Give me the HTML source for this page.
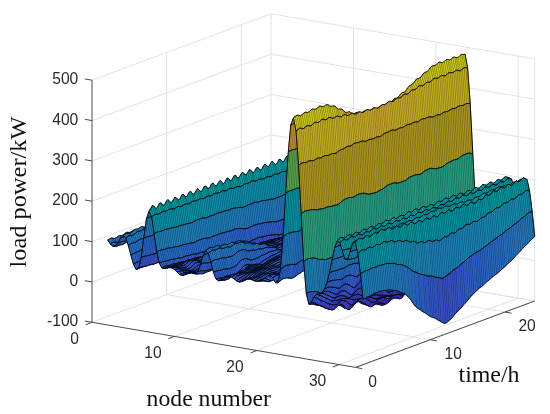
<!DOCTYPE html>
<html><head><meta charset="utf-8"><title>load power</title><style>html,body{margin:0;padding:0;background:#fff}svg{display:block}</style></head><body>
<svg width="550" height="414" viewBox="0 0 550 414">
<style>.h{stroke:#000;stroke-opacity:.5;stroke-width:.6;fill:none}.e{stroke:#000;stroke-opacity:.9;stroke-width:1;fill:none;stroke-linejoin:round}</style>
<rect width="550" height="414" fill="#fff"/>
<path d="M92 322.3L271.1 255.9M271.1 255.9L534.7 301M92 281.9L271.1 215.5M271.1 215.5L534.7 260.6M92 241.6L271.1 175.2M271.1 175.2L534.7 220.3M92 201.2L271.1 134.8M271.1 134.8L534.7 179.9M92 160.9L271.1 94.5M271.1 94.5L534.7 139.6M92 120.6L271.1 54.1M271.1 54.1L534.7 99.2M92 80.2L271.1 13.8M271.1 13.8L534.7 58.9M166.6 294.6L166.6 52.5M166.6 294.6L430.2 339.7M241.2 267L241.2 24.9M241.2 267L504.9 312M271.1 255.9L271.1 13.8M271.1 255.9L534.7 301M353.5 270L353.5 27.9M174.4 336.4L353.5 270M435.9 284.1L435.9 42M256.8 350.5L435.9 284.1M518.2 298.2L518.2 56.1M339.1 364.6L518.2 298.2M534.7 301L534.7 58.9M355.6 367.4L534.7 301" stroke="#e2e2e2" stroke-width="1" fill="none"/>
<g stroke-linejoin="round" stroke-width=".4">
<path d="M107.7 239.9l1.7-.9 1.8-1 1.7 .1 1.7 .4 1.8-.8 1.7-1.5 1.7-.7 1.8 .1 1.7-.6 1.7-1.7 1.8-1.1 1.7 .2 1.7-.1 1.8-1.1 1.7-1.2 2.6 4-1.7 1.4-1.8 1.3-1.7 .2-1.7-.2-1.8 .8-1.7 1.4-1.8 .5-1.7-.1-1.7 .7-1.8 1.6-1.7 .8-1.7-.2-1.8-.1-1.7 1-1.7 .8z" fill="#2676cc" stroke="#2676cc"/>
<path class="h" d="M107.7 239.9l2.6 4M109.4 239l2.6 4.1M111.2 238l2.5 4.1M112.9 238.1l2.6 4.1M114.6 238.5l2.6 3.9M116.4 237.7l2.5 3.9M118.1 236.2l2.6 3.8M119.8 235.5l2.6 3.8M121.6 235.6l2.5 3.8M123.3 235l2.6 3.9M125 233.3l2.6 4.2M126.8 232.2l2.6 4.5M128.5 232.4l2.6 4.5M130.2 232.3l2.6 4.4M132 231.2l2.6 4.2M133.7 230l2.6 4"/>
<path class="e" d="M107.7 239.9l2.6 4"/>
<path class="e" d="M107.7 239.9l1.7-.9 1.8-1 1.7 .1 1.7 .4 1.8-.8 1.7-1.5 1.7-.7 1.8 .1 1.7-.6 1.7-1.7 1.8-1.1 1.7 .2 1.7-.1 1.8-1.1 1.7-1.2"/>
<path class="e" d="M110.3 243.9l1.7-.8 1.7-1 1.8 .1 1.7 .2 1.7-.8 1.8-1.6 1.7-.7 1.7 .1 1.8-.5 1.7-1.4 1.8-.8 1.7 .2 1.7-.2 1.8-1.3 1.7-1.4"/>
<path d="M110.3 243.9l1.7-.8 1.7-1 1.8 .1 1.7 .2 1.7-.8 2.6 2.4-1.7 .9-1.7 0-1.8 .1-1.7 .8-1.7 .7z" fill="#2671cf" stroke="#2671cf"/>
<path class="h" d="M110.3 243.9l2.6 2.6M112 243.1l2.6 2.7M113.7 242.1l2.6 2.9M115.5 242.2l2.6 2.7M117.2 242.4l2.6 2.5M118.9 241.6l2.6 2.4"/>
<path class="e" d="M110.3 243.9l2.6 2.6"/>
<path class="e" d="M110.3 243.9l1.7-.8 1.7-1 1.8 .1 1.7 .2 1.7-.8"/>
<path class="e" d="M112.9 246.5l1.7-.7 1.7-.8 1.8-.1 1.7 0 1.7-.9"/>
<path d="M112.9 246.5l1.7-.7 1.7-.8 2.6 .2-1.7 .7-1.8 .5z" fill="#2671cf" stroke="#2671cf"/>
<path class="h" d="M112.9 246.5l2.5-.1M114.6 245.8l2.6 .1M116.3 245l2.6 .2"/>
<path class="e" d="M112.9 246.5l2.5-.1"/>
<path class="e" d="M112.9 246.5l1.7-.7 1.7-.8"/>
<path class="e" d="M115.4 246.4l1.8-.5 1.7-.7"/>
<path d="M115.4 246.4l1.8-.5 1.7-.7 1.7-.3 1.8-.2 1.7-.9 1.7-1.2 1.8-.8 2.6-3.8-1.8 .9-1.7 1.3-1.7 .8-1.8 .4-1.7 .2-1.7 .7-1.8 .5z" fill="#2671cf" stroke="#2671cf"/>
<path class="h" d="M115.4 246.4l2.6-3.6M117.2 245.9l2.6-3.6M118.9 245.2l2.6-3.6M120.6 244.9l2.6-3.5M122.4 244.7l2.6-3.7M124.1 243.8l2.6-3.6M125.8 242.6l2.6-3.7M127.6 241.8l2.6-3.8"/>
<path class="e" d="M115.4 246.4l2.6-3.6"/>
<path class="e" d="M115.4 246.4l1.8-.5 1.7-.7 1.7-.3 1.8-.2 1.7-.9 1.7-1.2 1.8-.8"/>
<path class="e" d="M118 242.8l1.8-.5 1.7-.7 1.7-.2 1.8-.4 1.7-.8 1.7-1.3 1.8-.9"/>
<path d="M118 242.8l1.8-.5 1.7-.7 1.7-.2 1.8-.4 1.7-.8 2.6-5.1-1.8 1-1.7 .2-1.7 .2-1.8 .8-1.7 .6z" fill="#2676cc" stroke="#2676cc"/>
<path class="h" d="M118 242.8l2.6-4.9M119.8 242.3l2.5-5M121.5 241.6l2.6-5.1M123.2 241.4l2.6-5.1M125 241l2.5-4.9M126.7 240.2l2.6-5.1"/>
<path class="e" d="M118 242.8l2.6-4.9"/>
<path class="e" d="M118 242.8l1.8-.5 1.7-.7 1.7-.2 1.8-.4 1.7-.8"/>
<path class="e" d="M120.6 237.9l1.7-.6 1.8-.8 1.7-.2 1.7-.2 1.8-1"/>
<path d="M120.6 237.9l1.7-.6 1.8-.8 2.5-3.2-1.7 1-1.7 1z" fill="#247ac8" stroke="#247ac8"/>
<path class="h" d="M120.6 237.9l2.6-2.6M122.3 237.3l2.6-3M124.1 236.5l2.5-3.2"/>
<path class="e" d="M120.6 237.9l2.6-2.6"/>
<path class="e" d="M120.6 237.9l1.7-.6 1.8-.8"/>
<path class="e" d="M123.2 235.3l1.7-1 1.7-1"/>
<path d="M142.2 226.5l1.8 .5 1.7 .1 2.6 2.2-1.7-.1-1.8-.4z" fill="#217ec5" stroke="#217ec5"/>
<path d="M137 229.1l1.8-.6 1.7-1.3 1.7-.7 2.6 2.3-1.7 .6-1.7 1.3-1.8 .6z" fill="#1f82c2" stroke="#1f82c2"/>
<path d="M123.2 235.3l1.7-1 1.7-1 1.8-.1 1.7 .1 1.7-1.1 1.8-2 1.7-1 1.7-.1 2.6 2.2-1.7 .2-1.7 .9-1.8 1.9-1.7 1.1-1.7 0-1.8 .2-1.7 1.2-1.7 1z" fill="#217ec5" stroke="#217ec5"/>
<path class="h" d="M123.2 235.3l2.6 2.5M124.9 234.3l2.6 2.5M126.6 233.3l2.6 2.3M128.4 233.2l2.6 2.2M130.1 233.3l2.6 2.1M131.8 232.2l2.6 2.1M133.6 230.2l2.6 2.2M135.3 229.2l2.6 2.3M137 229.1l2.6 2.2M138.8 228.5l2.6 2.2M140.5 227.2l2.6 2.2M142.2 226.5l2.6 2.3M144 227l2.6 2.2M145.7 227.1l2.6 2.2"/>
<path class="e" d="M123.2 235.3l2.6 2.5"/>
<path class="e" d="M123.2 235.3l1.7-1 1.7-1 1.8-.1 1.7 .1 1.7-1.1 1.8-2 1.7-1 1.7-.1 1.8-.6 1.7-1.3 1.7-.7 1.8 .5 1.7 .1"/>
<path class="e" d="M125.8 237.8l1.7-1 1.7-1.2 1.8-.2 1.7 0 1.7-1.1 1.8-1.9 1.7-.9 1.7-.2 1.8-.6 1.7-1.3 1.7-.6 1.8 .4 1.7 .1"/>
<path d="M125.8 237.8l1.7-1 1.7-1.2 1.8-.2 1.7 0 1.7-1.1 1.8-1.9 1.7-.9 1.7-.2 1.8-.6 1.7-1.3 1.7-.6 2.6 8-1.7 .5-1.8 .8-1.7 .6-1.7 .4-1.8 .9-1.7 1.3-1.7 1-1.8 .5-1.7 .5-1.7 1-1.8 1z" fill="#217ec5" stroke="#217ec5"/>
<path class="h" d="M125.8 237.8l2.5 7.5M127.5 236.8l2.6 7.5M129.2 235.6l2.6 7.7M131 235.4l2.5 7.4M132.7 235.4l2.6 6.9M134.4 234.3l2.6 7M136.2 232.4l2.5 7.6M137.9 231.5l2.6 7.6M139.6 231.3l2.6 7.4M141.4 230.7l2.5 7.4M143.1 229.4l2.6 7.9M144.8 228.8l2.6 8"/>
<path class="e" d="M125.8 237.8l2.5 7.5"/>
<path class="e" d="M125.8 237.8l1.7-1 1.7-1.2 1.8-.2 1.7 0 1.7-1.1 1.8-1.9 1.7-.9 1.7-.2 1.8-.6 1.7-1.3 1.7-.6"/>
<path class="e" d="M128.3 245.3l1.8-1 1.7-1 1.7-.5 1.8-.5 1.7-1 1.7-1.3 1.8-.9 1.7-.4 1.7-.6 1.8-.8 1.7-.5"/>
<path d="M128.3 245.3l1.8-1 1.7-1 1.7-.5 1.8-.5 1.7-1 1.7-1.3 1.8-.9 1.7-.4 1.7-.6 2.6 10.1-1.7 .5-1.7 .4-1.8 .7-1.7 1.1-1.8 .9-1.7 .6-1.7 .7-1.8 1-1.7 1z" fill="#2676cc" stroke="#2676cc"/>
<path class="h" d="M128.3 245.3l2.6 9.8M130.1 244.3l2.5 9.8M131.8 243.3l2.6 9.8M133.5 242.8l2.6 9.6M135.3 242.3l2.5 9.5M137 241.3l2.6 9.6M138.7 240l2.6 9.8M140.5 239.1l2.6 10M142.2 238.7l2.6 10M143.9 238.1l2.6 10.1"/>
<path class="e" d="M128.3 245.3l2.6 9.8"/>
<path class="e" d="M128.3 245.3l1.8-1 1.7-1 1.7-.5 1.8-.5 1.7-1 1.7-1.3 1.8-.9 1.7-.4 1.7-.6"/>
<path class="e" d="M130.9 255.1l1.7-1 1.8-1 1.7-.7 1.7-.6 1.8-.9 1.7-1.1 1.8-.7 1.7-.4 1.7-.5"/>
<path d="M130.9 255.1l1.7-1 1.8-1 1.7-.7 1.7-.6 1.8-.9 1.7-1.1 1.8-.7 2.5 9.6-1.7 .6-1.7 .9-1.8 .8-1.7 .6-1.7 .6-1.8 1.1-1.7 1z" fill="#2a68d4" stroke="#2a68d4"/>
<path class="h" d="M130.9 255.1l2.6 9.2M132.6 254.1l2.6 9.2M134.4 253.1l2.6 9.1M136.1 252.4l2.6 9.2M137.8 251.8l2.6 9.2M139.6 250.9l2.6 9.3M141.3 249.8l2.6 9.5M143.1 249.1l2.5 9.6"/>
<path class="e" d="M130.9 255.1l2.6 9.2"/>
<path class="e" d="M130.9 255.1l1.7-1 1.8-1 1.7-.7 1.7-.6 1.8-.9 1.7-1.1 1.8-.7"/>
<path class="e" d="M133.5 264.3l1.7-1 1.8-1.1 1.7-.6 1.7-.6 1.8-.8 1.7-.9 1.7-.6"/>
<path d="M133.5 264.3l1.7-1 1.8-1.1 1.7-.6 1.7-.6 2.6 5.9-1.7 .4-1.8 .5-1.7 1-1.7 .8z" fill="#345dd6" stroke="#345dd6"/>
<path class="h" d="M133.5 264.3l2.6 5.3M135.2 263.3l2.6 5.5M137 262.2l2.5 5.6M138.7 261.6l2.6 5.7M140.4 261l2.6 5.9"/>
<path class="e" d="M133.5 264.3l2.6 5.3"/>
<path class="e" d="M133.5 264.3l1.7-1 1.8-1.1 1.7-.6 1.7-.6"/>
<path class="e" d="M136.1 269.6l1.7-.8 1.7-1 1.8-.5 1.7-.4"/>
<path d="M155.1 263.1l1.8-.2 1.7-.5 2.6-.8-1.7 .5-1.8 .3z" fill="#3a53d4" stroke="#3a53d4"/>
<path d="M148.2 265l1.7-.2 1.8-.4 2.6-.5-1.8 .4-1.7 .2z" fill="#3a53d4" stroke="#3a53d4"/>
<path d="M139.5 267.8l1.8-.5 1.7-.4 1.7-.6 2.6-.6-1.7 .5-1.7 .2-1.8 .4z" fill="#3a53d4" stroke="#3a53d4"/>
<path d="M136.1 269.6l1.7-.8 2.6-1.2-1.7 .7z" fill="#3a53d4" stroke="#3a53d4"/>
<path class="h" d="M136.1 269.6l2.6-1.3M137.8 268.8l2.6-1.2M139.5 267.8l2.6-1M141.3 267.3l2.6-.9M143 266.9l2.6-.7M144.7 266.3l2.6-.6M148.2 265l2.6-.5M149.9 264.8l2.6-.5M151.7 264.4l2.6-.5M155.1 263.1l2.6-.7M156.9 262.9l2.6-.8M158.6 262.4l2.6-.8"/>
<path class="e" d="M136.1 269.6l2.6-1.3"/>
<path class="e" d="M136.1 269.6l1.7-.8M139.5 267.8l1.8-.5 1.7-.4 1.7-.6M148.2 265l1.7-.2 1.8-.4M155.1 263.1l1.8-.2 1.7-.5"/>
<path class="e" d="M138.7 268.3l1.7-.7M142.1 266.8l1.8-.4 1.7-.2 1.7-.5M150.8 264.5l1.7-.2 1.8-.4M157.7 262.4l1.8-.3 1.7-.5"/>
<path d="M154.3 263.9l1.7-.8 1.7-.7 1.8-.3 2.5-11-1.7 .4-1.7 .8-1.8 .9z" fill="#3a53d4" stroke="#3a53d4"/>
<path d="M138.7 268.3l1.7-.7 1.7-.8 1.8-.4 1.7-.2 1.7-.5 1.8-.7 1.7-.5 1.7-.2 1.8-.4 2.5-10.7-1.7 .5-1.7 .3-1.8 .4-1.7 .7-1.7 .5-1.8 .2-1.7 .3-1.7 .7-1.8 .6z" fill="#3858d5" stroke="#3858d5"/>
<path class="h" d="M138.7 268.3l2.5-10.9M140.4 267.6l2.6-10.8M142.1 266.8l2.6-10.7M143.9 266.4l2.5-10.6M145.6 266.2l2.6-10.6M147.3 265.7l2.6-10.6M149.1 265l2.5-10.6M150.8 264.5l2.6-10.5M152.5 264.3l2.6-10.6M154.3 263.9l2.5-10.7M156 263.1l2.6-10.8M157.7 262.4l2.6-10.9M159.5 262.1l2.5-11"/>
<path class="e" d="M138.7 268.3l2.5-10.9"/>
<path class="e" d="M138.7 268.3l1.7-.7 1.7-.8 1.8-.4 1.7-.2 1.7-.5 1.8-.7 1.7-.5 1.7-.2 1.8-.4 1.7-.8 1.7-.7 1.8-.3"/>
<path class="e" d="M141.2 257.4l1.8-.6 1.7-.7 1.7-.3 1.8-.2 1.7-.5 1.7-.7 1.8-.4 1.7-.3 1.7-.5 1.8-.9 1.7-.8 1.7-.4"/>
<path d="M141.2 257.4l1.8-.6 1.7-.7 1.7-.3 1.8-.2 1.7-.5 1.7-.7 1.8-.4 1.7-.3 1.7-.5 2.6-20.2-1.7 .6-1.8 .4-1.7 .6-1.7 .8-1.8 .6-1.7 .3-1.7 .3-1.8 .7-1.7 .6z" fill="#2a68d4" stroke="#2a68d4"/>
<path class="h" d="M141.2 257.4l2.6-19.5M143 256.8l2.5-19.5M144.7 256.1l2.6-19.5M146.4 255.8l2.6-19.5M148.2 255.6l2.5-19.6M149.9 255.1l2.6-19.7M151.6 254.4l2.6-19.8M153.4 254l2.5-20M155.1 253.7l2.6-20.1M156.8 253.2l2.6-20.2"/>
<path class="e" d="M141.2 257.4l2.6-19.5"/>
<path class="e" d="M141.2 257.4l1.8-.6 1.7-.7 1.7-.3 1.8-.2 1.7-.5 1.7-.7 1.8-.4 1.7-.3 1.7-.5"/>
<path class="e" d="M143.8 237.9l1.7-.6 1.8-.7 1.7-.3 1.7-.3 1.8-.6 1.7-.8 1.7-.6 1.8-.4 1.7-.6"/>
<path d="M143.8 237.9l1.7-.6 1.8-.7 1.7-.3 1.7-.3 1.8-.6 1.7-.8 2.6-20.3-1.7 1.6-1.8 .9-1.7-.2-1.7 .1-1.8 1.2-1.7 1.1z" fill="#217ec5" stroke="#217ec5"/>
<path class="h" d="M143.8 237.9l2.6-18.9M145.5 237.3l2.6-19.4M147.3 236.6l2.6-19.9M149 236.3l2.6-19.7M150.7 236l2.6-19.2M152.5 235.4l2.6-19.5M154.2 234.6l2.6-20.3"/>
<path class="e" d="M143.8 237.9l2.6-18.9"/>
<path class="e" d="M143.8 237.9l1.7-.6 1.8-.7 1.7-.3 1.7-.3 1.8-.6 1.7-.8"/>
<path class="e" d="M146.4 219l1.7-1.1 1.8-1.2 1.7-.1 1.7 .2 1.8-.9 1.7-1.6"/>
<path d="M146.4 219l1.7-1.1 1.8-1.2 1.7-.1 2.6-10.1-1.8-.8-1.7 3-1.7 2.6z" fill="#0f95b4" stroke="#0f95b4"/>
<path class="h" d="M146.4 219l2.6-7.7M148.1 217.9l2.6-9.2M149.9 216.7l2.5-11M151.6 216.6l2.6-10.1"/>
<path class="e" d="M146.4 219l2.6-7.7"/>
<path class="e" d="M146.4 219l1.7-1.1 1.8-1.2 1.7-.1"/>
<path class="e" d="M149 211.3l1.7-2.6 1.7-3 1.8 .8"/>
<path d="M284.2 161.1l1.7-3.9 1.8-1.5 2.5 13.3-1.7 .7-1.7 1.2z" fill="#019da4" stroke="#019da4"/>
<path d="M279 159.4l1.7 .2 1.8 2.3 1.7-.8 2.6 9.8-1.8 .6-1.7-.1-1.7 .5z" fill="#019aaa" stroke="#019aaa"/>
<path d="M261.7 169.6l1.7-3.8 1.7-1.8 1.8 2 1.7 .9 1.7-3.1 1.8-2.6 1.7 1.4 1.7 2.1 1.8-1.9 1.7-3.4 2.6 12.5-1.8 1.3-1.7 1-1.7 0-1.8 .1-1.7 1.1-1.7 1.1-1.8 .2-1.7 0-1.7 .8-1.8 1.2z" fill="#019da4" stroke="#019da4"/>
<path d="M258.2 167.6l1.7 2.4 1.8-.4 2.5 9.1-1.7 .5-1.7-.2z" fill="#019aaa" stroke="#019aaa"/>
<path d="M149 211.3l1.7-2.6 1.7-3 1.8 .8 1.7 2.2 1.7-1.6 1.8-3.8 1.7-.5 1.7 2.3 1.8-.3 1.7-3.6 1.7-1.7 1.8 2.1 1.7 1.2 1.7-2.9 1.8-2.9 1.7 1.2 1.7 2 1.8-1.9 1.7-3.6 1.7-.2 1.8 2.4 1.7-.6 1.7-3.7 1.8-1.4 1.7 2.3 1.7 .8 1.8-3.2 1.7-2.6 1.7 1.5 1.8 1.8 1.7-2.3 1.7-3.4 1.8 .2 1.7 2.3 1.8-.9 1.7-3.7 1.7-1 1.8 2.4 1.7 .5 1.7-3.3 1.8-2.2 1.7 1.8 1.7 1.6 1.8-2.5 1.7-3.3 1.7 .6 1.8 2.3 1.7-1.3 1.7-3.7 1.8-.6 1.7 2.4 1.7 0 1.8-3.6 1.7-2 1.7 1.9 1.8 1.2 1.7-2.8 1.7-2.9 1.8 1.1 1.7 2.2 1.7-1.5 1.8-3.5 1.7-.2 2.6 11.4-1.8 .4-1.7 1.1-1.7 .7-1.8-.2-1.7 0-1.7 1.1-1.8 1.1-1.7 .4-1.7 .2-1.8 1.1-1.7 1.4-1.7 .4-1.8-.3-1.7 .3-1.7 1.1-1.8 .6-1.7-.2-1.7 .3-1.8 1.3-1.7 1.1-1.7 0-1.8-.1-1.7 .9-1.7 1.2-1.8 .3-1.7-.1-1.7 .7-1.8 1.4-1.7 .8-1.7-.1-1.8 .5-1.7 1.3-1.7 1-1.8-.1-1.7 0-1.7 1-1.8 1.1-1.7 .4-1.7 0-1.8 1-1.7 1.4-1.7 .7-1.8-.2-1.7 .5-1.7 1.2-1.8 .9-1.7-.1-1.7 .2-1.8 1.1-1.7 1.2-1.7 0-1.8-.1-1.7 .7-1.7 1.2-1.8 .5-1.7-.1-1.7 .7-1.8 1.4-1.7 .9-1.7 0-1.8 .2-1.7 1.1-1.7 1.1z" fill="#019da4" stroke="#019da4"/>
<path class="h" d="M149 211.3l2.6 5.3M150.7 208.7l2.6 6.8M152.4 205.7l2.6 8.7M154.2 206.5l2.6 7.7M155.9 208.7l2.6 5.5M157.6 207.1l2.6 6.2M159.4 203.3l2.6 8.6M161.1 202.8l2.6 8.4M162.8 205.1l2.6 6.2M164.6 204.8l2.6 6M166.3 201.2l2.6 8.4M168 199.5l2.6 9.4M169.8 201.6l2.6 7.4M171.5 202.8l2.6 6.2M173.2 199.9l2.6 7.9M175 197l2.6 9.7M176.7 198.2l2.6 8.3M178.4 200.2l2.6 6.4M180.2 198.3l2.6 7.4M181.9 194.7l2.6 9.8M183.6 194.5l2.6 9.5M185.4 196.9l2.6 7.3M187.1 196.3l2.6 7.2M188.8 192.6l2.6 9.5M190.6 191.2l2.6 9.9M192.3 193.5l2.6 7.6M194 194.3l2.6 6.4M195.8 191.1l2.6 8.5M197.5 188.5l2.6 10.1M199.2 190l2.6 8.6M201 191.8l2.6 6.9M202.7 189.5l2.6 8.2M204.4 186.1l2.6 10.3M206.2 186.3l2.6 9.6M207.9 188.6l2.6 7.4M209.7 187.7l2.5 7.5M211.4 184l2.6 9.8M213.1 183l2.6 10.1M214.9 185.4l2.5 7.8M216.6 185.9l2.6 7M218.3 182.6l2.6 9.1M220.1 180.4l2.5 10.4M221.8 182.2l2.6 8.7M223.5 183.8l2.6 7.1M225.3 181.3l2.5 8.5M227 178l2.6 10.5M228.7 178.6l2.6 9.6M230.5 180.9l2.5 7.5M232.2 179.6l2.6 8.2M233.9 175.9l2.6 10.8M235.7 175.3l2.5 11.1M237.4 177.7l2.6 9M239.1 177.7l2.6 8.6M240.9 174.1l2.5 10.8M242.6 172.1l2.6 11.7M244.3 174l2.6 9.6M246.1 175.2l2.5 8M247.8 172.4l2.6 9.7M249.5 169.5l2.6 11.5M251.3 170.6l2.5 10.4M253 172.8l2.6 8.4M254.7 171.3l2.6 9.2M256.5 167.8l2.5 11.6M258.2 167.6l2.6 11.4M259.9 170l2.6 9.2M261.7 169.6l2.5 9.1M263.4 165.8l2.6 11.7M265.1 164l2.6 12.7M266.9 166l2.5 10.7M268.6 166.9l2.6 9.6M270.3 163.8l2.6 11.6M272.1 161.2l2.5 13.1M273.8 162.6l2.6 11.6M275.5 164.7l2.6 9.5M277.3 162.8l2.5 10.4M279 159.4l2.6 12.5M280.7 159.6l2.6 11.8M282.5 161.9l2.5 9.6M284.2 161.1l2.6 9.8M285.9 157.2l2.6 12.5M287.7 155.7l2.5 13.3"/>
<path class="e" d="M149 211.3l2.6 5.3"/>
<path class="e" d="M149 211.3l1.7-2.6 1.7-3 1.8 .8 1.7 2.2 1.7-1.6 1.8-3.8 1.7-.5 1.7 2.3 1.8-.3 1.7-3.6 1.7-1.7 1.8 2.1 1.7 1.2 1.7-2.9 1.8-2.9 1.7 1.2 1.7 2 1.8-1.9 1.7-3.6 1.7-.2 1.8 2.4 1.7-.6 1.7-3.7 1.8-1.4 1.7 2.3 1.7 .8 1.8-3.2 1.7-2.6 1.7 1.5 1.8 1.8 1.7-2.3 1.7-3.4 1.8 .2 1.7 2.3 1.8-.9 1.7-3.7 1.7-1 1.8 2.4 1.7 .5 1.7-3.3 1.8-2.2 1.7 1.8 1.7 1.6 1.8-2.5 1.7-3.3 1.7 .6 1.8 2.3 1.7-1.3 1.7-3.7 1.8-.6 1.7 2.4 1.7 0 1.8-3.6 1.7-2 1.7 1.9 1.8 1.2 1.7-2.8 1.7-2.9 1.8 1.1 1.7 2.2 1.7-1.5 1.8-3.5 1.7-.2 1.7 2.4 1.8-.4 1.7-3.8 1.7-1.8 1.8 2 1.7 .9 1.7-3.1 1.8-2.6 1.7 1.4 1.7 2.1 1.8-1.9 1.7-3.4 1.7 .2 1.8 2.3 1.7-.8 1.7-3.9 1.8-1.5"/>
<path class="e" d="M151.6 216.6l1.7-1.1 1.7-1.1 1.8-.2 1.7 0 1.7-.9 1.8-1.4 1.7-.7 1.7 .1 1.8-.5 1.7-1.2 1.7-.7 1.8 .1 1.7 0 1.7-1.2 1.8-1.1 1.7-.2 1.7 .1 1.8-.9 1.7-1.2 1.7-.5 1.8 .2 1.7-.7 1.7-1.4 1.8-1 1.7 0 1.7-.4 1.8-1.1 1.7-1 1.7 0 1.8 .1 1.7-1 1.7-1.3 1.8-.5 1.7 .1 1.7-.8 1.8-1.4 1.7-.7 1.7 .1 1.8-.3 1.7-1.2 1.7-.9 1.8 .1 1.7 0 1.7-1.1 1.8-1.3 1.7-.3 1.7 .2 1.8-.6 1.7-1.1 1.7-.3 1.8 .3 1.7-.4 1.7-1.4 1.8-1.1 1.7-.2 1.7-.4 1.8-1.1 1.7-1.1 1.7 0 1.8 .2 1.7-.7 1.7-1.1 1.8-.4 1.7 .2 1.7-.5 1.8-1.2 1.7-.8 1.7 0 1.8-.2 1.7-1.1 1.7-1.1 1.8-.1 1.7 0 1.7-1 1.8-1.3 1.7-.5 1.7 .1 1.8-.6 1.7-1.2 1.7-.7"/>
<path d="M201.8 198.6l1.8 .1 1.7-1 1.7-1.3 1.8-.5 1.7 .1 1.7-.8 1.8-1.4 1.7-.7 1.7 .1 1.8-.3 1.7-1.2 1.7-.9 1.8 .1 1.7 0 1.7-1.1 1.8-1.3 1.7-.3 1.7 .2 1.8-.6 1.7-1.1 1.7-.3 1.8 .3 1.7-.4 1.7-1.4 1.8-1.1 1.7-.2 1.7-.4 1.8-1.1 1.7-1.1 1.7 0 1.8 .2 1.7-.7 1.7-1.1 1.8-.4 1.7 .2 1.7-.5 1.8-1.2 1.7-.8 1.7 0 1.8-.2 1.7-1.1 1.7-1.1 1.8-.1 1.7 0 1.7-1 1.8-1.3 1.7-.5 1.7 .1 1.8-.6 2.6 22.4-1.8 .4-1.7 .3-1.7 .6-1.8 1-1.7 .9-1.7 .5-1.8 .5-1.7 .8-1.7 .7-1.8 .2-1.7 .1-1.7 .4-1.8 .5-1.7 .3-1.7 .1-1.8 .3-1.7 .7-1.7 .5-1.8 .1-1.7 .2-1.7 .7-1.8 .9-1.7 .6-1.7 .6-1.8 1-1.7 .9-1.8 .3-1.7-.1-1.7 .1-1.8 .4-1.7 .2-1.7 .2-1.8 .4-1.7 .8-1.7 .8-1.8 .3-1.7 .3-1.7 .6-1.8 .8-1.7 .4-1.7 .3-1.8 .7-1.7 .9-1.7 .8-1.8 .4-1.7 .7-1.7 .9-1.8 .6-1.7 .1z" fill="#0f95b4" stroke="#0f95b4"/>
<path d="M189.7 203.5l1.7-1.4 1.8-1 1.7 0 1.7-.4 1.8-1.1 1.7-1 1.7 0 2.6 19.4-1.7 .1-1.8 .5-1.7 .7-1.7 .6-1.8 .6-1.7 .9-1.7 1.1z" fill="#0698af" stroke="#0698af"/>
<path d="M188 204.2l1.7-.7 2.6 19-1.8 .7z" fill="#0f95b4" stroke="#0f95b4"/>
<path d="M151.6 216.6l1.7-1.1 1.7-1.1 1.8-.2 1.7 0 1.7-.9 1.8-1.4 1.7-.7 1.7 .1 1.8-.5 1.7-1.2 1.7-.7 1.8 .1 1.7 0 1.7-1.2 1.8-1.1 1.7-.2 1.7 .1 1.8-.9 1.7-1.2 1.7-.5 1.8 .2 2.5 19-1.7 .2-1.7 .3-1.8 .7-1.7 .5-1.7 .3-1.8 .4-1.7 .8-1.7 .7-1.8 .3-1.7 .1-1.7 .5-1.8 .6-1.7 .4-1.7 .2-1.8 .6-1.7 .8-1.7 .7-1.8 .3-1.7 .4-1.7 .7-1.8 .7z" fill="#0698af" stroke="#0698af"/>
<path class="h" d="M151.6 216.6l2.5 16.8M153.3 215.5l2.6 17.2M155 214.4l2.6 17.6M156.8 214.2l2.5 17.4M158.5 214.2l2.6 17.1M160.2 213.3l2.6 17.3M162 211.9l2.5 17.9M163.7 211.2l2.6 18M165.4 211.3l2.6 17.7M167.2 210.8l2.5 17.8M168.9 209.6l2.6 18.4M170.6 208.9l2.6 18.6M172.4 209l2.5 18.4M174.1 209l2.6 18.1M175.8 207.8l2.6 18.6M177.6 206.7l2.5 18.9M179.3 206.5l2.6 18.7M181 206.6l2.6 18.3M182.8 205.7l2.5 18.7M184.5 204.5l2.6 19.2M186.2 204l2.6 19.4M188 204.2l2.5 19M189.7 203.5l2.6 19M191.4 202.1l2.6 19.3M193.2 201.1l2.5 19.4M194.9 201.1l2.6 18.8M196.6 200.7l2.6 18.6M198.4 199.6l2.5 19M200.1 198.6l2.6 19.5M201.8 198.6l2.6 19.4M203.6 198.7l2.5 19.2M205.3 197.7l2.6 19.6M207 196.4l2.6 20M208.8 195.9l2.5 19.8M210.5 196l2.6 19.3M212.2 195.2l2.6 19.3M214 193.8l2.5 19.8M215.7 193.1l2.6 19.8M217.4 193.2l2.6 19.4M219.2 192.9l2.5 19.3M220.9 191.7l2.6 19.7M222.6 190.8l2.6 20M224.4 190.9l2.5 19.6M226.1 190.9l2.6 19.3M227.8 189.8l2.6 19.6M229.6 188.5l2.5 20.1M231.3 188.2l2.6 20M233 188.4l2.6 19.6M234.8 187.8l2.5 20M236.5 186.7l2.6 20.7M238.2 186.4l2.6 20.9M240 186.7l2.5 20.7M241.7 186.3l2.6 20.8M243.4 184.9l2.6 21.3M245.2 183.8l2.6 21.4M246.9 183.6l2.6 21M248.6 183.2l2.6 20.8M250.4 182.1l2.6 21M252.1 181l2.6 21.4M253.8 181l2.6 21.2M255.6 181.2l2.6 20.9M257.3 180.5l2.6 21.1M259 179.4l2.6 21.5M260.8 179l2.6 21.6M262.5 179.2l2.6 21.3M264.2 178.7l2.6 21.5M266 177.5l2.6 22.2M267.7 176.7l2.6 22.6M269.4 176.7l2.6 22.5M271.2 176.5l2.6 22.5M272.9 175.4l2.6 22.9M274.6 174.3l2.6 23.2M276.4 174.2l2.6 22.8M278.1 174.2l2.6 22.3M279.8 173.2l2.6 22.4M281.6 171.9l2.6 22.7M283.3 171.4l2.6 22.6M285 171.5l2.6 22.2M286.8 170.9l2.6 22.4"/>
<path class="e" d="M151.6 216.6l2.5 16.8"/>
<path class="e" d="M151.6 216.6l1.7-1.1 1.7-1.1 1.8-.2 1.7 0 1.7-.9 1.8-1.4 1.7-.7 1.7 .1 1.8-.5 1.7-1.2 1.7-.7 1.8 .1 1.7 0 1.7-1.2 1.8-1.1 1.7-.2 1.7 .1 1.8-.9 1.7-1.2 1.7-.5 1.8 .2 1.7-.7 1.7-1.4 1.8-1 1.7 0 1.7-.4 1.8-1.1 1.7-1 1.7 0 1.8 .1 1.7-1 1.7-1.3 1.8-.5 1.7 .1 1.7-.8 1.8-1.4 1.7-.7 1.7 .1 1.8-.3 1.7-1.2 1.7-.9 1.8 .1 1.7 0 1.7-1.1 1.8-1.3 1.7-.3 1.7 .2 1.8-.6 1.7-1.1 1.7-.3 1.8 .3 1.7-.4 1.7-1.4 1.8-1.1 1.7-.2 1.7-.4 1.8-1.1 1.7-1.1 1.7 0 1.8 .2 1.7-.7 1.7-1.1 1.8-.4 1.7 .2 1.7-.5 1.8-1.2 1.7-.8 1.7 0 1.8-.2 1.7-1.1 1.7-1.1 1.8-.1 1.7 0 1.7-1 1.8-1.3 1.7-.5 1.7 .1 1.8-.6"/>
<path class="e" d="M154.1 233.4l1.8-.7 1.7-.7 1.7-.4 1.8-.3 1.7-.7 1.7-.8 1.8-.6 1.7-.2 1.7-.4 1.8-.6 1.7-.5 1.7-.1 1.8-.3 1.7-.7 1.7-.8 1.8-.4 1.7-.3 1.7-.5 1.8-.7 1.7-.3 1.7-.2 1.8-.7 1.7-1.1 1.7-.9 1.8-.6 1.7-.6 1.7-.7 1.8-.5 1.7-.1 1.7-.1 1.8-.6 1.7-.9 1.7-.7 1.8-.4 1.7-.8 1.7-.9 1.8-.7 1.7-.3 1.7-.4 1.8-.8 1.7-.6 1.7-.3 1.8-.3 1.7-.8 1.7-.8 1.8-.4 1.7-.2 1.7-.2 1.8-.4 1.7-.1 1.7 .1 1.8-.3 1.7-.9 1.8-1 1.7-.6 1.7-.6 1.8-.9 1.7-.7 1.7-.2 1.8-.1 1.7-.5 1.7-.7 1.8-.3 1.7-.1 1.7-.3 1.8-.5 1.7-.4 1.7-.1 1.8-.2 1.7-.7 1.7-.8 1.8-.5 1.7-.5 1.7-.9 1.8-1 1.7-.6 1.7-.3 1.8-.4"/>
<path d="M284.2 194.6l1.7-.6 2.6 22.9-1.8 .6z" fill="#217ec5" stroke="#217ec5"/>
<path d="M273.8 199l1.7-.7 1.7-.8 1.8-.5 1.7-.5 1.7-.9 1.8-1 2.5 22.9-1.7 1.1-1.7 .9-1.8 .5-1.7 .5-1.7 .7-1.8 .6z" fill="#247ac8" stroke="#247ac8"/>
<path d="M240.8 207.3l1.7 .1 1.8-.3 1.7-.9 1.8-1 1.7-.6 1.7-.6 1.8-.9 1.7-.7 1.7-.2 1.8-.1 1.7-.5 1.7-.7 1.8-.3 1.7-.1 1.7-.3 1.8-.5 1.7-.4 1.7-.1 1.8-.2 2.5 22.8-1.7 .1-1.7-.2-1.8 .2-1.7 .3-1.7 .2-1.8 0-1.7 .3-1.7 .7-1.8 .4-1.7 .1-1.7 .3-1.8 .6-1.7 .8-1.7 .7-1.8 .6-1.7 .9-1.7 .9-1.8 .2-1.7-.3z" fill="#217ec5" stroke="#217ec5"/>
<path d="M185.3 224.4l1.8-.7 1.7-.3 1.7-.2 1.8-.7 1.7-1.1 1.7-.9 1.8-.6 1.7-.6 1.7-.7 1.8-.5 1.7-.1 1.7-.1 1.8-.6 1.7-.9 1.7-.7 1.8-.4 1.7-.8 1.7-.9 1.8-.7 1.7-.3 1.7-.4 1.8-.8 1.7-.6 1.7-.3 1.8-.3 1.7-.8 1.7-.8 1.8-.4 1.7-.2 1.7-.2 1.8-.4 1.7-.1 2.6 21.3-1.7-.1-1.8 .1-1.7 .1-1.7 .1-1.8 .4-1.7 .9-1.7 .7-1.8 .4-1.7 .3-1.7 .5-1.8 .7-1.7 .4-1.7 .2-1.8 .6-1.7 .9-1.7 .7-1.8 .5-1.7 .7-1.7 .9-1.8 .6-1.7 .1-1.7 0-1.8 .4-1.7 .6-1.7 .4-1.8 .6-1.7 .9-1.7 1.1-1.8 .6-1.7 .1-1.8 .3-1.7 .5z" fill="#1f82c2" stroke="#1f82c2"/>
<path d="M154.1 233.4l1.8-.7 1.7-.7 1.7-.4 1.8-.3 1.7-.7 1.7-.8 1.8-.6 1.7-.2 1.7-.4 1.8-.6 1.7-.5 1.7-.1 1.8-.3 1.7-.7 1.7-.8 1.8-.4 1.7-.3 1.7-.5 2.6 19.4-1.7 .5-1.8 .2-1.7 .4-1.7 .7-1.8 .7-1.7 .3-1.7 .1-1.8 .3-1.7 .6-1.7 .3-1.8 .1-1.7 .4-1.7 .7-1.8 .6-1.7 .2-1.7 .4-1.8 .7-1.7 .6z" fill="#1e86c0" stroke="#1e86c0"/>
<path class="h" d="M154.1 233.4l2.6 18.2M155.9 232.7l2.5 18.3M157.6 232l2.6 18.3M159.3 231.6l2.6 18.3M161.1 231.3l2.5 18.4M162.8 230.6l2.6 18.5M164.5 229.8l2.6 18.6M166.3 229.2l2.5 18.8M168 229l2.6 18.9M169.7 228.6l2.6 19M171.5 228l2.5 19M173.2 227.5l2.6 19.2M174.9 227.4l2.6 19.2M176.7 227.1l2.5 19.2M178.4 226.4l2.6 19.2M180.1 225.6l2.6 19.3M181.9 225.2l2.5 19.3M183.6 224.9l2.6 19.4M185.3 224.4l2.6 19.4M187.1 223.7l2.5 19.6M188.8 223.4l2.6 19.6M190.5 223.2l2.6 19.7M192.3 222.5l2.6 19.8M194 221.4l2.6 19.8M195.7 220.5l2.6 19.8M197.5 219.9l2.6 19.8M199.2 219.3l2.6 20M200.9 218.6l2.6 20.1M202.7 218.1l2.6 20.2M204.4 218l2.6 20.3M206.1 217.9l2.6 20.3M207.9 217.3l2.6 20.3M209.6 216.4l2.6 20.3M211.3 215.7l2.6 20.3M213.1 215.3l2.6 20.2M214.8 214.5l2.6 20.3M216.5 213.6l2.6 20.3M218.3 212.9l2.6 20.4M220 212.6l2.6 20.5M221.7 212.2l2.6 20.5M223.5 211.4l2.6 20.6M225.2 210.8l2.6 20.7M226.9 210.5l2.6 20.7M228.7 210.2l2.6 20.6M230.4 209.4l2.6 20.7M232.1 208.6l2.6 20.6M233.9 208.2l2.6 20.6M235.6 208l2.6 20.7M237.3 207.8l2.6 20.8M239.1 207.4l2.6 21.1M240.8 207.3l2.6 21.3M242.5 207.4l2.6 21.5M244.3 207.1l2.6 21.6M246 206.2l2.6 21.6M247.8 205.2l2.5 21.7M249.5 204.6l2.6 21.7M251.2 204l2.6 21.6M253 203.1l2.5 21.7M254.7 202.4l2.6 21.8M256.4 202.2l2.6 21.7M258.2 202.1l2.5 21.7M259.9 201.6l2.6 21.8M261.6 200.9l2.6 21.8M263.4 200.6l2.5 21.8M265.1 200.5l2.6 21.9M266.8 200.2l2.6 22M268.6 199.7l2.5 22.2M270.3 199.3l2.6 22.4M272 199.2l2.6 22.7M273.8 199l2.5 22.8M275.5 198.3l2.6 22.9M277.2 197.5l2.6 23M279 197l2.5 23M280.7 196.5l2.6 23M282.4 195.6l2.6 23M284.2 194.6l2.5 22.9M285.9 194l2.6 22.9"/>
<path class="e" d="M154.1 233.4l2.6 18.2"/>
<path class="e" d="M154.1 233.4l1.8-.7 1.7-.7 1.7-.4 1.8-.3 1.7-.7 1.7-.8 1.8-.6 1.7-.2 1.7-.4 1.8-.6 1.7-.5 1.7-.1 1.8-.3 1.7-.7 1.7-.8 1.8-.4 1.7-.3 1.7-.5 1.8-.7 1.7-.3 1.7-.2 1.8-.7 1.7-1.1 1.7-.9 1.8-.6 1.7-.6 1.7-.7 1.8-.5 1.7-.1 1.7-.1 1.8-.6 1.7-.9 1.7-.7 1.8-.4 1.7-.8 1.7-.9 1.8-.7 1.7-.3 1.7-.4 1.8-.8 1.7-.6 1.7-.3 1.8-.3 1.7-.8 1.7-.8 1.8-.4 1.7-.2 1.7-.2 1.8-.4 1.7-.1 1.7 .1 1.8-.3 1.7-.9 1.8-1 1.7-.6 1.7-.6 1.8-.9 1.7-.7 1.7-.2 1.8-.1 1.7-.5 1.7-.7 1.8-.3 1.7-.1 1.7-.3 1.8-.5 1.7-.4 1.7-.1 1.8-.2 1.7-.7 1.7-.8 1.8-.5 1.7-.5 1.7-.9 1.8-1 1.7-.6"/>
<path class="e" d="M156.7 251.6l1.7-.6 1.8-.7 1.7-.4 1.7-.2 1.8-.6 1.7-.7 1.7-.4 1.8-.1 1.7-.3 1.7-.6 1.8-.3 1.7-.1 1.7-.3 1.8-.7 1.7-.7 1.7-.4 1.8-.2 1.7-.5 1.7-.5 1.8-.3 1.7-.1 1.8-.6 1.7-1.1 1.7-.9 1.8-.6 1.7-.4 1.7-.6 1.8-.4 1.7 0 1.7-.1 1.8-.6 1.7-.9 1.7-.7 1.8-.5 1.7-.7 1.7-.9 1.8-.6 1.7-.2 1.7-.4 1.8-.7 1.7-.5 1.7-.3 1.8-.4 1.7-.7 1.7-.9 1.8-.4 1.7-.1 1.7-.1 1.8-.1 1.7 .1 1.7 .3 1.8-.2 1.7-.9 1.7-.9 1.8-.6 1.7-.7 1.7-.8 1.8-.6 1.7-.3 1.7-.1 1.8-.4 1.7-.7 1.7-.3 1.8 0 1.7-.2 1.7-.3 1.8-.2 1.7 .2 1.7-.1 1.8-.6 1.7-.7 1.7-.5 1.8-.5 1.7-.9 1.7-1.1 1.8-.6"/>
<path d="M274.6 221.9l1.7-.1 1.8-.6 1.7-.7 1.7-.5 1.8-.5 1.7-.9 2.6 13.9-1.8 .8-1.7 .4-1.7 .3-1.8 .5-1.7 .4-1.7-.1z" fill="#345dd6" stroke="#345dd6"/>
<path d="M259 223.9l1.7-.1 1.8-.4 1.7-.7 1.7-.3 1.8 0 1.7-.2 1.7-.3 1.8-.2 1.7 .2 2.6 12.9-1.8-.2-1.7 .1-1.7 .4-1.8 .2-1.7 0-1.7 .4-1.8 .7-1.7 .5-1.7 .2z" fill="#2f63d6" stroke="#2f63d6"/>
<path d="M252.1 226.3l1.7-.7 1.7-.8 1.8-.6 1.7-.3 2.6 13.2-1.8 .2-1.7 .6-1.7 .8-1.8 .6z" fill="#2a68d4" stroke="#2a68d4"/>
<path d="M246.9 228.7l1.7-.9 1.7-.9 1.8-.6 2.5 13-1.7 .7-1.7 .8-1.8 .8z" fill="#2f63d6" stroke="#2f63d6"/>
<path d="M227.8 231.5l1.7-.3 1.8-.4 1.7-.7 1.7-.9 1.8-.4 1.7-.1 1.7-.1 1.8-.1 1.7 .1 1.7 .3 1.8-.2 2.5 12.9-1.7 .2-1.7-.4-1.8-.2-1.7 .1-1.7 .2-1.8 .2-1.7 .5-1.7 .9-1.8 .9-1.7 .3-1.7 .2z" fill="#2a68d4" stroke="#2a68d4"/>
<path d="M179.2 246.3l1.8-.7 1.7-.7 1.7-.4 1.8-.2 1.7-.5 1.7-.5 1.8-.3 1.7-.1 1.8-.6 1.7-1.1 1.7-.9 1.8-.6 1.7-.4 1.7-.6 1.8-.4 1.7 0 1.7-.1 1.8-.6 1.7-.9 1.7-.7 1.8-.5 1.7-.7 1.7-.9 1.8-.6 1.7-.2 1.7-.4 1.8-.7 1.7-.5 2.6 13-1.8 .5-1.7 .5-1.7 .2-1.8 .1-1.7 .4-1.7 .8-1.8 .6-1.7 .5-1.7 .7-1.8 1-1.7 .7-1.7 .2-1.8 .1-1.7 .4-1.7 .5-1.8 .3-1.7 .3-1.7 .7-1.8 .8-1.7 .4-1.7 .1-1.8 .2-1.7 .6-1.7 .5-1.8 .3-1.7 .4-1.7 .8-1.8 .7z" fill="#276dd2" stroke="#276dd2"/>
<path d="M156.7 251.6l1.7-.6 1.8-.7 1.7-.4 1.7-.2 1.8-.6 1.7-.7 1.7-.4 1.8-.1 1.7-.3 1.7-.6 1.8-.3 1.7-.1 1.7-.3 2.6 11.5-1.7 .3-1.7 .1-1.8 .3-1.7 .6-1.7 .3-1.8 .1-1.7 .3-1.7 .8-1.8 .5-1.7 .3-1.7 .3-1.8 .8-1.7 .7z" fill="#2671cf" stroke="#2671cf"/>
<path class="h" d="M156.7 251.6l2.6 11.6M158.4 251l2.6 11.5M160.2 250.3l2.6 11.4M161.9 249.9l2.6 11.5M163.6 249.7l2.6 11.4M165.4 249.1l2.6 11.5M167.1 248.4l2.6 11.4M168.8 248l2.6 11.5M170.6 247.9l2.6 11.5M172.3 247.6l2.6 11.5M174 247l2.6 11.5M175.8 246.7l2.6 11.5M177.5 246.6l2.6 11.5M179.2 246.3l2.6 11.5M181 245.6l2.6 11.5M182.7 244.9l2.6 11.4M184.4 244.5l2.6 11.4M186.2 244.3l2.6 11.3M187.9 243.8l2.6 11.3M189.6 243.3l2.6 11.2M191.4 243l2.6 11.3M193.1 242.9l2.6 11.3M194.9 242.3l2.5 11.5M196.6 241.2l2.6 11.8M198.3 240.3l2.6 12M200.1 239.7l2.5 12.3M201.8 239.3l2.6 12.4M203.5 238.7l2.6 12.5M205.3 238.3l2.5 12.5M207 238.3l2.6 12.4M208.7 238.2l2.6 12.3M210.5 237.6l2.5 12.2M212.2 236.7l2.6 12.1M213.9 236l2.6 12.1M215.7 235.5l2.5 12.1M217.4 234.8l2.6 12.2M219.1 233.9l2.6 12.3M220.9 233.3l2.5 12.5M222.6 233.1l2.6 12.6M224.3 232.7l2.6 12.8M226.1 232l2.5 13M227.8 231.5l2.6 13M229.5 231.2l2.6 13.1M231.3 230.8l2.5 13.2M233 230.1l2.6 13M234.7 229.2l2.6 13M236.5 228.8l2.5 12.9M238.2 228.7l2.6 12.8M239.9 228.6l2.6 12.7M241.7 228.5l2.5 12.7M243.4 228.6l2.6 12.8M245.1 228.9l2.6 12.9M246.9 228.7l2.5 12.9M248.6 227.8l2.6 13M250.3 226.9l2.6 13.1M252.1 226.3l2.5 13M253.8 225.6l2.6 13.1M255.5 224.8l2.6 13.1M257.3 224.2l2.5 13.1M259 223.9l2.6 13.2M260.7 223.8l2.6 13.1M262.5 223.4l2.5 13M264.2 222.7l2.6 13M265.9 222.4l2.6 12.9M267.7 222.4l2.5 12.9M269.4 222.2l2.6 12.9M271.1 221.9l2.6 12.8M272.9 221.7l2.5 12.9M274.6 221.9l2.6 12.9M276.3 221.8l2.6 13.1M278.1 221.2l2.5 13.3M279.8 220.5l2.6 13.5M281.5 220l2.6 13.7M283.3 219.5l2.5 13.8M285 218.6l2.6 13.9"/>
<path class="e" d="M156.7 251.6l2.6 11.6"/>
<path class="e" d="M156.7 251.6l1.7-.6 1.8-.7 1.7-.4 1.7-.2 1.8-.6 1.7-.7 1.7-.4 1.8-.1 1.7-.3 1.7-.6 1.8-.3 1.7-.1 1.7-.3 1.8-.7 1.7-.7 1.7-.4 1.8-.2 1.7-.5 1.7-.5 1.8-.3 1.7-.1 1.8-.6 1.7-1.1 1.7-.9 1.8-.6 1.7-.4 1.7-.6 1.8-.4 1.7 0 1.7-.1 1.8-.6 1.7-.9 1.7-.7 1.8-.5 1.7-.7 1.7-.9 1.8-.6 1.7-.2 1.7-.4 1.8-.7 1.7-.5 1.7-.3 1.8-.4 1.7-.7 1.7-.9 1.8-.4 1.7-.1 1.7-.1 1.8-.1 1.7 .1 1.7 .3 1.8-.2 1.7-.9 1.7-.9 1.8-.6 1.7-.7 1.7-.8 1.8-.6 1.7-.3 1.7-.1 1.8-.4 1.7-.7 1.7-.3 1.8 0 1.7-.2 1.7-.3 1.8-.2 1.7 .2 1.7-.1 1.8-.6 1.7-.7 1.7-.5 1.8-.5 1.7-.9"/>
<path class="e" d="M159.3 263.2l1.7-.7 1.8-.8 1.7-.3 1.7-.3 1.8-.5 1.7-.8 1.7-.3 1.8-.1 1.7-.3 1.7-.6 1.8-.3 1.7-.1 1.7-.3 1.8-.7 1.7-.8 1.7-.4 1.8-.3 1.7-.5 1.7-.6 1.8-.2 1.7-.1 1.7-.4 1.8-.8 1.7-.7 1.7-.3 1.8-.3 1.7-.5 1.7-.4 1.8-.1 1.7-.2 1.7-.7 1.8-1 1.7-.7 1.7-.5 1.8-.6 1.7-.8 1.7-.4 1.8-.1 1.7-.2 1.7-.5 1.8-.5 1.7-.2 1.7-.3 1.8-.9 1.7-.9 1.7-.5 1.8-.2 1.7-.2 1.7-.1 1.8 .2 1.7 .4 1.7-.2 1.8-.8 1.7-.8 1.7-.7 1.8-.6 1.7-.8 1.7-.6 1.8-.2 1.7-.2 1.7-.5 1.8-.7 1.7-.4 1.7 0 1.8-.2 1.7-.4 1.7-.1 1.8 .2 1.7 .1 1.7-.4 1.8-.5 1.7-.3 1.7-.4 1.8-.8"/>
<path d="M272 235.1l1.7-.4 1.7-.1 1.8 .2 1.7 .1 1.7-.4 1.8-.5 2.6 4.3-1.8 .3-1.7 .2-1.7-.2-1.8-.2-1.7 .2-1.7 .5z" fill="#3b4fd3" stroke="#3b4fd3"/>
<path d="M247.7 241.8l1.7-.2 1.8-.8 1.7-.8 1.7-.7 1.8-.6 1.7-.8 1.7-.6 1.8-.2 1.7-.2 1.7-.5 1.8-.7 1.7-.4 1.7 0 1.8-.2 2.6 4-1.8 .4-1.7 .2-1.7 .5-1.8 .8-1.7 .6-1.7 .2-1.8 .2-1.7 .7-1.7 .7-1.8 .6-1.7 .6-1.7 .8-1.8 .8-1.7 .1z" fill="#3a53d4" stroke="#3a53d4"/>
<path d="M242.5 241.3l1.7-.1 2.6 4.6-1.7 .2z" fill="#3858d5" stroke="#3858d5"/>
<path d="M180.1 258.1l1.7-.3 1.8-.7 1.7-.8 1.7-.4 1.8-.3 1.7-.5 1.7-.6 1.8-.2 1.7-.1 1.7-.4 1.8-.8 1.7-.7 1.7-.3 1.8-.3 2.5 4.9-1.7 .1-1.7-.1-1.8 .2-1.7 .5-1.7 .2-1.8 .1-1.7 .4-1.7 .7-1.8 .7-1.7 .3-1.7 .4-1.8 .8-1.7 .7-1.7 .3z" fill="#345dd6" stroke="#345dd6"/>
<path d="M159.3 263.2l1.7-.7 1.8-.8 1.7-.3 1.7-.3 1.8-.5 1.7-.8 1.7-.3 1.8-.1 1.7-.3 1.7-.6 1.8-.3 1.7-.1 2.6 3.8-1.8 .2-1.7 .5-1.7 .7-1.8 .3-1.7 .2-1.7 .4-1.8 .8-1.7 .5-1.7 .3-1.8 .5-1.7 .8-1.7 .8z" fill="#2f63d6" stroke="#2f63d6"/>
<path class="h" d="M159.3 263.2l2.6 4.7M161 262.5l2.6 4.6M162.8 261.7l2.5 4.6M164.5 261.4l2.6 4.4M166.2 261.1l2.6 4.4M168 260.6l2.5 4.4M169.7 259.8l2.6 4.4M171.4 259.5l2.6 4.3M173.2 259.4l2.5 4.2M174.9 259.1l2.6 4.2M176.6 258.5l2.6 4.1M178.4 258.2l2.5 3.9M180.1 258.1l2.6 3.8M181.8 257.8l2.6 3.8M183.6 257.1l2.5 3.8M185.3 256.3l2.6 3.8M187 255.9l2.6 3.8M188.8 255.6l2.5 3.8M190.5 255.1l2.6 3.6M192.2 254.5l2.6 3.5M194 254.3l2.5 3.3M195.7 254.2l2.6 3.3M197.4 253.8l2.6 3.5M199.2 253l2.5 3.8M200.9 252.3l2.6 4.3M202.6 252l2.6 4.7M204.4 251.7l2.5 4.9M242.5 241.3l2.6 4.7M244.2 241.2l2.6 4.6M247.7 241.8l2.6 4.5M249.4 241.6l2.6 4.6M251.2 240.8l2.6 4.6M252.9 240l2.6 4.6M254.6 239.3l2.6 4.7M256.4 238.7l2.6 4.7M258.1 237.9l2.6 4.8M259.8 237.3l2.6 4.7M261.6 237.1l2.6 4.7M263.3 236.9l2.6 4.7M265 236.4l2.6 4.6M266.8 235.7l2.6 4.5M268.5 235.3l2.6 4.4M270.2 235.3l2.6 4.2M272 235.1l2.6 4M273.7 234.7l2.6 3.9M275.4 234.6l2.6 3.8M277.2 234.8l2.6 3.8M278.9 234.9l2.6 3.9M280.6 234.5l2.6 4.1M282.4 234l2.6 4.3"/>
<path class="e" d="M159.3 263.2l2.6 4.7"/>
<path class="e" d="M159.3 263.2l1.7-.7 1.8-.8 1.7-.3 1.7-.3 1.8-.5 1.7-.8 1.7-.3 1.8-.1 1.7-.3 1.7-.6 1.8-.3 1.7-.1 1.7-.3 1.8-.7 1.7-.8 1.7-.4 1.8-.3 1.7-.5 1.7-.6 1.8-.2 1.7-.1 1.7-.4 1.8-.8 1.7-.7 1.7-.3 1.8-.3M242.5 241.3l1.7-.1M247.7 241.8l1.7-.2 1.8-.8 1.7-.8 1.7-.7 1.8-.6 1.7-.8 1.7-.6 1.8-.2 1.7-.2 1.7-.5 1.8-.7 1.7-.4 1.7 0 1.8-.2 1.7-.4 1.7-.1 1.8 .2 1.7 .1 1.7-.4 1.8-.5"/>
<path class="e" d="M161.9 267.9l1.7-.8 1.7-.8 1.8-.5 1.7-.3 1.7-.5 1.8-.8 1.7-.4 1.7-.2 1.8-.3 1.7-.7 1.7-.5 1.8-.2 1.7-.3 1.7-.7 1.8-.8 1.7-.4 1.7-.3 1.8-.7 1.7-.7 1.7-.4 1.8-.1 1.7-.2 1.7-.5 1.8-.2 1.7 .1 1.7-.1M245.1 246l1.7-.2M250.3 246.3l1.7-.1 1.8-.8 1.7-.8 1.7-.6 1.8-.6 1.7-.7 1.7-.7 1.8-.2 1.7-.2 1.7-.6 1.8-.8 1.7-.5 1.7-.2 1.8-.4 1.7-.5 1.7-.2 1.8 .2 1.7 .2 1.7-.2 1.8-.3"/>
<path d="M274.6 239.1l1.7-.5 2.6-.5-1.8 .6z" fill="#3c4ad0" stroke="#3c4ad0"/>
<path d="M264.2 241.8l1.7-.2 1.7-.6 1.8-.8 1.7-.5 1.7-.2 1.8-.4 2.5-.4-1.7 .5-1.7 .4-1.8 .7-1.7 .9-1.7 .7-1.8 .2z" fill="#3b4fd3" stroke="#3b4fd3"/>
<path d="M257.2 244l1.8-.6 1.7-.7 1.7-.7 2.6 .3-1.7 .6-1.8 .7-1.7 .6z" fill="#3b4fd3" stroke="#3b4fd3"/>
<path d="M191.3 259.4l1.8-.7 1.7-.7 1.7-.4 1.8-.1 2.6-.5-1.8 .2-1.7 .5-1.7 .9-1.8 .7z" fill="#3858d5" stroke="#3858d5"/>
<path d="M186.1 260.9l1.8-.8 1.7-.4 2.6-.1-1.7 .3-1.8 .7z" fill="#3858d5" stroke="#3858d5"/>
<path d="M161.9 267.9l1.7-.8 1.7-.8 1.8-.5 1.7-.3 1.7-.5 1.8-.8 1.7-.4 1.7-.2 1.8-.3 1.7-.7 1.7-.5 1.8-.2 1.7-.3 1.7-.7 2.6-.3-1.7 .7-1.7 .4-1.8 .4-1.7 .7-1.7 .9-1.8 .5-1.7 .3-1.8 .4-1.7 .7-1.7 .6-1.8 .3-1.7 .4-1.7 .8-1.8 .8z" fill="#345dd6" stroke="#345dd6"/>
<path class="h" d="M161.9 267.9l2.5 .6M163.6 267.1l2.6 .6M165.3 266.3l2.6 .6M167.1 265.8l2.5 .7M168.8 265.5l2.6 .7M170.5 265l2.6 .6M172.3 264.2l2.5 .7M174 263.8l2.6 .7M175.7 263.6l2.6 .6M177.5 263.3l2.6 .4M179.2 262.6l2.6 .2M180.9 262.1l2.6 0M182.7 261.9l2.6-.2M184.4 261.6l2.6-.3M186.1 260.9l2.6-.3M187.9 260.1l2.6-.2M189.6 259.7l2.6-.1M191.3 259.4l2.6-.1M193.1 258.7l2.6-.1M194.8 258l2.6-.3M196.5 257.6l2.6-.4M198.3 257.5l2.6-.5M257.2 244l2.6 .2M259 243.4l2.5 .2M260.7 242.7l2.6 .2M262.4 242l2.6 .3M264.2 241.8l2.5 .3M265.9 241.6l2.6 .3M267.6 241l2.6 .2M269.4 240.2l2.5 .1M271.1 239.7l2.6-.1M272.8 239.5l2.6-.3M274.6 239.1l2.5-.4M276.3 238.6l2.6-.5"/>
<path class="e" d="M161.9 267.9l2.5 .6"/>
<path class="e" d="M161.9 267.9l1.7-.8 1.7-.8 1.8-.5 1.7-.3 1.7-.5 1.8-.8 1.7-.4 1.7-.2 1.8-.3 1.7-.7 1.7-.5 1.8-.2 1.7-.3 1.7-.7 1.8-.8 1.7-.4M191.3 259.4l1.8-.7 1.7-.7 1.7-.4 1.8-.1M257.2 244l1.8-.6 1.7-.7 1.7-.7M264.2 241.8l1.7-.2 1.7-.6 1.8-.8 1.7-.5 1.7-.2 1.8-.4 1.7-.5"/>
<path class="e" d="M164.4 268.5l1.8-.8 1.7-.8 1.7-.4 1.8-.3 1.7-.6 1.7-.7 1.8-.4 1.7-.3 1.8-.5 1.7-.9 1.7-.7 1.8-.4 1.7-.4 1.7-.7 1.8-.7 1.7-.3M193.9 259.3l1.8-.7 1.7-.9 1.7-.5 1.8-.2M259.8 244.2l1.7-.6 1.8-.7 1.7-.6M266.7 242.1l1.8-.2 1.7-.7 1.7-.9 1.8-.7 1.7-.4 1.7-.5 1.8-.6"/>
<path d="M266.7 242.1l1.8-.2 1.7-.7 1.7-.9 1.8-.7 1.7-.4 1.7-.5 1.8-.6 1.7-.3 2.6-.6-1.7 .3-1.8 .6-1.7 .5-1.7 .4-1.8 .8-1.7 1-1.8 .7-1.7 .2z" fill="#3b4fd3" stroke="#3b4fd3"/>
<path d="M261.5 243.6l1.8-.7 1.7-.6 2.6-.4-1.8 .6-1.7 .7z" fill="#3b4fd3" stroke="#3b4fd3"/>
<path d="M193.9 259.3l1.8-.7 1.7-.9 1.7-.5 1.8-.2 2.5-.5-1.7 .4-1.7 .8-1.8 1-1.7 .6z" fill="#345dd6" stroke="#345dd6"/>
<path d="M188.7 260.6l1.8-.7 2.5-.6-1.7 .4z" fill="#345dd6" stroke="#345dd6"/>
<path d="M171.4 266.2l1.7-.6 1.7-.7 1.8-.4 1.7-.3 1.8-.5 1.7-.9 1.7-.7 1.8-.4 1.7-.4 2.6-1.1-1.8 .5-1.7 .7-1.7 1.2-1.8 1.2-1.7 .7-1.7 .3-1.8 .4-1.7 .6-1.7 .4z" fill="#345dd6" stroke="#345dd6"/>
<path d="M164.4 268.5l1.8-.8 1.7-.8 1.7-.4 2.6-.2-1.7 .3-1.7 .7-1.8 .7z" fill="#345dd6" stroke="#345dd6"/>
<path class="h" d="M164.4 268.5l2.6-.5M166.2 267.7l2.6-.4M167.9 266.9l2.6-.3M169.6 266.5l2.6-.2M171.4 266.2l2.6 0M173.1 265.6l2.6 .2M174.8 264.9l2.6 .3M176.6 264.5l2.6 .3M178.3 264.2l2.6 .3M180.1 263.7l2.5 .1M181.8 262.8l2.6-.2M183.5 262.1l2.6-.7M185.3 261.7l2.5-1M187 261.3l2.6-1.1M188.7 260.6l2.6-.9M190.5 259.9l2.5-.6M193.9 259.3l2.6 0M195.7 258.6l2.5 .1M197.4 257.7l2.6 0M199.1 257.2l2.6-.3M200.9 257l2.5-.5M261.5 243.6l2.6-.4M263.3 242.9l2.5-.4M265 242.3l2.6-.4M266.7 242.1l2.6-.4M268.5 241.9l2.5-.4M270.2 241.2l2.6-.4M271.9 240.3l2.6-.5M273.7 239.6l2.6-.6M275.4 239.2l2.6-.6M277.1 238.7l2.6-.6M278.9 238.1l2.6-.6M280.6 237.8l2.6-.6"/>
<path class="e" d="M164.4 268.5l2.6-.5"/>
<path class="e" d="M164.4 268.5l1.8-.8 1.7-.8 1.7-.4M171.4 266.2l1.7-.6 1.7-.7 1.8-.4 1.7-.3 1.8-.5 1.7-.9 1.7-.7 1.8-.4 1.7-.4M188.7 260.6l1.8-.7M193.9 259.3l1.8-.7 1.7-.9 1.7-.5 1.8-.2M261.5 243.6l1.8-.7 1.7-.6M266.7 242.1l1.8-.2 1.7-.7 1.7-.9 1.8-.7 1.7-.4 1.7-.5 1.8-.6 1.7-.3"/>
<path class="e" d="M167 268l1.8-.7 1.7-.7 1.7-.3M174 266.2l1.7-.4 1.7-.6 1.8-.4 1.7-.3 1.7-.7 1.8-1.2 1.7-1.2 1.7-.7 1.8-.5M191.3 259.7l1.7-.4M196.5 259.3l1.7-.6 1.8-1 1.7-.8 1.7-.4M264.1 243.2l1.7-.7 1.8-.6M269.3 241.7l1.7-.2 1.8-.7 1.7-1 1.8-.8 1.7-.4 1.7-.5 1.8-.6 1.7-.3"/>
<path d="M262.4 243.7l1.7-.5 1.7-.7 1.8-.6 1.7-.2 1.7-.2 1.8-.7 1.7-1 1.8-.8 1.7-.4 1.7-.5 1.8-.6 1.7-.3 2.6 .7-1.8 .2-1.7 .5-1.7 .4-1.8 .4-1.7 .7-1.7 1.1-1.8 .7-1.7 .2-1.7 .2-1.8 .5-1.7 .7-1.7 .4z" fill="#3b4fd3" stroke="#3b4fd3"/>
<path d="M193 259.3l1.8 .1 1.7-.1 1.7-.6 1.8-1 1.7-.8 1.7-.4 2.6 .9-1.7 .6-1.8 1-1.7 1-1.7 .5-1.8-.3-1.7-.5z" fill="#345dd6" stroke="#345dd6"/>
<path d="M167 268l1.8-.7 1.7-.7 1.7-.3 1.8-.1 1.7-.4 1.7-.6 1.8-.4 1.7-.3 1.7-.7 1.8-1.2 1.7-1.2 1.7-.7 1.8-.5 1.7-.5 2.6-.1-1.8 .4-1.7 .6-1.7 1-1.8 1.5-1.7 1.6-1.7 .9-1.8 .3-1.7 .3-1.7 .3-1.8 .2-1.7-.1-1.7 .1-1.8 .5-1.7 .4z" fill="#345dd6" stroke="#345dd6"/>
<path class="h" d="M167 268l2.6-.4M168.8 267.3l2.5-.1M170.5 266.6l2.6 .1M172.2 266.3l2.6 .3M174 266.2l2.5 .5M175.7 265.8l2.6 .7M177.4 265.2l2.6 1M179.2 264.8l2.5 1.1M180.9 264.5l2.6 1.1M182.6 263.8l2.6 .9M184.4 262.6l2.5 .5M186.1 261.4l2.6 .2M187.8 260.7l2.6-.1M189.6 260.2l2.5-.2M191.3 259.7l2.6-.1M193 259.3l2.6 .4M194.8 259.4l2.5 .8M196.5 259.3l2.6 1.2M198.2 258.7l2.6 1.3M200 257.7l2.5 1.3M201.7 256.9l2.6 1.1M203.4 256.5l2.6 .9M262.4 243.7l2.6 .2M264.1 243.2l2.6 .3M265.8 242.5l2.6 .3M267.6 241.9l2.6 .4M269.3 241.7l2.6 .4M271 241.5l2.6 .4M272.8 240.8l2.6 .4M274.5 239.8l2.6 .3M276.3 239l2.5 .4M278 238.6l2.6 .4M279.7 238.1l2.6 .5M281.5 237.5l2.5 .6M283.2 237.2l2.6 .7"/>
<path class="e" d="M167 268l2.6-.4"/>
<path class="e" d="M167 268l1.8-.7 1.7-.7 1.7-.3 1.8-.1 1.7-.4 1.7-.6 1.8-.4 1.7-.3 1.7-.7 1.8-1.2 1.7-1.2 1.7-.7 1.8-.5 1.7-.5M193 259.3l1.8 .1 1.7-.1 1.7-.6 1.8-1 1.7-.8 1.7-.4M262.4 243.7l1.7-.5 1.7-.7 1.8-.6 1.7-.2 1.7-.2 1.8-.7 1.7-1 1.8-.8 1.7-.4 1.7-.5 1.8-.6 1.7-.3"/>
<path class="e" d="M169.6 267.6l1.7-.4 1.8-.5 1.7-.1 1.7 .1 1.8-.2 1.7-.3 1.7-.3 1.8-.3 1.7-.9 1.7-1.6 1.8-1.5 1.7-1 1.7-.6 1.8-.4M195.6 259.7l1.7 .5 1.8 .3 1.7-.5 1.7-1 1.8-1 1.7-.6M265 243.9l1.7-.4 1.7-.7 1.8-.5 1.7-.2 1.7-.2 1.8-.7 1.7-1.1 1.7-.7 1.8-.4 1.7-.4 1.7-.5 1.8-.2"/>
<path d="M265 243.9l1.7-.4 1.7-.7 1.8-.5 1.7-.2 1.7-.2 1.8-.7 1.7-1.1 1.7-.7 1.8-.4 1.7-.4 1.7-.5 2.6 1.3-1.7 .4-1.8 .4-1.7 .3-1.7 .7-1.8 1-1.7 .7-1.7 .1-1.8 .2-1.7 .5-1.7 .6-1.8 .5z" fill="#3b4fd3" stroke="#3b4fd3"/>
<path d="M199.1 260.5l1.7-.5 1.7-1 2.6 1.9-1.7 1.1-1.7 .3z" fill="#3858d5" stroke="#3858d5"/>
<path d="M171.3 267.2l1.8-.5 1.7-.1 1.7 .1 1.8-.2 1.7-.3 1.7-.3 1.8-.3 1.7-.9 1.7-1.6 1.8-1.5 1.7-1 1.7-.6 1.8-.4 1.7 .1 1.7 .5 1.8 .3 2.6 1.8-1.8-.6-1.7-.9-1.7-.3-1.8 .1-1.7 .7-1.7 1.3-1.8 1.8-1.7 1.8-1.7 1.1-1.8 .2-1.7 .1-1.7 .2-1.8 0-1.7-.3-1.7-.1-1.8 .3z" fill="#345dd6" stroke="#345dd6"/>
<path d="M169.6 267.6l1.7-.4 2.6 .5-1.7 .3z" fill="#2f63d6" stroke="#2f63d6"/>
<path class="h" d="M169.6 267.6l2.6 .4M171.3 267.2l2.6 .5M173.1 266.7l2.6 .7M174.8 266.6l2.6 .9M176.5 266.7l2.6 1.1M178.3 266.5l2.6 1.3M180 266.2l2.6 1.4M181.7 265.9l2.6 1.6M183.5 265.6l2.6 1.7M185.2 264.7l2.6 1.5M186.9 263.1l2.6 1.3M188.7 261.6l2.6 1M190.4 260.6l2.6 .7M192.1 260l2.6 .6M193.9 259.6l2.6 .9M195.6 259.7l2.6 1.1M197.3 260.2l2.6 1.5M199.1 260.5l2.6 1.8M200.8 260l2.6 2M202.5 259l2.6 1.9M265 243.9l2.5 .9M266.7 243.5l2.6 .8M268.4 242.8l2.6 .9M270.2 242.3l2.5 .9M271.9 242.1l2.6 .9M273.6 241.9l2.6 1M275.4 241.2l2.5 1M277.1 240.1l2.6 1.1M278.8 239.4l2.6 1.1M280.6 239l2.5 1.2M282.3 238.6l2.6 1.2M284 238.1l2.6 1.3"/>
<path class="e" d="M169.6 267.6l2.6 .4"/>
<path class="e" d="M169.6 267.6l1.7-.4 1.8-.5 1.7-.1 1.7 .1 1.8-.2 1.7-.3 1.7-.3 1.8-.3 1.7-.9 1.7-1.6 1.8-1.5 1.7-1 1.7-.6 1.8-.4 1.7 .1 1.7 .5 1.8 .3 1.7-.5 1.7-1M265 243.9l1.7-.4 1.7-.7 1.8-.5 1.7-.2 1.7-.2 1.8-.7 1.7-1.1 1.7-.7 1.8-.4 1.7-.4 1.7-.5"/>
<path class="e" d="M172.2 268l1.7-.3 1.8-.3 1.7 .1 1.7 .3 1.8 0 1.7-.2 1.7-.1 1.8-.2 1.7-1.1 1.7-1.8 1.8-1.8 1.7-1.3 1.7-.7 1.8-.1 1.7 .3 1.7 .9 1.8 .6 1.7-.3 1.7-1.1M267.5 244.8l1.8-.5 1.7-.6 1.7-.5 1.8-.2 1.7-.1 1.7-.7 1.8-1 1.7-.7 1.7-.3 1.8-.4 1.7-.4"/>
<path d="M265.8 245.3l1.7-.5 1.8-.5 1.7-.6 1.7-.5 1.8-.2 1.7-.1 1.7-.7 1.8-1 1.7-.7 1.7-.3 2.6 1.7-1.7 .3-1.7 .6-1.8 .8-1.7 .6-1.7 .1-1.8 .1-1.7 .5-1.7 .6-1.8 .4-1.7 .5z" fill="#3b4fd3" stroke="#3b4fd3"/>
<path d="M199.9 261.7l1.8 .6 2.5 1.9-1.7-.7z" fill="#3858d5" stroke="#3858d5"/>
<path d="M189.5 264.4l1.8-1.8 1.7-1.3 1.7-.7 1.8-.1 1.7 .3 1.7 .9 2.6 1.8-1.7-.9-1.8-.4-1.7 .2-1.7 .7-1.8 1.2-1.7 1.9z" fill="#345dd6" stroke="#345dd6"/>
<path d="M182.6 267.6l1.7-.1 1.8-.2 1.7-1.1 1.7-1.8 2.6 1.8-1.7 1.8-1.8 1-1.7 .2-1.7 0z" fill="#3858d5" stroke="#3858d5"/>
<path d="M173.9 267.7l1.8-.3 1.7 .1 1.7 .3 1.8 0 1.7-.2 2.6 1.6-1.8 .1-1.7 0-1.7-.3-1.8-.1-1.7 .4z" fill="#345dd6" stroke="#345dd6"/>
<path d="M172.2 268l1.7-.3 2.6 1.6-1.7 .4z" fill="#2f63d6" stroke="#2f63d6"/>
<path class="h" d="M172.2 268l2.6 1.7M173.9 267.7l2.6 1.6M175.7 267.4l2.5 1.5M177.4 267.5l2.6 1.5M179.1 267.8l2.6 1.5M180.9 267.8l2.5 1.5M182.6 267.6l2.6 1.6M184.3 267.5l2.6 1.7M186.1 267.3l2.5 1.7M187.8 266.2l2.6 1.8M189.5 264.4l2.6 1.8M191.3 262.6l2.5 1.7M193 261.3l2.6 1.8M194.7 260.6l2.6 1.8M196.5 260.5l2.5 1.7M198.2 260.8l2.6 1.8M199.9 261.7l2.6 1.8M201.7 262.3l2.5 1.9M265.8 245.3l2.6 1.1M267.5 244.8l2.6 1.1M269.3 244.3l2.6 1.2M271 243.7l2.6 1.2M272.7 243.2l2.6 1.2M274.5 243l2.6 1.3M276.2 242.9l2.6 1.3M277.9 242.2l2.6 1.4M279.7 241.2l2.6 1.6M281.4 240.5l2.6 1.7M283.1 240.2l2.6 1.7"/>
<path class="e" d="M172.2 268l2.6 1.7"/>
<path class="e" d="M172.2 268l1.7-.3 1.8-.3 1.7 .1 1.7 .3 1.8 0 1.7-.2 1.7-.1 1.8-.2 1.7-1.1 1.7-1.8 1.8-1.8 1.7-1.3 1.7-.7 1.8-.1 1.7 .3 1.7 .9 1.8 .6M265.8 245.3l1.7-.5 1.8-.5 1.7-.6 1.7-.5 1.8-.2 1.7-.1 1.7-.7 1.8-1 1.7-.7 1.7-.3"/>
<path class="e" d="M174.8 269.7l1.7-.4 1.7-.4 1.8 .1 1.7 .3 1.7 0 1.8-.1 1.7 0 1.7-.2 1.8-1 1.7-1.8 1.7-1.9 1.8-1.2 1.7-.7 1.7-.2 1.8 .4 1.7 .9 1.7 .7M268.4 246.4l1.7-.5 1.8-.4 1.7-.6 1.7-.5 1.8-.1 1.7-.1 1.7-.6 1.8-.8 1.7-.6 1.7-.3"/>
<path d="M270.1 245.9l1.8-.4 1.7-.6 1.7-.5 1.8-.1 1.7-.1 1.7-.6 1.8-.8 2.5 1.6-1.7 .7-1.7 .5-1.8 0-1.7 .1-1.7 .5-1.8 .6-1.7 .4z" fill="#3b4fd3" stroke="#3b4fd3"/>
<path d="M193.8 264.3l1.8-1.2 1.7-.7 1.7-.2 1.8 .4 2.6 2-1.8-.1-1.7 .3-1.8 .6-1.7 1.1z" fill="#345dd6" stroke="#345dd6"/>
<path d="M183.4 269.3l1.8-.1 1.7 0 1.7-.2 1.8-1 1.7-1.8 1.7-1.9 2.6 2.2-1.7 1.6-1.8 1.6-1.7 .8-1.7 .1-1.8 .1-1.7 .2z" fill="#3858d5" stroke="#3858d5"/>
<path d="M174.8 269.7l1.7-.4 1.7-.4 1.8 .1 1.7 .3 1.7 0 2.6 1.6-1.7 0-1.8 0-1.7 .1-1.7 .7-1.8 .6z" fill="#345dd6" stroke="#345dd6"/>
<path class="h" d="M174.8 269.7l2.5 2.6M176.5 269.3l2.6 2.4M178.2 268.9l2.6 2.1M180 269l2.5 1.9M181.7 269.3l2.6 1.6M183.4 269.3l2.6 1.6M185.2 269.2l2.5 1.5M186.9 269.2l2.6 1.4M188.6 269l2.6 1.5M190.4 268l2.5 1.7M192.1 266.2l2.6 1.9M193.8 264.3l2.6 2.2M195.6 263.1l2.5 2.3M197.3 262.4l2.6 2.4M199 262.2l2.6 2.3M200.8 262.6l2.6 2M270.1 245.9l2.6 1.3M271.9 245.5l2.5 1.3M273.6 244.9l2.6 1.3M275.3 244.4l2.6 1.3M277.1 244.3l2.5 1.3M278.8 244.2l2.6 1.4M280.5 243.6l2.6 1.5M282.3 242.8l2.5 1.6"/>
<path class="e" d="M174.8 269.7l2.5 2.6"/>
<path class="e" d="M174.8 269.7l1.7-.4 1.7-.4 1.8 .1 1.7 .3 1.7 0 1.8-.1 1.7 0 1.7-.2 1.8-1 1.7-1.8 1.7-1.9 1.8-1.2 1.7-.7 1.7-.2 1.8 .4M270.1 245.9l1.8-.4 1.7-.6 1.7-.5 1.8-.1 1.7-.1 1.7-.6 1.8-.8"/>
<path class="e" d="M177.3 272.3l1.8-.6 1.7-.7 1.7-.1 1.8 0 1.7 0 1.7-.2 1.8-.1 1.7-.1 1.7-.8 1.8-1.6 1.7-1.6 1.7-1.1 1.8-.6 1.7-.3 1.8 .1M272.7 247.2l1.7-.4 1.8-.6 1.7-.5 1.7-.1 1.8 0 1.7-.5 1.7-.7"/>
<path d="M272.7 247.2l1.7-.4 1.8-.6 2.5 1-1.7 .6-1.7 .3z" fill="#3b4fd3" stroke="#3b4fd3"/>
<path d="M180.8 271l1.7-.1 1.8 0 1.7 0 1.7-.2 1.8-.1 1.7-.1 1.7-.8 1.8-1.6 1.7-1.6 1.7-1.1 1.8-.6 2.6 2.1-1.8 .5-1.7 .8-1.7 1.1-1.8 1.3-1.7 .6-1.7 .1-1.8 .2-1.7 .5-1.7 .3-1.8 .2-1.7 .4z" fill="#3858d5" stroke="#3858d5"/>
<path d="M177.3 272.3l1.8-.6 1.7-.7 2.6 1.9-1.7 .9-1.8 .9z" fill="#345dd6" stroke="#345dd6"/>
<path class="h" d="M177.3 272.3l2.6 2.4M179.1 271.7l2.6 2.1M180.8 271l2.6 1.9M182.5 270.9l2.6 1.6M184.3 270.9l2.6 1.4M186 270.9l2.6 1.1M187.7 270.7l2.6 .8M189.5 270.6l2.6 .7M191.2 270.5l2.6 .7M192.9 269.7l2.6 .9M194.7 268.1l2.6 1.2M196.4 266.5l2.6 1.7M198.1 265.4l2.6 2M199.9 264.8l2.6 2.1M272.7 247.2l2.6 .9M274.4 246.8l2.6 1M276.2 246.2l2.5 1"/>
<path class="e" d="M177.3 272.3l2.6 2.4"/>
<path class="e" d="M177.3 272.3l1.8-.6 1.7-.7 1.7-.1 1.8 0 1.7 0 1.7-.2 1.8-.1 1.7-.1 1.7-.8 1.8-1.6 1.7-1.6 1.7-1.1 1.8-.6M272.7 247.2l1.7-.4 1.8-.6"/>
<path class="e" d="M179.9 274.7l1.8-.9 1.7-.9 1.7-.4 1.8-.2 1.7-.3 1.7-.5 1.8-.2 1.7-.1 1.7-.6 1.8-1.3 1.7-1.1 1.7-.8 1.8-.5M275.3 248.1l1.7-.3 1.7-.6"/>
<path d="M197.3 269.3l1.7-1.1 2.6 .3-1.8 .7z" fill="#3858d5" stroke="#3858d5"/>
<path d="M179.9 274.7l1.8-.9 1.7-.9 1.7-.4 1.8-.2 1.7-.3 1.7-.5 1.8-.2 2.5-.4-1.7 .5-1.7 .8-1.8 .6-1.7 .4-1.7 .5-1.8 1-1.7 .8z" fill="#3858d5" stroke="#3858d5"/>
<path class="h" d="M179.9 274.7l2.6 .8M181.7 273.8l2.5 .9M183.4 272.9l2.6 .8M185.1 272.5l2.6 .7M186.9 272.3l2.5 .5M188.6 272l2.6 .2M190.3 271.5l2.6-.1M192.1 271.3l2.5-.4M197.3 269.3l2.5-.1M199 268.2l2.6 .3"/>
<path class="e" d="M179.9 274.7l2.6 .8"/>
<path class="e" d="M179.9 274.7l1.8-.9 1.7-.9 1.7-.4 1.8-.2 1.7-.3 1.7-.5 1.8-.2M197.3 269.3l1.7-1.1"/>
<path class="e" d="M182.5 275.5l1.7-.8 1.8-1 1.7-.5 1.7-.4 1.8-.6 1.7-.8 1.7-.5M199.8 269.2l1.8-.7"/>
<path d="M189.4 272.8l1.8-.6 1.7-.8 1.7-.5 2.6-1.4-1.7 .9-1.7 1.2-1.8 .9z" fill="#3858d5" stroke="#3858d5"/>
<path d="M182.5 275.5l1.7-.8 1.8-1 2.6-.4-1.8 .7-1.7 .6z" fill="#3858d5" stroke="#3858d5"/>
<path class="h" d="M182.5 275.5l2.6-.9M184.2 274.7l2.6-.7M186 273.7l2.6-.4M189.4 272.8l2.6-.3M191.2 272.2l2.6-.6M192.9 271.4l2.6-1M194.6 270.9l2.6-1.4"/>
<path class="e" d="M182.5 275.5l2.6-.9"/>
<path class="e" d="M182.5 275.5l1.7-.8 1.8-1M189.4 272.8l1.8-.6 1.7-.8 1.7-.5"/>
<path class="e" d="M185.1 274.6l1.7-.6 1.8-.7M192 272.5l1.8-.9 1.7-1.2 1.7-.9"/>
<path d="M185.1 274.6l1.7-.6 1.8-.7 1.7-.4 1.7-.4 1.8-.9 1.7-1.2 1.7-.9 2.6-1.3-1.7 1.3-1.8 1.5-1.7 1.1-1.7 .3-1.8 .2-1.7 .3-1.7 .2z" fill="#3858d5" stroke="#3858d5"/>
<path class="h" d="M185.1 274.6l2.6-1.5M186.8 274l2.6-1.1M188.6 273.3l2.5-.7M190.3 272.9l2.6-.5M192 272.5l2.6-.4M193.8 271.6l2.5-.6M195.5 270.4l2.6-.9M197.2 269.5l2.6-1.3"/>
<path class="e" d="M185.1 274.6l2.6-1.5"/>
<path class="e" d="M185.1 274.6l1.7-.6 1.8-.7 1.7-.4 1.7-.4 1.8-.9 1.7-1.2 1.7-.9"/>
<path class="e" d="M187.7 273.1l1.7-.2 1.7-.3 1.8-.2 1.7-.3 1.7-1.1 1.8-1.5 1.7-1.3"/>
<path d="M196.3 271l1.8-1.5 2.5 .3-1.7 1.6z" fill="#345dd6" stroke="#345dd6"/>
<path d="M194.6 272.1l1.7-1.1 2.6 .4-1.7 1z" fill="#3858d5" stroke="#3858d5"/>
<path d="M187.7 273.1l1.7-.2 1.7-.3 2.6-.1-1.7 .1-1.8-.2z" fill="#345dd6" stroke="#345dd6"/>
<path class="h" d="M187.7 273.1l2.5-.7M189.4 272.9l2.6-.3M191.1 272.6l2.6-.1M194.6 272.1l2.6 .3M196.3 271l2.6 .4M198.1 269.5l2.5 .3"/>
<path class="e" d="M187.7 273.1l2.5-.7"/>
<path class="e" d="M187.7 273.1l1.7-.2 1.7-.3M194.6 272.1l1.7-1.1 1.8-1.5"/>
<path class="e" d="M190.2 272.4l1.8 .2 1.7-.1M197.2 272.4l1.7-1 1.7-1.6"/>
<path d="M190.2 272.4l1.8 .2 1.7-.1 1.7 .1 1.8-.2 2.6 1.2-1.8 .1-1.7-.2-1.7 0-1.8-.2z" fill="#345dd6" stroke="#345dd6"/>
<path class="h" d="M190.2 272.4l2.6 .9M192 272.6l2.6 .9M193.7 272.5l2.6 1M195.4 272.6l2.6 1.1M197.2 272.4l2.6 1.2"/>
<path class="e" d="M190.2 272.4l2.6 .9"/>
<path class="e" d="M190.2 272.4l1.8 .2 1.7-.1 1.7 .1 1.8-.2"/>
<path class="e" d="M192.8 273.3l1.8 .2 1.7 0 1.7 .2 1.8-.1"/>
<path d="M192.8 273.3l1.8 .2 1.7 0 2.6 .2-1.8 .1-1.7 0z" fill="#345dd6" stroke="#345dd6"/>
<path class="h" d="M192.8 273.3l2.6 .5M194.6 273.5l2.5 .3M196.3 273.5l2.6 .2"/>
<path class="e" d="M192.8 273.3l2.6 .5"/>
<path class="e" d="M192.8 273.3l1.8 .2 1.7 0"/>
<path class="e" d="M195.4 273.8l1.7 0 1.8-.1"/>
<path d="M200.6 273.8l1.7 .1 1.8-.5 1.7-.9 1.7-.7 1.8-.5 1.7-.7 1.7-.9 2.6-1.8-1.7 1-1.8 .5-1.7 .2-1.7 .4-1.8 .5-1.7 .3-1.7-.1z" fill="#3858d5" stroke="#3858d5"/>
<path d="M195.4 273.8l1.7 0 1.8-.1 1.7 .1 2.6-3.1-1.8 0-1.7 .3-1.7 .3z" fill="#345dd6" stroke="#345dd6"/>
<path class="h" d="M195.4 273.8l2.6-2.5M197.1 273.8l2.6-2.8M198.9 273.7l2.5-3M200.6 273.8l2.6-3.1M202.3 273.9l2.6-3.1M204.1 273.4l2.5-2.9M205.8 272.5l2.6-2.5M207.5 271.8l2.6-2.2M209.3 271.3l2.5-1.9M211 270.6l2.6-1.7M212.7 269.7l2.6-1.8"/>
<path class="e" d="M195.4 273.8l2.6-2.5"/>
<path class="e" d="M195.4 273.8l1.7 0 1.8-.1 1.7 .1 1.7 .1 1.8-.5 1.7-.9 1.7-.7 1.8-.5 1.7-.7 1.7-.9"/>
<path class="e" d="M198 271.3l1.7-.3 1.7-.3 1.8 0 1.7 .1 1.7-.3 1.8-.5 1.7-.4 1.7-.2 1.8-.5 1.7-1"/>
<path d="M203.2 270.7l1.7 .1 1.7-.3 1.8-.5 1.7-.4 1.7-.2 1.8-.5 2.6-7.5-1.8 .4-1.7 0-1.7 .2-1.8 .5-1.7 .3-1.7 0z" fill="#345dd6" stroke="#345dd6"/>
<path d="M198 271.3l1.7-.3 1.7-.3 1.8 0 2.6-7.9-1.8 .2-1.7 .6-1.7 .5z" fill="#2f63d6" stroke="#2f63d6"/>
<path class="h" d="M198 271.3l2.6-7.2M199.7 271l2.6-7.4M201.4 270.7l2.6-7.7M203.2 270.7l2.6-7.9M204.9 270.8l2.6-8M206.6 270.5l2.6-8M208.4 270l2.6-8M210.1 269.6l2.6-7.8M211.8 269.4l2.6-7.6M213.6 268.9l2.6-7.5"/>
<path class="e" d="M198 271.3l2.6-7.2"/>
<path class="e" d="M198 271.3l1.7-.3 1.7-.3 1.8 0 1.7 .1 1.7-.3 1.8-.5 1.7-.4 1.7-.2 1.8-.5"/>
<path class="e" d="M200.6 264.1l1.7-.5 1.7-.6 1.8-.2 1.7 0 1.7-.3 1.8-.5 1.7-.2 1.7 0 1.8-.4"/>
<path d="M209.2 262.5l1.8-.5 2.5-9.9-1.7 .8z" fill="#2a68d4" stroke="#2a68d4"/>
<path d="M200.6 264.1l1.7-.5 1.7-.6 1.8-.2 1.7 0 1.7-.3 2.6-9.6-1.7 .4-1.8 .1-1.7 .3-1.7 1-1.8 .9z" fill="#276dd2" stroke="#276dd2"/>
<path class="h" d="M200.6 264.1l2.5-8.5M202.3 263.6l2.6-8.9M204 263l2.6-9.3M205.8 262.8l2.5-9.4M207.5 262.8l2.6-9.5M209.2 262.5l2.6-9.6M211 262l2.5-9.9"/>
<path class="e" d="M200.6 264.1l2.5-8.5"/>
<path class="e" d="M200.6 264.1l1.7-.5 1.7-.6 1.8-.2 1.7 0 1.7-.3 1.8-.5"/>
<path class="e" d="M203.1 255.6l1.8-.9 1.7-1 1.7-.3 1.8-.1 1.7-.4 1.7-.8"/>
<path d="M203.1 255.6l1.8-.9 1.7-1 1.7-.3 2.6-5.8-1.7 .3-1.7 1.4-1.8 1.3z" fill="#2676cc" stroke="#2676cc"/>
<path class="h" d="M203.1 255.6l2.6-5M204.9 254.7l2.6-5.4M206.6 253.7l2.6-5.8M208.3 253.4l2.6-5.8"/>
<path class="e" d="M203.1 255.6l2.6-5"/>
<path class="e" d="M203.1 255.6l1.8-.9 1.7-1 1.7-.3"/>
<path class="e" d="M205.7 250.6l1.8-1.3 1.7-1.4 1.7-.3"/>
<path d="M273.3 248.7l1.8-1.4 1.7-1.4 1.7-.5 1.8-.4 1.7-1.1 2.6-.4-1.8 .9-1.7 .3-1.7 .4-1.8 1.3-1.7 1.1z" fill="#2f63d6" stroke="#2f63d6"/>
<path d="M257.7 244.2l1.8-.3 1.7-.5 2.6 .2-1.8 .6-1.7 .4z" fill="#276dd2" stroke="#276dd2"/>
<path d="M250.8 243.3l1.7-.3 1.8-.3 1.7 .7 2.6 .6-1.8-.6-1.7 .3-1.7 .5z" fill="#2671cf" stroke="#2671cf"/>
<path d="M249.1 242.6l1.7 .7 2.6 .9-1.8-.5z" fill="#2676cc" stroke="#2676cc"/>
<path d="M245.6 241.1l1.7 .3 2.6 1.5-1.7 0z" fill="#2676cc" stroke="#2676cc"/>
<path d="M226.5 244.5l1.8 0 1.7-1.1 1.7-1.1 1.8-.1 1.7 .2 1.7-.7 1.8-1.1 1.7 0 1.7 .7 1.8 .2 1.7-.4 2.6 1.8-1.8 .4-1.7-.2-1.7-.9-1.8-.3-1.7 .8-1.7 .7-1.8 .1-1.7 .5-1.7 1.4-1.8 1.4-1.7 .2z" fill="#247ac8" stroke="#247ac8"/>
<path d="M205.7 250.6l1.8-1.3 1.7-1.4 1.7-.3 1.8 .1 1.7-.7 1.7-1.2 1.8-.3 1.7 .5 1.7-.1 1.8-1.1 1.7-.6 1.7 .3 2.6 2.5-1.7-.1-1.8 .5-1.7 .9-1.7 .2-1.8-.5-1.7 .3-1.7 1.1-1.8 .7-1.7 0-1.7 .4-1.8 1.4-1.7 1.3z" fill="#217ec5" stroke="#217ec5"/>
<path class="h" d="M205.7 250.6l2.6 2.6M207.5 249.3l2.5 2.6M209.2 247.9l2.6 2.6M210.9 247.6l2.6 2.5M212.7 247.7l2.5 2.4M214.4 247l2.6 2.4M216.1 245.8l2.6 2.5M217.9 245.5l2.5 2.5M219.6 246l2.6 2.5M221.3 245.9l2.6 2.4M223.1 244.8l2.5 2.6M224.8 244.2l2.6 2.7M226.5 244.5l2.6 2.5M228.3 244.5l2.5 2.3M230 243.4l2.6 2M231.7 242.3l2.6 1.7M233.5 242.2l2.5 1.3M235.2 242.4l2.6 1M236.9 241.7l2.6 1M238.7 240.6l2.5 1.3M240.4 240.6l2.6 1.6M242.1 241.3l2.6 1.8M243.9 241.5l2.5 1.8M245.6 241.1l2.6 1.8M247.3 241.4l2.6 1.5M249.1 242.6l2.5 1.1M250.8 243.3l2.6 .9M252.5 243l2.6 .7M254.3 242.7l2.5 .7M256 243.4l2.6 .6M257.7 244.2l2.6 .4M259.5 243.9l2.5 .3M261.2 243.4l2.6 .2M273.3 248.7l2.6-1.2M275.1 247.3l2.5-.9M276.8 245.9l2.6-.8M278.5 245.4l2.6-.7M280.3 245l2.5-.6M282 243.9l2.6-.4"/>
<path class="e" d="M205.7 250.6l2.6 2.6"/>
<path class="e" d="M205.7 250.6l1.8-1.3 1.7-1.4 1.7-.3 1.8 .1 1.7-.7 1.7-1.2 1.8-.3 1.7 .5 1.7-.1 1.8-1.1 1.7-.6 1.7 .3 1.8 0 1.7-1.1 1.7-1.1 1.8-.1 1.7 .2 1.7-.7 1.8-1.1 1.7 0 1.7 .7 1.8 .2 1.7-.4 1.7 .3M249.1 242.6l1.7 .7 1.7-.3 1.8-.3 1.7 .7M257.7 244.2l1.8-.3 1.7-.5M273.3 248.7l1.8-1.4 1.7-1.4 1.7-.5 1.8-.4 1.7-1.1"/>
<path class="e" d="M208.3 253.2l1.7-1.3 1.8-1.4 1.7-.4 1.7 0 1.8-.7 1.7-1.1 1.7-.3 1.8 .5 1.7-.2 1.7-.9 1.8-.5 1.7 .1 1.7-.2 1.8-1.4 1.7-1.4 1.7-.5 1.8-.1 1.7-.7 1.7-.8 1.8 .3 1.7 .9 1.7 .2 1.8-.4 1.7 0M251.6 243.7l1.8 .5 1.7-.5 1.7-.3 1.8 .6M260.3 244.6l1.7-.4 1.8-.6M275.9 247.5l1.7-1.1 1.8-1.3 1.7-.4 1.7-.3 1.8-.9"/>
<path d="M274.2 247.3l1.7 .2 1.7-1.1 1.8-1.3 1.7-.4 1.7-.3 2.6 1.4-1.7 .3-1.7 .4-1.8 .8-1.7 .8-1.7 0z" fill="#2f63d6" stroke="#2f63d6"/>
<path d="M269 245.4l1.7 .1 1.7 .6 2.6 1.4-1.7-.2-1.7 .2z" fill="#2a68d4" stroke="#2a68d4"/>
<path d="M260.3 244.6l1.7-.4 1.8-.6 1.7 .3 1.7 1 1.8 .5 2.6 2.1-1.8-.1-1.7-.2-1.7 .2-1.8 .7-1.7 .6z" fill="#276dd2" stroke="#276dd2"/>
<path d="M253.4 244.2l1.7-.5 1.7-.3 1.8 .6 1.7 .6 2.6 4.1-1.7 .1-1.8 .1-1.7 .5-1.7 .7z" fill="#2671cf" stroke="#2671cf"/>
<path d="M244.7 243.1l1.7 .2 1.8-.4 1.7 0 1.7 .8 1.8 .5 2.6 5.9-1.8 .2-1.7-.1-1.7 .4-1.8 .4-1.7-.2z" fill="#2676cc" stroke="#2676cc"/>
<path d="M217 249.4l1.7-1.1 1.7-.3 1.8 .5 1.7-.2 1.7-.9 1.8-.5 1.7 .1 1.7-.2 1.8-1.4 1.7-1.4 1.7-.5 1.8-.1 1.7-.7 1.7-.8 1.8 .3 1.7 .9 2.6 7.7-1.7-.8-1.8-.4-1.7 .3-1.8 .6-1.7 .7-1.7 1-1.8 1.8-1.7 1.6-1.7 .7-1.8 .3-1.7 .6-1.7 .6-1.8 .2-1.7-.2-1.7 .3-1.8 .7z" fill="#247ac8" stroke="#247ac8"/>
<path d="M211.8 250.5l1.7-.4 1.7 0 1.8-.7 2.5 9.4-1.7 .5-1.7 .2-1.8 .5z" fill="#217ec5" stroke="#217ec5"/>
<path d="M208.3 253.2l1.7-1.3 1.8-1.4 2.5 9.5-1.7 1-1.7 1z" fill="#247ac8" stroke="#247ac8"/>
<path class="h" d="M208.3 253.2l2.6 8.8M210 251.9l2.6 9.1M211.8 250.5l2.5 9.5M213.5 250.1l2.6 9.4M215.2 250.1l2.6 9.2M217 249.4l2.5 9.4M218.7 248.3l2.6 9.8M220.4 248l2.6 9.8M222.2 248.5l2.5 9.5M223.9 248.3l2.6 9.5M225.6 247.4l2.6 9.8M227.4 246.9l2.5 9.7M229.1 247l2.6 9.3M230.8 246.8l2.6 8.8M232.6 245.4l2.5 8.6M234.3 244l2.6 8.2M236 243.5l2.6 7.7M237.8 243.4l2.5 7.1M239.5 242.7l2.6 7.2M241.2 241.9l2.6 7.7M243 242.2l2.6 7.8M244.7 243.1l2.6 7.7M246.4 243.3l2.6 7.7M248.2 242.9l2.6 7.7M249.9 242.9l2.6 7.3M251.6 243.7l2.6 6.6M253.4 244.2l2.6 5.9M255.1 243.7l2.6 5.7M256.8 243.4l2.6 5.5M258.6 244l2.6 4.8M260.3 244.6l2.6 4.1M262 244.2l2.6 3.9M263.8 243.6l2.6 3.8M265.5 243.9l2.6 3.3M267.2 244.9l2.6 2.5M269 245.4l2.6 2.1M270.7 245.5l2.6 1.8M272.4 246.1l2.6 1.4M274.2 247.3l2.6 .8M275.9 247.5l2.6 .6M277.6 246.4l2.6 .9M279.4 245.1l2.6 1.4M281.1 244.7l2.6 1.4M282.8 244.4l2.6 1.4"/>
<path class="e" d="M208.3 253.2l2.6 8.8"/>
<path class="e" d="M208.3 253.2l1.7-1.3 1.8-1.4 1.7-.4 1.7 0 1.8-.7 1.7-1.1 1.7-.3 1.8 .5 1.7-.2 1.7-.9 1.8-.5 1.7 .1 1.7-.2 1.8-1.4 1.7-1.4 1.7-.5 1.8-.1 1.7-.7 1.7-.8 1.8 .3 1.7 .9 1.7 .2 1.8-.4 1.7 0 1.7 .8 1.8 .5 1.7-.5 1.7-.3 1.8 .6 1.7 .6 1.7-.4 1.8-.6 1.7 .3 1.7 1 1.8 .5 1.7 .1 1.7 .6M274.2 247.3l1.7 .2 1.7-1.1 1.8-1.3 1.7-.4 1.7-.3"/>
<path class="e" d="M210.9 262l1.7-1 1.7-1 1.8-.5 1.7-.2 1.7-.5 1.8-.7 1.7-.3 1.7 .2 1.8-.2 1.7-.6 1.7-.6 1.8-.3 1.7-.7 1.7-1.6 1.8-1.8 1.7-1 1.7-.7 1.8-.6 1.7-.3 1.8 .4 1.7 .8 1.7 .2 1.8-.4 1.7-.4 1.7 .1 1.8-.2 1.7-.7 1.7-.5 1.8-.1 1.7-.1 1.7-.6 1.8-.7 1.7-.2 1.7 .2 1.8 .1 1.7-.2 1.7 .2M276.8 248.1l1.7 0 1.7-.8 1.8-.8 1.7-.4 1.7-.3"/>
<path d="M275 247.5l1.8 .6 1.7 0 1.7-.8 1.8-.8 2.5 2-1.7 .5-1.7 .6-1.8 .2-1.7 0z" fill="#2f63d6" stroke="#2f63d6"/>
<path d="M261.2 248.8l1.7-.1 1.7-.6 1.8-.7 1.7-.2 1.7 .2 1.8 .1 1.7-.2 1.7 .2 2.6 2.3-1.7 .3-1.8 .7-1.7 .5-1.7 .3-1.8 .6-1.7 1-1.7 1-1.8 .5z" fill="#2a68d4" stroke="#2a68d4"/>
<path d="M247.3 250.8l1.7 .2 1.8-.4 1.7-.4 1.7 .1 1.8-.2 1.7-.7 1.7-.5 1.8-.1 2.5 5.9-1.7 .7-1.7 1-1.8 1.1-1.7 .8-1.7 .5-1.8 .7-1.7 .6-1.7-.2z" fill="#276dd2" stroke="#276dd2"/>
<path d="M233.4 255.6l1.7-1.6 1.8-1.8 1.7-1 1.7-.7 1.8-.6 1.7-.3 1.8 .4 1.7 .8 2.6 9.1-1.8-.7-1.7-.5-1.7 .1-1.8 .6-1.7 .9-1.7 1.5-1.8 2.1-1.7 1.9z" fill="#2671cf" stroke="#2671cf"/>
<path d="M228.2 257.2l1.7-.6 1.8-.3 1.7-.7 2.6 10.2-1.7 1.1-1.8 .6-1.7 .6z" fill="#276dd2" stroke="#276dd2"/>
<path d="M210.9 262l1.7-1 1.7-1 1.8-.5 1.7-.2 1.7-.5 1.8-.7 1.7-.3 1.7 .2 1.8-.2 1.7-.6 2.6 10.9-1.7 .7-1.8 .2-1.7 0-1.7 .3-1.8 .6-1.7 .4-1.7 .2-1.8 .3-1.7 .8-1.7 .7z" fill="#2671cf" stroke="#2671cf"/>
<path class="h" d="M210.9 262l2.6 10.3M212.6 261l2.6 10.6M214.3 260l2.6 10.8M216.1 259.5l2.6 11M217.8 259.3l2.6 11M219.5 258.8l2.6 11.1M221.3 258.1l2.6 11.2M223 257.8l2.6 11.2M224.7 258l2.6 11M226.5 257.8l2.6 11M228.2 257.2l2.6 10.9M229.9 256.6l2.6 10.9M231.7 256.3l2.6 10.6M233.4 255.6l2.6 10.2M235.1 254l2.6 9.9M236.9 252.2l2.6 9.6M238.6 251.2l2.6 9.1M240.3 250.5l2.6 8.9M242.1 249.9l2.6 8.9M243.8 249.6l2.6 9.1M245.6 250l2.5 9.2M247.3 250.8l2.6 9.1M249 251l2.6 9.1M250.8 250.6l2.5 8.9M252.5 250.2l2.6 8.6M254.2 250.3l2.6 8M256 250.1l2.5 7.4M257.7 249.4l2.6 7M259.4 248.9l2.6 6.5M261.2 248.8l2.5 5.9M262.9 248.7l2.6 5.5M264.6 248.1l2.6 5.1M266.4 247.4l2.5 4.8M268.1 247.2l2.6 4.4M269.8 247.4l2.6 3.9M271.6 247.5l2.5 3.3M273.3 247.3l2.6 2.8M275 247.5l2.6 2.3M276.8 248.1l2.5 1.7M278.5 248.1l2.6 1.5M280.2 247.3l2.6 1.7M282 246.5l2.5 2"/>
<path class="e" d="M210.9 262l2.6 10.3"/>
<path class="e" d="M210.9 262l1.7-1 1.7-1 1.8-.5 1.7-.2 1.7-.5 1.8-.7 1.7-.3 1.7 .2 1.8-.2 1.7-.6 1.7-.6 1.8-.3 1.7-.7 1.7-1.6 1.8-1.8 1.7-1 1.7-.7 1.8-.6 1.7-.3 1.8 .4 1.7 .8 1.7 .2 1.8-.4 1.7-.4 1.7 .1 1.8-.2 1.7-.7 1.7-.5 1.8-.1 1.7-.1 1.7-.6 1.8-.7 1.7-.2 1.7 .2 1.8 .1 1.7-.2 1.7 .2 1.8 .6 1.7 0 1.7-.8 1.8-.8"/>
<path class="e" d="M213.5 272.3l1.7-.7 1.7-.8 1.8-.3 1.7-.2 1.7-.4 1.8-.6 1.7-.3 1.7 0 1.8-.2 1.7-.7 1.7-.6 1.8-.6 1.7-1.1 1.7-1.9 1.8-2.1 1.7-1.5 1.7-.9 1.8-.6 1.7-.1 1.7 .5 1.8 .7 1.7 .2 1.7-.6 1.8-.7 1.7-.5 1.7-.8 1.8-1.1 1.7-1 1.7-.7 1.8-.5 1.7-1 1.7-1 1.8-.6 1.7-.3 1.7-.5 1.8-.7 1.7-.3 1.7 0 1.8-.2 1.7-.6 1.7-.5"/>
<path d="M248.1 259.2l1.8 .7 1.7 .2 1.7-.6 1.8-.7 1.7-.5 1.7-.8 1.8-1.1 1.7-1 1.7-.7 1.8-.5 1.7-1 1.7-1 1.8-.6 1.7-.3 1.7-.5 1.8-.7 1.7-.3 1.7 0 1.8-.2 1.7-.6 2.6 1.3-1.7 .6-1.8 .4-1.7 .4-1.8 .8-1.7 1-1.7 .9-1.8 .6-1.7 .7-1.7 1.2-1.8 1.1-1.7 .9-1.7 .9-1.8 1.4-1.7 1.4-1.7 1-1.8 .8-1.7 .9-1.7 .7-1.8-.2-1.7-.7z" fill="#2f63d6" stroke="#2f63d6"/>
<path d="M241.2 260.3l1.7-.9 1.8-.6 1.7-.1 1.7 .5 2.6 5.9-1.7-.6-1.8 0-1.7 .6-1.7 1.1z" fill="#2a68d4" stroke="#2a68d4"/>
<path d="M213.5 272.3l1.7-.7 1.7-.8 1.8-.3 1.7-.2 1.7-.4 1.8-.6 1.7-.3 1.7 0 1.8-.2 1.7-.7 1.7-.6 1.8-.6 1.7-1.1 1.7-1.9 1.8-2.1 1.7-1.5 2.6 5.9-1.8 1.7-1.7 2.2-1.7 2.1-1.8 1.2-1.7 .6-1.7 .7-1.8 .8-1.7 .4-1.7 .2-1.8 .4-1.7 .8-1.7 .5-1.8 .1-1.7 .2-1.7 .5-1.8 .4z" fill="#2f63d6" stroke="#2f63d6"/>
<path class="h" d="M213.5 272.3l2.5 6.7M215.2 271.6l2.6 7M216.9 270.8l2.6 7.3M218.7 270.5l2.5 7.4M220.4 270.3l2.6 7.5M222.1 269.9l2.6 7.4M223.9 269.3l2.5 7.2M225.6 269l2.6 7.1M227.3 269l2.6 6.9M229.1 268.8l2.5 6.7M230.8 268.1l2.6 6.6M232.5 267.5l2.6 6.5M234.3 266.9l2.5 6.5M236 265.8l2.6 6.4M237.7 263.9l2.6 6.2M239.5 261.8l2.5 6.1M241.2 260.3l2.6 5.9M242.9 259.4l2.6 5.7M244.7 258.8l2.5 5.7M246.4 258.7l2.6 5.8M248.1 259.2l2.6 5.9M249.9 259.9l2.5 5.9M251.6 260.1l2.6 5.9M253.3 259.5l2.6 5.8M255.1 258.8l2.5 5.6M256.8 258.3l2.6 5.3M258.5 257.5l2.6 5.1M260.3 256.4l2.5 4.8M262 255.4l2.6 4.4M263.7 254.7l2.6 4.2M265.5 254.2l2.5 3.8M267.2 253.2l2.6 3.7M268.9 252.2l2.6 3.5M270.7 251.6l2.5 3.4M272.4 251.3l2.6 3.1M274.1 250.8l2.6 2.7M275.9 250.1l2.5 2.4M277.6 249.8l2.6 1.9M279.3 249.8l2.6 1.5M281.1 249.6l2.6 1.3M282.8 249l2.6 1.3"/>
<path class="e" d="M213.5 272.3l2.5 6.7"/>
<path class="e" d="M213.5 272.3l1.7-.7 1.7-.8 1.8-.3 1.7-.2 1.7-.4 1.8-.6 1.7-.3 1.7 0 1.8-.2 1.7-.7 1.7-.6 1.8-.6 1.7-1.1 1.7-1.9 1.8-2.1 1.7-1.5 1.7-.9 1.8-.6 1.7-.1 1.7 .5 1.8 .7 1.7 .2 1.7-.6 1.8-.7 1.7-.5 1.7-.8 1.8-1.1 1.7-1 1.7-.7 1.8-.5 1.7-1 1.7-1 1.8-.6 1.7-.3 1.7-.5 1.8-.7 1.7-.3 1.7 0 1.8-.2 1.7-.6"/>
<path class="e" d="M216 279l1.8-.4 1.7-.5 1.7-.2 1.8-.1 1.7-.5 1.7-.8 1.8-.4 1.7-.2 1.7-.4 1.8-.8 1.7-.7 1.7-.6 1.8-1.2 1.7-2.1 1.7-2.2 1.8-1.7 1.7-1.1 1.7-.6 1.8 0 1.7 .6 1.7 .7 1.8 .2 1.7-.7 1.7-.9 1.8-.8 1.7-1 1.7-1.4 1.8-1.4 1.7-.9 1.7-.9 1.8-1.1 1.7-1.2 1.7-.7 1.8-.6 1.7-.9 1.7-1 1.8-.8 1.7-.4 1.8-.4 1.7-.6"/>
<path d="M262.8 261.2l1.8-1.4 1.7-.9 1.7-.9 1.8-1.1 1.7-1.2 1.7-.7 1.8-.6 1.7-.9 1.7-1 1.8-.8 1.7-.4 2.6 1-1.7 .6-1.8 1-1.7 1.2-1.7 .9-1.8 .6-1.7 .7-1.7 1.1-1.8 1-1.7 .9-1.7 .9-1.8 1.4z" fill="#345dd6" stroke="#345dd6"/>
<path d="M257.6 264.4l1.8-.8 1.7-1 1.7-1.4 2.6 1.4-1.7 1.4-1.7 1.1-1.8 .8z" fill="#3858d5" stroke="#3858d5"/>
<path d="M242 267.9l1.8-1.7 1.7-1.1 1.7-.6 1.8 0 1.7 .6 2.6 1.3-1.7-.6-1.8 0-1.7 .6-1.7 1-1.8 1.7z" fill="#345dd6" stroke="#345dd6"/>
<path d="M238.6 272.2l1.7-2.1 1.7-2.2 2.6 1.2-1.7 2.2-1.7 1.9z" fill="#3858d5" stroke="#3858d5"/>
<path d="M217.8 278.6l1.7-.5 1.7-.2 1.8-.1 2.5 2.2-1.7 .1-1.7 .1-1.8 .3z" fill="#3858d5" stroke="#3858d5"/>
<path d="M216 279l1.8-.4 2.5 1.9-1.7 .2z" fill="#345dd6" stroke="#345dd6"/>
<path class="h" d="M216 279l2.6 1.7M217.8 278.6l2.5 1.9M219.5 278.1l2.6 2.1M221.2 277.9l2.6 2.2M223 277.8l2.5 2.2M238.6 272.2l2.6 1M240.3 270.1l2.6 1.2M242 267.9l2.6 1.2M243.8 266.2l2.6 1.2M245.5 265.1l2.6 1.3M247.2 264.5l2.6 1.3M249 264.5l2.6 1.3M250.7 265.1l2.6 1.3M257.6 264.4l2.6 1.5M259.4 263.6l2.6 1.5M261.1 262.6l2.6 1.4M262.8 261.2l2.6 1.4M264.6 259.8l2.6 1.4M266.3 258.9l2.6 1.4M268 258l2.6 1.4M269.8 256.9l2.6 1.5M271.5 255.7l2.6 1.6M273.2 255l2.6 1.6M275 254.4l2.6 1.6M276.7 253.5l2.6 1.6M278.4 252.5l2.6 1.4M280.2 251.7l2.6 1.2M281.9 251.3l2.6 1"/>
<path class="e" d="M216 279l2.6 1.7"/>
<path class="e" d="M216 279l1.8-.4 1.7-.5 1.7-.2 1.8-.1M238.6 272.2l1.7-2.1 1.7-2.2 1.8-1.7 1.7-1.1 1.7-.6 1.8 0 1.7 .6M257.6 264.4l1.8-.8 1.7-1 1.7-1.4 1.8-1.4 1.7-.9 1.7-.9 1.8-1.1 1.7-1.2 1.7-.7 1.8-.6 1.7-.9 1.7-1 1.8-.8 1.7-.4"/>
<path class="e" d="M218.6 280.7l1.7-.2 1.8-.3 1.7-.1 1.7-.1M241.2 273.2l1.7-1.9 1.7-2.2 1.8-1.7 1.7-1 1.7-.6 1.8 0 1.7 .6M260.2 265.9l1.8-.8 1.7-1.1 1.7-1.4 1.8-1.4 1.7-.9 1.7-.9 1.8-1 1.7-1.1 1.7-.7 1.8-.6 1.7-.9 1.7-1.2 1.8-1 1.7-.6"/>
<path d="M267.2 261.2l1.7-.9 1.7-.9 1.8-1 1.7-1.1 1.7-.7 1.8-.6 1.7-.9 1.7-1.2 2.6 .9-1.7 1.2-1.8 .8-1.7 .4-1.7 .5-1.8 .8-1.7 .9-1.7 .7-1.8 .8z" fill="#345dd6" stroke="#345dd6"/>
<path d="M262 265.1l1.7-1.1 1.7-1.4 1.8-1.4 2.5-.3-1.7 1.3-1.7 1.2-1.8 .9z" fill="#3858d5" stroke="#3858d5"/>
<path d="M244.6 269.1l1.8-1.7 1.7-1 1.7-.6 2.6-.9-1.7 .6-1.8 .9-1.7 1.4z" fill="#345dd6" stroke="#345dd6"/>
<path d="M242.9 271.3l1.7-2.2 2.6-1.3-1.7 1.9z" fill="#3858d5" stroke="#3858d5"/>
<path d="M218.6 280.7l1.7-.2 1.8-.3 1.7-.1 1.7-.1 1.8-.7 2.6-1.2-1.8 .8-1.7 .2-1.7 0-1.8 .2-1.7 0z" fill="#3858d5" stroke="#3858d5"/>
<path class="h" d="M218.6 280.7l2.6-1.4M220.3 280.5l2.6-1.2M222.1 280.2l2.6-1.1M223.8 280.1l2.6-1M225.5 280l2.6-1.1M227.3 279.3l2.6-1.2M242.9 271.3l2.6-1.6M244.6 269.1l2.6-1.3M246.4 267.4l2.5-1M248.1 266.4l2.6-.9M249.8 265.8l2.6-.9M262 265.1l2.5-.8M263.7 264l2.6-.6M265.4 262.6l2.6-.4M267.2 261.2l2.5-.3M268.9 260.3l2.6-.2M270.6 259.4l2.6 0M272.4 258.4l2.5 .1M274.1 257.3l2.6 .4M275.8 256.6l2.6 .6M277.6 256l2.5 .8M279.3 255.1l2.6 .9M281 253.9l2.6 .9"/>
<path class="e" d="M218.6 280.7l2.6-1.4"/>
<path class="e" d="M218.6 280.7l1.7-.2 1.8-.3 1.7-.1 1.7-.1 1.8-.7M242.9 271.3l1.7-2.2 1.8-1.7 1.7-1 1.7-.6M262 265.1l1.7-1.1 1.7-1.4 1.8-1.4 1.7-.9 1.7-.9 1.8-1 1.7-1.1 1.7-.7 1.8-.6 1.7-.9 1.7-1.2"/>
<path class="e" d="M221.2 279.3l1.7 0 1.8-.2 1.7 0 1.7-.2 1.8-.8M245.5 269.7l1.7-1.9 1.7-1.4 1.8-.9 1.7-.6M264.5 264.3l1.8-.9 1.7-1.2 1.7-1.3 1.8-.8 1.7-.7 1.7-.9 1.8-.8 1.7-.5 1.7-.4 1.8-.8 1.7-1.2"/>
<path d="M268 262.2l1.7-1.3 1.8-.8 1.7-.7 1.7-.9 1.8-.8 1.7-.5 1.7-.4 2.6 .4-1.7 .2-1.7 .3-1.8 .8-1.7 .7-1.7 .5-1.8 .6-1.7 1.1z" fill="#345dd6" stroke="#345dd6"/>
<path d="M264.5 264.3l1.8-.9 1.7-1.2 2.6-.8-1.7 1.1-1.8 .8z" fill="#3858d5" stroke="#3858d5"/>
<path d="M261.1 265.7l1.7-.7 2.6-1.2-1.8 .6z" fill="#3858d5" stroke="#3858d5"/>
<path d="M252.4 264.9l1.7 0 2.6-.7-1.7 .2z" fill="#345dd6" stroke="#345dd6"/>
<path d="M250.7 265.5l1.7-.6 2.6-.5-1.8 .5z" fill="#2f63d6" stroke="#2f63d6"/>
<path d="M243.7 271.4l1.8-1.7 1.7-1.9 1.7-1.4 1.8-.9 2.5-.6-1.7 .6-1.7 1-1.8 1.5-1.7 1.4z" fill="#345dd6" stroke="#345dd6"/>
<path d="M224.7 279.1l1.7 0 1.7-.2 1.8-.8 2.5-2.2-1.7 .9-1.7 .2-1.8 0z" fill="#3858d5" stroke="#3858d5"/>
<path d="M221.2 279.3l1.7 0 1.8-.2 2.5-2.1-1.7 .2-1.7 .1z" fill="#345dd6" stroke="#345dd6"/>
<path class="h" d="M221.2 279.3l2.6-2M222.9 279.3l2.6-2.1M224.7 279.1l2.5-2.1M226.4 279.1l2.6-2.1M228.1 278.9l2.6-2.1M229.9 278.1l2.5-2.2M243.7 271.4l2.6-2M245.5 269.7l2.5-1.7M247.2 267.8l2.6-1.3M248.9 266.4l2.6-.9M250.7 265.5l2.5-.6M252.4 264.9l2.6-.5M254.1 264.9l2.6-.7M261.1 265.7l2.5-1.3M262.8 265l2.6-1.2M264.5 264.3l2.6-1M266.3 263.4l2.6-.9M268 262.2l2.6-.8M269.7 260.9l2.6-.6M271.5 260.1l2.6-.4M273.2 259.4l2.6-.2M274.9 258.5l2.6 0M276.7 257.7l2.6 0M278.4 257.2l2.6 .2M280.1 256.8l2.6 .4"/>
<path class="e" d="M221.2 279.3l2.6-2"/>
<path class="e" d="M221.2 279.3l1.7 0 1.8-.2 1.7 0 1.7-.2 1.8-.8M243.7 271.4l1.8-1.7 1.7-1.9 1.7-1.4 1.8-.9 1.7-.6 1.7 0M261.1 265.7l1.7-.7M264.5 264.3l1.8-.9 1.7-1.2 1.7-1.3 1.8-.8 1.7-.7 1.7-.9 1.8-.8 1.7-.5 1.7-.4"/>
<path class="e" d="M223.8 277.3l1.7-.1 1.7-.2 1.8 0 1.7-.2 1.7-.9M246.3 269.4l1.7-1.4 1.8-1.5 1.7-1 1.7-.6 1.8-.5 1.7-.2M263.6 264.4l1.8-.6M267.1 263.3l1.8-.8 1.7-1.1 1.7-1.1 1.8-.6 1.7-.5 1.7-.7 1.8-.8 1.7-.3 1.7-.2"/>
<path d="M258.4 264.5l1.8 .5 1.7 0 1.7-.6 1.8-.6 1.7-.5 1.8-.8 1.7-1.1 1.7-1.1 1.8-.6 1.7-.5 2.6 0-1.8 .5-1.7 .5-1.7 1-1.8 1-1.7 .7-1.7 .5-1.8 .7-1.7 .7-1.7 .3-1.8-.2z" fill="#345dd6" stroke="#345dd6"/>
<path d="M249.8 266.5l1.7-1 1.7-.6 1.8-.5 1.7-.2 1.7 .3 2.6 .4-1.7 0-1.7 .4-1.8 .4-1.7 .3-1.7 .6z" fill="#2f63d6" stroke="#2f63d6"/>
<path d="M234.2 274.7l1.7-1.1 1.7-.8 1.8-.9 1.7-.8 1.7-.7 1.8-.3 1.7-.7 1.7-1.4 1.8-1.5 2.6 .1-1.8 1-1.7 1-1.7 .7-1.8 .4-1.7 .8-1.7 1-1.8 .7-1.7 .5-1.7 .7z" fill="#345dd6" stroke="#345dd6"/>
<path d="M223.8 277.3l1.7-.1 1.7-.2 1.8 0 1.7-.2 2.6-1.8-1.7 .2-1.8 .2-1.7 .4-1.7 .4z" fill="#345dd6" stroke="#345dd6"/>
<path class="h" d="M223.8 277.3l2.6-1.1M225.5 277.2l2.6-1.4M227.2 277l2.6-1.6M229 277l2.6-1.8M230.7 276.8l2.6-1.8M234.2 274.7l2.6-1.3M235.9 273.6l2.6-.9M237.6 272.8l2.6-.6M239.4 271.9l2.6-.4M241.1 271.1l2.6-.6M242.8 270.4l2.6-.7M244.6 270.1l2.6-.8M246.3 269.4l2.6-.8M248 268l2.6-.4M249.8 266.5l2.6 .1M251.5 265.5l2.6 .5M253.2 264.9l2.6 .8M255 264.4l2.6 .9M256.7 264.2l2.6 .7M258.4 264.5l2.6 .4M260.2 265l2.6 .1M261.9 265l2.6-.2M263.6 264.4l2.6-.3M265.4 263.8l2.6-.4M267.1 263.3l2.6-.4M268.9 262.5l2.5-.3M270.6 261.4l2.6-.2M272.3 260.3l2.6-.1M274.1 259.7l2.5 0M275.8 259.2l2.6 0"/>
<path class="e" d="M223.8 277.3l2.6-1.1"/>
<path class="e" d="M223.8 277.3l1.7-.1 1.7-.2 1.8 0 1.7-.2M234.2 274.7l1.7-1.1 1.7-.8 1.8-.9 1.7-.8 1.7-.7 1.8-.3 1.7-.7 1.7-1.4 1.8-1.5 1.7-1 1.7-.6 1.8-.5 1.7-.2 1.7 .3 1.8 .5 1.7 0 1.7-.6 1.8-.6 1.7-.5 1.8-.8 1.7-1.1 1.7-1.1 1.8-.6 1.7-.5"/>
<path class="e" d="M226.4 276.2l1.7-.4 1.7-.4 1.8-.2 1.7-.2M236.8 273.4l1.7-.7 1.7-.5 1.8-.7 1.7-1 1.7-.8 1.8-.4 1.7-.7 1.7-1 1.8-1 1.7-.6 1.7-.3 1.8-.4 1.7-.4 1.7 0 1.8 .2 1.7-.3 1.7-.7 1.8-.7 1.7-.5 1.7-.7 1.8-1 1.7-1 1.7-.5 1.8-.5"/>
<path d="M259.3 264.9l1.7 0 1.8 .2 1.7-.3 1.7-.7 1.8-.7 2.5-.3-1.7 .8-1.7 1-1.8 .6-1.7 .2-1.7 .3z" fill="#345dd6" stroke="#345dd6"/>
<path d="M242 271.5l1.7-1 1.7-.8 1.8-.4 1.7-.7 1.7-1 1.8-1 1.7-.6 1.7-.3 1.8-.4 1.7-.4 2.6 1.1-1.8 .6-1.7 .4-1.7 .1-1.8 .2-1.7 .7-1.7 .8-1.8 .6-1.7 .6-1.7 1-1.8 1z" fill="#2f63d6" stroke="#2f63d6"/>
<path d="M235 274.4l1.8-1 1.7-.7 1.7-.5 1.8-.7 2.5 .5-1.7 .5-1.7 .2-1.8 .3-1.7 .6z" fill="#345dd6" stroke="#345dd6"/>
<path d="M226.4 276.2l1.7-.4 1.7-.4 1.8-.2 2.5-1-1.7 .4-1.7 .8-1.8 .7z" fill="#2f63d6" stroke="#2f63d6"/>
<path class="h" d="M226.4 276.2l2.5-.1M228.1 275.8l2.6-.4M229.8 275.4l2.6-.8M231.6 275.2l2.5-1M235 274.4l2.6-.8M236.8 273.4l2.5-.4M238.5 272.7l2.6 0M240.2 272.2l2.6 .3M242 271.5l2.5 .5M243.7 270.5l2.6 .5M245.4 269.7l2.6 .3M247.2 269.3l2.5 .1M248.9 268.6l2.6 .2M250.6 267.6l2.6 .4M252.4 266.6l2.5 .7M254.1 266l2.6 1.1M255.8 265.7l2.6 1.3M257.6 265.3l2.5 1.3M259.3 264.9l2.6 1.1M261 264.9l2.6 .8M262.8 265.1l2.5 .4M264.5 264.8l2.6 .1M266.2 264.1l2.6-.2M268 263.4l2.5-.3"/>
<path class="e" d="M226.4 276.2l2.5-.1"/>
<path class="e" d="M226.4 276.2l1.7-.4 1.7-.4 1.8-.2M235 274.4l1.8-1 1.7-.7 1.7-.5 1.8-.7 1.7-1 1.7-.8 1.8-.4 1.7-.7 1.7-1 1.8-1 1.7-.6 1.7-.3 1.8-.4 1.7-.4 1.7 0 1.8 .2 1.7-.3 1.7-.7 1.8-.7"/>
<path class="e" d="M228.9 276.1l1.8-.7 1.7-.8 1.7-.4M237.6 273.6l1.7-.6 1.8-.3 1.7-.2 1.7-.5 1.8-1 1.7-1 1.7-.6 1.8-.6 1.7-.8 1.7-.7 1.8-.2 1.7-.1 1.7-.4 1.8-.6 1.7-.3 1.7-.2 1.8-.6 1.7-1 1.7-.8"/>
<path d="M258.4 267l1.7-.4 1.8-.6 2.6 .2-1.8 .8-1.7 .5z" fill="#345dd6" stroke="#345dd6"/>
<path d="M242.8 272.5l1.7-.5 1.8-1 1.7-1 1.7-.6 1.8-.6 1.7-.8 1.7-.7 1.8-.2 1.7-.1 2.6 .5-1.7 .1-1.8 .1-1.7 .6-1.7 .8-1.8 .7-1.7 .7-1.8 1-1.7 1-1.7 .5z" fill="#2f63d6" stroke="#2f63d6"/>
<path d="M228.9 276.1l1.8-.7 1.7-.8 1.7-.4 1.8-.2 1.7-.4 1.7-.6 1.8-.3 2.5 .3-1.7 .1-1.7 .4-1.8 .4-1.7 .3-1.7 .6-1.8 1.2-1.7 1.1z" fill="#2f63d6" stroke="#2f63d6"/>
<path class="h" d="M228.9 276.1l2.6 1M230.7 275.4l2.5 .6M232.4 274.6l2.6 .2M234.1 274.2l2.6 0M235.9 274l2.5-.1M237.6 273.6l2.6-.1M239.3 273l2.6 .1M241.1 272.7l2.5 .3M242.8 272.5l2.6 .5M244.5 272l2.6 .5M246.3 271l2.5 .5M248 270l2.6 .5M249.7 269.4l2.6 .4M251.5 268.8l2.6 .3M253.2 268l2.6 .3M254.9 267.3l2.6 .4M256.7 267.1l2.6 .5M258.4 267l2.6 .5M260.1 266.6l2.6 .4M261.9 266l2.6 .2"/>
<path class="e" d="M228.9 276.1l2.6 1"/>
<path class="e" d="M228.9 276.1l1.8-.7 1.7-.8 1.7-.4 1.8-.2 1.7-.4 1.7-.6 1.8-.3M242.8 272.5l1.7-.5 1.8-1 1.7-1 1.7-.6 1.8-.6 1.7-.8 1.7-.7 1.8-.2 1.7-.1 1.7-.4 1.8-.6"/>
<path class="e" d="M231.5 277.1l1.7-1.1 1.8-1.2 1.7-.6 1.7-.3 1.8-.4 1.7-.4 1.7-.1M245.4 273l1.7-.5 1.7-1 1.8-1 1.7-.7 1.8-.7 1.7-.8 1.7-.6 1.8-.1 1.7-.1 1.7-.5 1.8-.8"/>
<path d="M248.8 271.5l1.8-1 1.7-.7 1.8-.7 1.7-.8 1.7-.6 1.8-.1 2.5-.7-1.7 .5-1.7 .8-1.8 1-1.7 .7-1.7 .6-1.8 1z" fill="#2f63d6" stroke="#2f63d6"/>
<path d="M247.1 272.5l1.7-1 2.6 0-1.7 1z" fill="#345dd6" stroke="#345dd6"/>
<path d="M231.5 277.1l1.7-1.1 1.8-1.2 1.7-.6 1.7-.3 1.8-.4 1.7-.4 1.7-.1 1.8 0 1.7-.5 2.6 0-1.7 .5-1.8 .1-1.7 .3-1.7 .6-1.8 .7-1.7 .6-1.7 .9-1.8 1.4-1.7 1.4z" fill="#2f63d6" stroke="#2f63d6"/>
<path class="h" d="M231.5 277.1l2.6 1.9M233.2 276l2.6 1.6M235 274.8l2.6 1.4M236.7 274.2l2.6 1.1M238.4 273.9l2.6 .8M240.2 273.5l2.6 .5M241.9 273.1l2.6 .3M243.6 273l2.6 .1M245.4 273l2.6 0M247.1 272.5l2.6 0M248.8 271.5l2.6 0M250.6 270.5l2.6 0M252.3 269.8l2.6 .1M254.1 269.1l2.5 .1M255.8 268.3l2.6-.1M257.5 267.7l2.6-.3M259.3 267.6l2.5-.7"/>
<path class="e" d="M231.5 277.1l2.6 1.9"/>
<path class="e" d="M231.5 277.1l1.7-1.1 1.8-1.2 1.7-.6 1.7-.3 1.8-.4 1.7-.4 1.7-.1 1.8 0 1.7-.5 1.7-1 1.8-1 1.7-.7 1.8-.7 1.7-.8 1.7-.6 1.8-.1"/>
<path class="e" d="M234.1 279l1.7-1.4 1.8-1.4 1.7-.9 1.7-.6 1.8-.7 1.7-.6 1.7-.3 1.8-.1 1.7-.5 1.7-1 1.8-1 1.7-.6 1.7-.7 1.8-1 1.7-.8 1.7-.5"/>
<path d="M235.8 277.6l1.8-1.4 1.7-.9 1.7-.6 1.8-.7 1.7-.6 1.7-.3 1.8-.1 1.7-.5 1.7-1 1.8-1 1.7-.6 1.7-.7 1.8-1 1.7-.8 1.7-.5 2.6-1.3-1.7 .9-1.8 1.3-1.7 1.2-1.7 .7-1.8 .6-1.7 .8-1.7 .9-1.8 .7-1.7 .4-1.7 .7-1.8 1.1-1.7 1.1-1.7 .8-1.8 1.1-1.7 1.5z" fill="#2f63d6" stroke="#2f63d6"/>
<path d="M234.1 279l1.7-1.4 2.6 1.8-1.7 1.5z" fill="#345dd6" stroke="#345dd6"/>
<path class="h" d="M234.1 279l2.6 1.9M235.8 277.6l2.6 1.8M237.6 276.2l2.5 1.7M239.3 275.3l2.6 1.5M241 274.7l2.6 1.3M242.8 274l2.5 .9M244.5 273.4l2.6 .4M246.2 273.1l2.6 0M248 273l2.5-.3M249.7 272.5l2.6-.5M251.4 271.5l2.6-.4M253.2 270.5l2.5-.2M254.9 269.9l2.6-.2M256.6 269.2l2.6-.2M258.4 268.2l2.5-.4M260.1 267.4l2.6-.9M261.8 266.9l2.6-1.3"/>
<path class="e" d="M234.1 279l2.6 1.9"/>
<path class="e" d="M234.1 279l1.7-1.4 1.8-1.4 1.7-.9 1.7-.6 1.8-.7 1.7-.6 1.7-.3 1.8-.1 1.7-.5 1.7-1 1.8-1 1.7-.6 1.7-.7 1.8-1 1.7-.8 1.7-.5"/>
<path class="e" d="M236.7 280.9l1.7-1.5 1.7-1.5 1.8-1.1 1.7-.8 1.7-1.1 1.8-1.1 1.7-.7 1.7-.4 1.8-.7 1.7-.9 1.7-.8 1.8-.6 1.7-.7 1.7-1.2 1.8-1.3 1.7-.9"/>
<path d="M274.8 260.3l1.7-1.2 1.8-1.1 2.6-1.5-1.8 1.2-1.7 1.3z" fill="#2a68d4" stroke="#2a68d4"/>
<path d="M267.9 263.8l1.7-1.2 2.6-1.4-1.7 1.2z" fill="#2a68d4" stroke="#2a68d4"/>
<path d="M266.1 264.8l1.8-1 2.6-1.4-1.8 1.2z" fill="#2f63d6" stroke="#2f63d6"/>
<path d="M241.9 276.8l1.7-.8 1.7-1.1 1.8-1.1 1.7-.7 1.7-.4 1.8-.7 1.7-.9 1.7-.8 1.8-.6 1.7-.7 1.7-1.2 1.8-1.3 1.7-.9 2.6-1-1.7 1.2-1.8 1.5-1.7 1.3-1.7 .7-1.8 .5-1.7 .7-1.7 1-1.8 .8-1.7 .8-1.7 1.2-1.8 1.5-1.7 1.3-1.7 1z" fill="#2f63d6" stroke="#2f63d6"/>
<path d="M236.7 280.9l1.7-1.5 1.7-1.5 1.8-1.1 2.6 1.3-1.8 1.1-1.7 1.4-1.7 1.4z" fill="#345dd6" stroke="#345dd6"/>
<path class="h" d="M236.7 280.9l2.6 1.1M238.4 279.4l2.6 1.2M240.1 277.9l2.6 1.3M241.9 276.8l2.6 1.3M243.6 276l2.6 1.1M245.3 274.9l2.6 .9M247.1 273.8l2.6 .5M248.8 273.1l2.6 0M250.5 272.7l2.6-.4M252.3 272l2.6-.5M254 271.1l2.6-.6M255.7 270.3l2.6-.5M257.5 269.7l2.6-.4M259.2 269l2.6-.4M260.9 267.8l2.6-.5M262.7 266.5l2.6-.7M264.4 265.6l2.6-1M266.1 264.8l2.6-1.2M267.9 263.8l2.6-1.4M269.6 262.6l2.6-1.4M274.8 260.3l2.6-1.3M276.5 259.1l2.6-1.4M278.3 258l2.6-1.5"/>
<path class="e" d="M236.7 280.9l2.6 1.1"/>
<path class="e" d="M236.7 280.9l1.7-1.5 1.7-1.5 1.8-1.1 1.7-.8 1.7-1.1 1.8-1.1 1.7-.7 1.7-.4 1.8-.7 1.7-.9 1.7-.8 1.8-.6 1.7-.7 1.7-1.2 1.8-1.3 1.7-.9M266.1 264.8l1.8-1 1.7-1.2M274.8 260.3l1.7-1.2 1.8-1.1"/>
<path class="e" d="M239.3 282l1.7-1.4 1.7-1.4 1.8-1.1 1.7-1 1.7-1.3 1.8-1.5 1.7-1.2 1.7-.8 1.8-.8 1.7-1 1.7-.7 1.8-.5 1.7-.7 1.7-1.3 1.8-1.5 1.7-1.2M268.7 263.6l1.8-1.2 1.7-1.2M277.4 259l1.7-1.3 1.8-1.2"/>
<path d="M265.3 265.8l1.7-1.2 1.7-1 1.8-1.2 1.7-1.2 1.7-.8 1.8-.5 1.7-.9 1.7-1.3 1.8-1.2 2.5 0-1.7 1.3-1.7 1.4-1.8 .9-1.7 .7-1.7 .8-1.8 1.1-1.7 1.1-1.7 .9-1.8 .9z" fill="#2a68d4" stroke="#2a68d4"/>
<path d="M247.9 275.8l1.8-1.5 1.7-1.2 1.7-.8 1.8-.8 1.7-1 1.7-.7 1.8-.5 1.7-.7 1.7-1.3 1.8-1.5 2.5-.2-1.7 1.3-1.7 1.2-1.8 .7-1.7 .4-1.7 .9-1.8 1.1-1.7 1-1.7 1-1.8 1.4-1.7 1.7z" fill="#2f63d6" stroke="#2f63d6"/>
<path d="M239.3 282l1.7-1.4 1.7-1.4 1.8-1.1 1.7-1 1.7-1.3 2.6 .5-1.7 1.4-1.8 .9-1.7 .8-1.7 1.2-1.8 1z" fill="#345dd6" stroke="#345dd6"/>
<path class="h" d="M239.3 282l2.5-.4M241 280.6l2.6 0M242.7 279.2l2.6 .2M244.5 278.1l2.5 .5M246.2 277.1l2.6 .6M247.9 275.8l2.6 .5M249.7 274.3l2.5 .3M251.4 273.1l2.6 .1M253.1 272.3l2.6-.1M254.9 271.5l2.5-.3M256.6 270.5l2.6-.4M258.3 269.8l2.6-.6M260.1 269.3l2.5-.5M261.8 268.6l2.6-.5M263.5 267.3l2.6-.4M265.3 265.8l2.5-.2M267 264.6l2.6 .1M268.7 263.6l2.6 .2M270.5 262.4l2.5 .3M272.2 261.2l2.6 .4M273.9 260.4l2.6 .4M275.7 259.9l2.5 .2M277.4 259l2.6 .2M279.1 257.7l2.6 .1M280.9 256.5l2.5 0"/>
<path class="e" d="M239.3 282l2.5-.4"/>
<path class="e" d="M239.3 282l1.7-1.4 1.7-1.4 1.8-1.1 1.7-1 1.7-1.3 1.8-1.5 1.7-1.2 1.7-.8 1.8-.8 1.7-1 1.7-.7 1.8-.5 1.7-.7 1.7-1.3 1.8-1.5 1.7-1.2 1.7-1 1.8-1.2 1.7-1.2 1.7-.8 1.8-.5 1.7-.9 1.7-1.3 1.8-1.2"/>
<path class="e" d="M241.8 281.6l1.8-1 1.7-1.2 1.7-.8 1.8-.9 1.7-1.4 1.7-1.7 1.8-1.4 1.7-1 1.7-1 1.8-1.1 1.7-.9 1.7-.4 1.8-.7 1.7-1.2 1.7-1.3 1.8-.9 1.7-.9 1.7-1.1 1.8-1.1 1.7-.8 1.7-.7 1.8-.9 1.7-1.4 1.7-1.3"/>
<path d="M266.1 266.9l1.7-1.3 1.8-.9 1.7-.9 1.7-1.1 1.8-1.1 1.7-.8 1.7-.7 1.8-.9 1.7-1.4 2.6 1.1-1.7 1.5-1.8 1.1-1.7 .7-1.8 .8-1.7 1.1-1.7 .8-1.8 .5-1.7 .6-1.7 .9z" fill="#2a68d4" stroke="#2a68d4"/>
<path d="M250.5 276.3l1.7-1.7 1.8-1.4 1.7-1 1.7-1 1.8-1.1 1.7-.9 1.7-.4 1.8-.7 1.7-1.2 2.6 0-1.8 .9-1.7 .6-1.7 .5-1.8 .9-1.7 1.3-1.7 1.2-1.8 1.1-1.7 1.4-1.7 1.7z" fill="#2f63d6" stroke="#2f63d6"/>
<path d="M241.8 281.6l1.8-1 1.7-1.2 1.7-.8 1.8-.9 1.7-1.4 2.6 .2-1.8 1.2-1.7 .6-1.7 .6-1.8 .7-1.7 .7z" fill="#345dd6" stroke="#345dd6"/>
<path class="h" d="M241.8 281.6l2.6-1.3M243.6 280.6l2.5-1M245.3 279.4l2.6-.5M247 278.6l2.6-.3M248.8 277.7l2.5 0M250.5 276.3l2.6 .2M252.2 274.6l2.6 .2M254 273.2l2.5 .2M255.7 272.2l2.6 .1M257.4 271.2l2.6-.1M259.2 270.1l2.5-.3M260.9 269.2l2.6-.3M262.6 268.8l2.6-.4M264.4 268.1l2.5-.3M266.1 266.9l2.6 0M267.8 265.6l2.6 .4M269.6 264.7l2.5 .7M271.3 263.8l2.6 1.1M273 262.7l2.6 1.4M274.8 261.6l2.5 1.4M276.5 260.8l2.6 1.4M278.2 260.1l2.6 1.4M280 259.2l2.6 1.2M281.7 257.8l2.6 1.1"/>
<path class="e" d="M241.8 281.6l2.6-1.3"/>
<path class="e" d="M241.8 281.6l1.8-1 1.7-1.2 1.7-.8 1.8-.9 1.7-1.4 1.7-1.7 1.8-1.4 1.7-1 1.7-1 1.8-1.1 1.7-.9 1.7-.4 1.8-.7 1.7-1.2 1.7-1.3 1.8-.9 1.7-.9 1.7-1.1 1.8-1.1 1.7-.8 1.7-.7 1.8-.9 1.7-1.4"/>
<path class="e" d="M244.4 280.3l1.7-.7 1.8-.7 1.7-.6 1.7-.6 1.8-1.2 1.7-1.7 1.7-1.4 1.8-1.1 1.7-1.2 1.7-1.3 1.8-.9 1.7-.5 1.7-.6 1.8-.9 1.7-.9 1.7-.6 1.8-.5 1.7-.8 1.7-1.1 1.8-.8 1.7-.7 1.8-1.1 1.7-1.5"/>
<path d="M261.7 269.8l1.8-.9 1.7-.5 1.7-.6 1.8-.9 1.7-.9 1.7-.6 1.8-.5 1.7-.8 1.7-1.1 1.8-.8 1.7-.7 2.6 1.3-1.7 .8-1.8 .8-1.7 1-1.7 .7-1.8 .3-1.7 .3-1.7 .6-1.8 .7-1.7 .5-1.7 .5-1.8 1z" fill="#2a68d4" stroke="#2a68d4"/>
<path d="M251.3 277.7l1.8-1.2 1.7-1.7 1.7-1.4 1.8-1.1 1.7-1.2 1.7-1.3 2.6 .2-1.7 1.3-1.7 1.2-1.8 1.1-1.7 1.2-1.7 1.5-1.8 1z" fill="#2f63d6" stroke="#2f63d6"/>
<path d="M247.9 278.9l1.7-.6 2.6-.6-1.7 .4z" fill="#345dd6" stroke="#345dd6"/>
<path d="M244.4 280.3l1.7-.7 1.8-.7 2.6-.8-1.8 .5-1.7 .5z" fill="#2f63d6" stroke="#2f63d6"/>
<path class="h" d="M244.4 280.3l2.6-1.2M246.1 279.6l2.6-1M247.9 278.9l2.6-.8M249.6 278.3l2.6-.6M251.3 277.7l2.6-.4M253.1 276.5l2.6-.2M254.8 274.8l2.6 0M256.5 273.4l2.6 .2M258.3 272.3l2.6 .2M260 271.1l2.6 .2M261.7 269.8l2.6 .2M263.5 268.9l2.6 .1M265.2 268.4l2.6 .1M266.9 267.8l2.6 .2M268.7 266.9l2.6 .4M270.4 266l2.6 .7M272.1 265.4l2.6 1M273.9 264.9l2.6 1.2M275.6 264.1l2.6 1.3M277.3 263l2.6 1.4M279.1 262.2l2.6 1.4M280.8 261.5l2.6 1.3"/>
<path class="e" d="M244.4 280.3l2.6-1.2"/>
<path class="e" d="M244.4 280.3l1.7-.7 1.8-.7 1.7-.6M251.3 277.7l1.8-1.2 1.7-1.7 1.7-1.4 1.8-1.1 1.7-1.2 1.7-1.3 1.8-.9 1.7-.5 1.7-.6 1.8-.9 1.7-.9 1.7-.6 1.8-.5 1.7-.8 1.7-1.1 1.8-.8 1.7-.7"/>
<path class="e" d="M247 279.1l1.7-.5 1.8-.5 1.7-.4M253.9 277.3l1.8-1 1.7-1.5 1.7-1.2 1.8-1.1 1.7-1.2 1.7-1.3 1.8-1 1.7-.5 1.7-.5 1.8-.7 1.7-.6 1.7-.3 1.8-.3 1.7-.7 1.7-1 1.8-.8 1.7-.8"/>
<path d="M262.6 271.3l1.7-1.3 1.8-1 1.7-.5 1.7-.5 1.8-.7 1.7-.6 1.7-.3 1.8-.3 1.7-.7 1.7-1 1.8-.8 2.5 .3-1.7 .9-1.7 1-1.8 .8-1.7 .3-1.7 .4-1.8 .8-1.7 .7-1.7 .5-1.8 .5-1.7 .9-1.7 1.1z" fill="#2a68d4" stroke="#2a68d4"/>
<path d="M247 279.1l1.7-.5 1.8-.5 1.7-.4 1.7-.4 1.8-1 1.7-1.5 1.7-1.2 1.8-1.1 1.7-1.2 2.6 .5-1.8 .9-1.7 .8-1.7 1.1-1.8 1.2-1.7 1-1.7 .4-1.8 .5-1.7 .7-1.7 .6z" fill="#2f63d6" stroke="#2f63d6"/>
<path class="h" d="M247 279.1l2.6-.1M248.7 278.6l2.6-.2M250.5 278.1l2.5-.4M252.2 277.7l2.6-.5M253.9 277.3l2.6-.5M255.7 276.3l2.5-.5M257.4 274.8l2.6-.2M259.1 273.6l2.6-.1M260.9 272.5l2.5 .2M262.6 271.3l2.6 .5M264.3 270l2.6 .7M266.1 269l2.5 .8M267.8 268.5l2.6 .8M269.5 268l2.6 .8M271.3 267.3l2.5 .8M273 266.7l2.6 .6M274.7 266.4l2.6 .5M276.5 266.1l2.5 .5M278.2 265.4l2.6 .4M279.9 264.4l2.6 .4M281.7 263.6l2.5 .3"/>
<path class="e" d="M247 279.1l2.6-.1"/>
<path class="e" d="M247 279.1l1.7-.5 1.8-.5 1.7-.4 1.7-.4 1.8-1 1.7-1.5 1.7-1.2 1.8-1.1 1.7-1.2 1.7-1.3 1.8-1 1.7-.5 1.7-.5 1.8-.7 1.7-.6 1.7-.3 1.8-.3 1.7-.7 1.7-1 1.8-.8"/>
<path class="e" d="M249.6 279l1.7-.6 1.7-.7 1.8-.5 1.7-.4 1.7-1 1.8-1.2 1.7-1.1 1.7-.8 1.8-.9 1.7-1.1 1.7-.9 1.8-.5 1.7-.5 1.7-.7 1.8-.8 1.7-.4 1.7-.3 1.8-.8 1.7-1 1.7-.9"/>
<path d="M265.2 271.8l1.7-1.1 1.7-.9 1.8-.5 1.7-.5 1.7-.7 1.8-.8 1.7-.4 1.7-.3 1.8-.8 2.6-.4-1.8 1-1.7 .8-1.7 .8-1.8 1.1-1.7 1.1-1.7 .5-1.8 .3-1.7 .7-1.7 .8z" fill="#2a68d4" stroke="#2a68d4"/>
<path d="M249.6 279l1.7-.6 1.7-.7 1.8-.5 1.7-.4 1.7-1 1.8-1.2 1.7-1.1 1.7-.8 1.8-.9 2.6 .7-1.8 .6-1.7 .5-1.8 .8-1.7 1.1-1.7 1-1.8 .6-1.7 .7-1.7 1-1.8 1z" fill="#2f63d6" stroke="#2f63d6"/>
<path class="h" d="M249.6 279l2.5 .8M251.3 278.4l2.6 .4M253 277.7l2.6 .1M254.8 277.2l2.5-.1M256.5 276.8l2.6-.3M258.2 275.8l2.6-.3M260 274.6l2.5-.2M261.7 273.5l2.6 .1M263.4 272.7l2.6 .4M265.2 271.8l2.6 .7M266.9 270.7l2.6 1M268.6 269.8l2.6 1.2M270.4 269.3l2.6 1.4M272.1 268.8l2.6 1.4M273.8 268.1l2.6 1M275.6 267.3l2.6 .7M277.3 266.9l2.6 .3M279 266.6l2.6-.2M280.8 265.8l2.6-.4"/>
<path class="e" d="M249.6 279l2.5 .8"/>
<path class="e" d="M249.6 279l1.7-.6 1.7-.7 1.8-.5 1.7-.4 1.7-1 1.8-1.2 1.7-1.1 1.7-.8 1.8-.9 1.7-1.1 1.7-.9 1.8-.5 1.7-.5 1.7-.7 1.8-.8 1.7-.4 1.7-.3 1.8-.8"/>
<path class="e" d="M252.1 279.8l1.8-1 1.7-1 1.7-.7 1.8-.6 1.7-1 1.7-1.1 1.8-.8 1.7-.5 1.8-.6 1.7-.8 1.7-.7 1.8-.3 1.7-.5 1.7-1.1 1.8-1.1 1.7-.8 1.7-.8 1.8-1"/>
<path d="M278.2 268l1.7-.8 1.7-.8 2.6-.2-1.7 1.2-1.8 1.3z" fill="#2a68d4" stroke="#2a68d4"/>
<path d="M252.1 279.8l1.8-1 1.7-1 1.7-.7 1.8-.6 1.7-1 1.7-1.1 1.8-.8 1.7-.5 1.8-.6 1.7-.8 1.7-.7 1.8-.3 1.7-.5 1.7-1.1 1.8-1.1 2.5 .7-1.7 1.5-1.7 1.4-1.8 .5-1.7 .3-1.7 .4-1.8 .5-1.7 .4-1.7 .3-1.8 .8-1.7 1.1-1.7 1-1.8 .7-1.7 .9-1.7 1.2-1.8 1.2z" fill="#2f63d6" stroke="#2f63d6"/>
<path class="h" d="M252.1 279.8l2.6 1.1M253.9 278.8l2.6 .9M255.6 277.8l2.6 .7M257.3 277.1l2.6 .5M259.1 276.5l2.6 .4M260.8 275.5l2.6 .4M262.5 274.4l2.6 .4M264.3 273.6l2.6 .4M266 273.1l2.6 .6M267.8 272.5l2.5 .8M269.5 271.7l2.6 1.1M271.2 271l2.6 1.4M273 270.7l2.5 1.4M274.7 270.2l2.6 1.4M276.4 269.1l2.6 1.1M278.2 268l2.5 .7M279.9 267.2l2.6 .2M281.6 266.4l2.6-.2"/>
<path class="e" d="M252.1 279.8l2.6 1.1"/>
<path class="e" d="M252.1 279.8l1.8-1 1.7-1 1.7-.7 1.8-.6 1.7-1 1.7-1.1 1.8-.8 1.7-.5 1.8-.6 1.7-.8 1.7-.7 1.8-.3 1.7-.5 1.7-1.1 1.8-1.1 1.7-.8 1.7-.8"/>
<path class="e" d="M254.7 280.9l1.8-1.2 1.7-1.2 1.7-.9 1.8-.7 1.7-1 1.7-1.1 1.8-.8 1.7-.3 1.7-.4 1.8-.5 1.7-.4 1.7-.3 1.8-.5 1.7-1.4 1.7-1.5 1.8-1.3 1.7-1.2"/>
<path d="M254.7 280.9l1.8-1.2 1.7-1.2 1.7-.9 1.8-.7 1.7-1 1.7-1.1 1.8-.8 1.7-.3 1.7-.4 1.8-.5 1.7-.4 1.7-.3 1.8-.5 1.7-1.4 1.7-1.5 2.6 .6-1.7 1.8-1.8 1.5-1.7 .6-1.7 .2-1.8 .3-1.7 .6-1.7 .5-1.8 .5-1.7 .9-1.7 1.2-1.8 1-1.7 .6-1.7 .6-1.8 1-1.7 .8z" fill="#2f63d6" stroke="#2f63d6"/>
<path class="h" d="M254.7 280.9l2.6 .5M256.5 279.7l2.5 .9M258.2 278.5l2.6 1.1M259.9 277.6l2.6 1.4M261.7 276.9l2.5 1.5M263.4 275.9l2.6 1.5M265.1 274.8l2.6 1.4M266.9 274l2.5 1.3M268.6 273.7l2.6 1.1M270.3 273.3l2.6 1M272.1 272.8l2.5 .9M273.8 272.4l2.6 1M275.5 272.1l2.6 1.1M277.3 271.6l2.5 1M279 270.2l2.6 .9M280.7 268.7l2.6 .6"/>
<path class="e" d="M254.7 280.9l2.6 .5"/>
<path class="e" d="M254.7 280.9l1.8-1.2 1.7-1.2 1.7-.9 1.8-.7 1.7-1 1.7-1.1 1.8-.8 1.7-.3 1.7-.4 1.8-.5 1.7-.4 1.7-.3 1.8-.5 1.7-1.4 1.7-1.5"/>
<path class="e" d="M257.3 281.4l1.7-.8 1.8-1 1.7-.6 1.7-.6 1.8-1 1.7-1.2 1.7-.9 1.8-.5 1.7-.5 1.7-.6 1.8-.3 1.7-.2 1.7-.6 1.8-1.5 1.7-1.8"/>
<path d="M269.4 275.3l1.8-.5 1.7-.5 1.7-.6 1.8-.3 1.7-.2 1.7-.6 2.6 .2-1.7 .6-1.7 .3-1.8 .5-1.7 .9-1.7 .8-1.8 .9z" fill="#2f63d6" stroke="#2f63d6"/>
<path d="M257.3 281.4l1.7-.8 1.8-1 1.7-.6 1.7-.6 2.6 2.1-1.7 .3-1.7 0-1.8 .2-1.7 .1z" fill="#2f63d6" stroke="#2f63d6"/>
<path class="h" d="M257.3 281.4l2.6-.3M259 280.6l2.6 .4M260.8 279.6l2.6 1.2M262.5 279l2.6 1.8M264.2 278.4l2.6 2.1M269.4 275.3l2.6 1.5M271.2 274.8l2.6 1.1M272.9 274.3l2.6 .8M274.6 273.7l2.6 .5M276.4 273.4l2.6 .3M278.1 273.2l2.6 .2M279.8 272.6l2.6 .2"/>
<path class="e" d="M257.3 281.4l2.6-.3"/>
<path class="e" d="M257.3 281.4l1.7-.8 1.8-1 1.7-.6 1.7-.6M269.4 275.3l1.8-.5 1.7-.5 1.7-.6 1.8-.3 1.7-.2 1.7-.6"/>
<path class="e" d="M259.9 281.1l1.7-.1 1.8-.2 1.7 0 1.7-.3M272 276.8l1.8-.9 1.7-.8 1.7-.9 1.8-.5 1.7-.3 1.7-.6"/>
<path d="M259.9 281.1l1.7-.1 1.8-.2 1.7 0 2.6 .8-1.8-.5-1.7-.5-1.7-.7z" fill="#2f63d6" stroke="#2f63d6"/>
<path class="h" d="M259.9 281.1l2.6-1.2M261.6 281l2.6-.4M263.4 280.8l2.5 .3M265.1 280.8l2.6 .8"/>
<path class="e" d="M259.9 281.1l2.6-1.2"/>
<path class="e" d="M259.9 281.1l1.7-.1 1.8-.2 1.7 0"/>
<path class="e" d="M262.5 279.9l1.7 .7 1.7 .5 1.8 .5"/>
<path d="M267.7 281.6l1.7 .1 1.7-.8 2.6-1.1-1.7 .8-1.8-.3z" fill="#345dd6" stroke="#345dd6"/>
<path d="M264.2 280.6l1.7 .5 1.8 .5 2.5-1.3-1.7-.7-1.7-.7z" fill="#2f63d6" stroke="#2f63d6"/>
<path d="M262.5 279.9l1.7 .7 2.6-1.7-1.8-1z" fill="#2a68d4" stroke="#2a68d4"/>
<path class="h" d="M262.5 279.9l2.5-2M264.2 280.6l2.6-1.7M265.9 281.1l2.6-1.5M267.7 281.6l2.5-1.3M269.4 281.7l2.6-1.1M271.1 280.9l2.6-1.1"/>
<path class="e" d="M262.5 279.9l2.5-2"/>
<path class="e" d="M262.5 279.9l1.7 .7 1.7 .5 1.8 .5 1.7 .1 1.7-.8"/>
<path class="e" d="M265 277.9l1.8 1 1.7 .7 1.7 .7 1.8 .3 1.7-.8"/>
<path d="M268.5 279.6l1.7 .7 1.8 .3 1.7-.8 2.6-3.3-1.7 .7-1.8-.2-1.7-.5z" fill="#2f63d6" stroke="#2f63d6"/>
<path d="M265 277.9l1.8 1 1.7 .7 2.6-3.1-1.7-.3-1.8-.5z" fill="#2a68d4" stroke="#2a68d4"/>
<path class="h" d="M265 277.9l2.6-2.2M266.8 278.9l2.6-2.7M268.5 279.6l2.6-3.1M270.2 280.3l2.6-3.3M272 280.6l2.6-3.4M273.7 279.8l2.6-3.3"/>
<path class="e" d="M265 277.9l2.6-2.2"/>
<path class="e" d="M265 277.9l1.8 1 1.7 .7 1.7 .7 1.8 .3 1.7-.8"/>
<path class="e" d="M267.6 275.7l1.8 .5 1.7 .3 1.7 .5 1.8 .2 1.7-.7"/>
<path d="M267.6 275.7l1.8 .5 1.7 .3 2.6-2.1-1.8 .3-1.7 .3z" fill="#276dd2" stroke="#276dd2"/>
<path class="h" d="M267.6 275.7l2.6-.7M269.4 276.2l2.5-1.5M271.1 276.5l2.6-2.1"/>
<path class="e" d="M267.6 275.7l2.6-.7"/>
<path class="e" d="M267.6 275.7l1.8 .5 1.7 .3"/>
<path class="e" d="M270.2 275l1.7-.3 1.8-.3"/>
<path d="M270.2 275l1.7-.3 1.8-.3 1.7-.1 1.7-.1 1.8-.5 1.7-.9 2.6 .9-1.7 .5-1.8 .4-1.7 .3-1.7 .6-1.8 1-1.7 1.1z" fill="#276dd2" stroke="#276dd2"/>
<path class="h" d="M270.2 275l2.6 2.6M271.9 274.7l2.6 1.8M273.7 274.4l2.6 1.1M275.4 274.3l2.6 .6M277.1 274.2l2.6 .4M278.9 273.7l2.6 .5M280.6 272.8l2.6 .9"/>
<path class="e" d="M270.2 275l2.6 2.6"/>
<path class="e" d="M270.2 275l1.7-.3 1.8-.3 1.7-.1 1.7-.1 1.8-.5 1.7-.9"/>
<path class="e" d="M272.8 277.6l1.7-1.1 1.8-1 1.7-.6 1.7-.3 1.8-.4 1.7-.5"/>
<path d="M272.8 277.6l1.7-1.1 1.8-1 1.7-.6 1.7-.3 2.6 4-1.7 .4-1.8 .8-1.7 1.4-1.7 1.5z" fill="#276dd2" stroke="#276dd2"/>
<path class="h" d="M272.8 277.6l2.6 5.1M274.5 276.5l2.6 4.7M276.3 275.5l2.5 4.3M278 274.9l2.6 4.1M279.7 274.6l2.6 4"/>
<path class="e" d="M272.8 277.6l2.6 5.1"/>
<path class="e" d="M272.8 277.6l1.7-1.1 1.8-1 1.7-.6 1.7-.3"/>
<path class="e" d="M275.4 282.7l1.7-1.5 1.7-1.4 1.8-.8 1.7-.4"/>
<path d="M287.5 277.9l1.7 .2 2.6 0-1.7-.2z" fill="#2f63d6" stroke="#2f63d6"/>
<path d="M277.1 281.2l1.7-1.4 2.6 0-1.7 1.5z" fill="#2a68d4" stroke="#2a68d4"/>
<path d="M275.4 282.7l1.7-1.5 2.6 .1-1.8 1.5z" fill="#2f63d6" stroke="#2f63d6"/>
<path class="h" d="M275.4 282.7l2.5 .1M277.1 281.2l2.6 .1M278.8 279.8l2.6 0M287.5 277.9l2.6 0M289.2 278.1l2.6 0"/>
<path class="e" d="M275.4 282.7l2.5 .1"/>
<path class="e" d="M275.4 282.7l1.7-1.5 1.7-1.4M287.5 277.9l1.7 .2"/>
<path class="e" d="M277.9 282.8l1.8-1.5 1.7-1.5M290.1 277.9l1.7 .2"/>
<path d="M298.7 274l1.8-1.1 1.7-1.2 1.7-.9 1.8-.5 2.6-13.7-1.8 .6-1.7 1.1-1.7 1.3-1.8 1.1z" fill="#2a68d4" stroke="#2a68d4"/>
<path d="M290.1 277.9l1.7 .2 1.7-.4 1.8-1.2 1.7-1.4 1.7-1.1 2.6-13.3-1.7 1-1.7 1.3-1.8 1.1-1.7 .5-1.7-.2z" fill="#2f63d6" stroke="#2f63d6"/>
<path d="M279.7 281.3l1.7-1.5 1.7-1 1.8-.4 1.7-.4 1.7-.2 1.8 .1 2.6-13.5-1.8 0-1.7 .3-1.7 .4-1.8 .4-1.7 .9-1.7 1.5z" fill="#2a68d4" stroke="#2a68d4"/>
<path d="M277.9 282.8l1.8-1.5 2.6-13.4-1.8 1.5z" fill="#2f63d6" stroke="#2f63d6"/>
<path class="h" d="M277.9 282.8l2.6-13.4M279.7 281.3l2.6-13.4M281.4 279.8l2.6-13.4M283.1 278.8l2.6-13.3M284.9 278.4l2.6-13.3M286.6 278l2.6-13.3M288.3 277.8l2.6-13.4M290.1 277.9l2.6-13.5M291.8 278.1l2.6-13.5M293.5 277.7l2.6-13.6M295.3 276.5l2.6-13.5M297 275.1l2.6-13.4M298.7 274l2.6-13.3M300.5 272.9l2.6-13.3M302.2 271.7l2.6-13.4M303.9 270.8l2.6-13.6M305.7 270.3l2.6-13.7"/>
<path class="e" d="M277.9 282.8l2.6-13.4"/>
<path class="e" d="M277.9 282.8l1.8-1.5 1.7-1.5 1.7-1 1.8-.4 1.7-.4 1.7-.2 1.8 .1 1.7 .2 1.7-.4 1.8-1.2 1.7-1.4 1.7-1.1 1.8-1.1 1.7-1.2 1.7-.9 1.8-.5"/>
<path class="e" d="M280.5 269.4l1.8-1.5 1.7-1.5 1.7-.9 1.8-.4 1.7-.4 1.7-.3 1.8 0 1.7 .2 1.7-.5 1.8-1.1 1.7-1.3 1.7-1 1.8-1.1 1.7-1.3 1.7-1.1 1.8-.6"/>
<path d="M303.1 259.6l1.7-1.3 2.6-32.3-1.8 1.2z" fill="#247ac8" stroke="#247ac8"/>
<path d="M290.9 264.4l1.8 0 1.7 .2 1.7-.5 1.8-1.1 1.7-1.3 1.7-1 1.8-1.1 2.5-32.4-1.7 1-1.7 .8-1.8 1.1-1.7 1.1-1.7 .4-1.8 0-1.7 .2z" fill="#2676cc" stroke="#2676cc"/>
<path d="M284 266.4l1.7-.9 1.8-.4 1.7-.4 1.7-.3 2.6-32.6-1.7 .4-1.8 .6-1.7 .4-1.7 .8z" fill="#247ac8" stroke="#247ac8"/>
<path d="M280.5 269.4l1.8-1.5 1.7-1.5 2.6-32.4-1.8 1.3-1.7 1.3z" fill="#2676cc" stroke="#2676cc"/>
<path class="h" d="M280.5 269.4l2.6-32.8M282.3 267.9l2.5-32.6M284 266.4l2.6-32.4M285.7 265.5l2.6-32.3M287.5 265.1l2.5-32.3M289.2 264.7l2.6-32.5M290.9 264.4l2.6-32.6M292.7 264.4l2.5-32.8M294.4 264.6l2.6-33M296.1 264.1l2.6-32.9M297.9 263l2.5-32.9M299.6 261.7l2.6-32.7M301.3 260.7l2.6-32.5M303.1 259.6l2.5-32.4M304.8 258.3l2.6-32.3"/>
<path class="e" d="M280.5 269.4l2.6-32.8"/>
<path class="e" d="M280.5 269.4l1.8-1.5 1.7-1.5 1.7-.9 1.8-.4 1.7-.4 1.7-.3 1.8 0 1.7 .2 1.7-.5 1.8-1.1 1.7-1.3 1.7-1 1.8-1.1 1.7-1.3"/>
<path class="e" d="M283.1 236.6l1.7-1.3 1.8-1.3 1.7-.8 1.7-.4 1.8-.6 1.7-.4 1.7-.2 1.8 0 1.7-.4 1.7-1.1 1.8-1.1 1.7-.8 1.7-1 1.8-1.2"/>
<path d="M295.2 231.6l1.8 0 1.7-.4 1.7-1.1 1.8-1.1 2.6-43.4-1.8 .9-1.7 .9-1.8 .5-1.7 .2z" fill="#0698af" stroke="#0698af"/>
<path d="M284.8 235.3l1.8-1.3 1.7-.8 1.7-.4 1.8-.6 1.7-.4 1.7-.2 2.6-43.5-1.7 .4-1.8 .7-1.7 .6-1.7 .5-1.8 .6-1.7 1.1z" fill="#019aaa" stroke="#019aaa"/>
<path d="M283.1 236.6l1.7-1.3 2.6-43.3-1.7 1.1z" fill="#0698af" stroke="#0698af"/>
<path class="h" d="M283.1 236.6l2.6-43.5M284.8 235.3l2.6-43.3M286.6 234l2.5-43.1M288.3 233.2l2.6-42.9M290 232.8l2.6-43M291.8 232.2l2.5-43M293.5 231.8l2.6-43.3M295.2 231.6l2.6-43.5M297 231.6l2.5-43.7M298.7 231.2l2.6-43.8M300.4 230.1l2.6-43.6M302.2 229l2.6-43.4"/>
<path class="e" d="M283.1 236.6l2.6-43.5"/>
<path class="e" d="M283.1 236.6l1.7-1.3 1.8-1.3 1.7-.8 1.7-.4 1.8-.6 1.7-.4 1.7-.2 1.8 0 1.7-.4 1.7-1.1 1.8-1.1"/>
<path class="e" d="M285.7 193.1l1.7-1.1 1.7-1.1 1.8-.6 1.7-.5 1.7-.6 1.8-.7 1.7-.4 1.7-.2 1.8-.5 1.7-.9 1.8-.9"/>
<path d="M285.7 193.1l1.7-1.1 1.7-1.1 1.8-.6 1.7-.5 1.7-.6 1.8-.7 1.7-.4 1.7-.2 2.6-41.4-1.7 .3-1.7 .6-1.8 1-1.7 .7-1.7 .4-1.8 .5-1.7 .9-1.7 .9z" fill="#5fac54" stroke="#5fac54"/>
<path class="h" d="M285.7 193.1l2.6-41.3M287.4 192l2.6-41.1M289.1 190.9l2.6-40.9M290.9 190.3l2.6-40.8M292.6 189.8l2.6-40.7M294.3 189.2l2.6-40.8M296.1 188.5l2.6-41.1M297.8 188.1l2.6-41.3M299.5 187.9l2.6-41.4"/>
<path class="e" d="M285.7 193.1l2.6-41.3"/>
<path class="e" d="M285.7 193.1l1.7-1.1 1.7-1.1 1.8-.6 1.7-.5 1.7-.6 1.8-.7 1.7-.4 1.7-.2"/>
<path class="e" d="M288.3 151.8l1.7-.9 1.7-.9 1.8-.5 1.7-.4 1.7-.7 1.8-1 1.7-.6 1.7-.3"/>
<path d="M288.3 151.8l1.7-.9 1.7-.9 1.8-.5 1.7-.4 1.7-.7 2.6-26.5-1.7 .9-1.8 .1-1.7 .2-1.7 1-1.8 .9z" fill="#d09c33" stroke="#d09c33"/>
<path class="h" d="M288.3 151.8l2.5-26.8M290 150.9l2.6-26.8M291.7 150l2.6-26.9M293.5 149.5l2.5-26.6M295.2 149.1l2.6-26.3M296.9 148.4l2.6-26.5"/>
<path class="e" d="M288.3 151.8l2.5-26.8"/>
<path class="e" d="M288.3 151.8l1.7-.9 1.7-.9 1.8-.5 1.7-.4 1.7-.7"/>
<path class="e" d="M290.8 125l1.8-.9 1.7-1 1.7-.2 1.8-.1 1.7-.9"/>
<path d="M290.8 125l1.8-.9 1.7-1 2.6-7.9-1.7 1.4-1.8 1.2z" fill="#cec41e" stroke="#cec41e"/>
<path class="h" d="M290.8 125l2.6-7.2M292.6 124.1l2.6-7.5M294.3 123.1l2.6-7.9"/>
<path class="e" d="M290.8 125l2.6-7.2"/>
<path class="e" d="M290.8 125l1.8-.9 1.7-1"/>
<path class="e" d="M293.4 117.8l1.8-1.2 1.7-1.4"/>
<path d="M432.1 65.9l1.7-.2 1.8-.5 1.7-1.8 1.8-1.4 1.7 .3 1.7 .4 1.8-1.3 1.7-1.7 1.7-.3 1.8 .5 1.7-.8 1.7-1.6 1.8-.5 1.7 .6 1.7-.2 1.8-1.8 1.7-1.3 1.7 .1 1.8-.1 2.5 13.5-1.7 0-1.7-.1-1.8 1.3-1.7 1.7-1.7 .2-1.8-.8-1.7 .5-1.7 1.6-1.8 .7-1.7-.4-1.7 .4-1.8 1.8-1.7 1.3-1.7-.3-1.8-.3-1.7 1.2-1.7 1.5-1.8 .3-1.7-.2z" fill="#d0ce17" stroke="#d0ce17"/>
<path d="M425.2 72.2l1.7-.4 1.7-1.6 1.8-2.7 1.7-1.6 2.6 12.3-1.7 1.1-1.8 2.1-1.7 1-1.7-.3z" fill="#cec91b" stroke="#cec91b"/>
<path d="M418.2 78.4l1.8-.4 1.7-2 1.7-2.6 1.8-1.2 2.6 9.9-1.8 .6-1.7 1.9-1.7 1.3-1.8-.1z" fill="#cec41e" stroke="#cec41e"/>
<path d="M411.3 84.8l1.7-1.1 1.8-2.4 1.7-2.3 1.7-.6 2.6 7.4-1.7 0-1.7 1.7-1.8 1.9-1.7 .4z" fill="#cebe21" stroke="#cebe21"/>
<path d="M404.4 92.1l1.7-1.5 1.7-2.9 1.8-2.1 1.7-.8 2.6 5-1.7 0-1.8 1.5-1.7 2.2-1.7 .8z" fill="#cfb923" stroke="#cfb923"/>
<path d="M397.4 97.8l1.8-1.7 1.7-2.5 1.7-1.2 1.8-.3 2.6 2.2-1.8-.2-1.7 .7-1.7 1.9-1.8 1.3z" fill="#d2b426" stroke="#d2b426"/>
<path d="M390.5 103l1.7-2 1.8-2.1 1.7-.7 2.6-.3-1.7 .3-1.8 1.8-1.7 1.6z" fill="#d4ae28" stroke="#d4ae28"/>
<path d="M383.6 105.8l1.7-1.7 2.6-1.9-1.7 1.8z" fill="#d4ae28" stroke="#d4ae28"/>
<path d="M374.9 109.9l1.7-.9 1.8-2 2.5-1.6-1.7 2-1.7 1z" fill="#d4ae28" stroke="#d4ae28"/>
<path d="M369.7 110.6l1.7-1.3 2.6-1.6-1.7 1.3z" fill="#d4ae28" stroke="#d4ae28"/>
<path d="M361 113.3l1.8-1.4 1.7-1.1 2.6-1.3-1.8 1.2-1.7 1.7z" fill="#d4ae28" stroke="#d4ae28"/>
<path d="M352.4 113.8l1.7 0 1.7-1.2 1.8-.3 2.5-.5-1.7 .5-1.7 1.5-1.8 .4z" fill="#d2b426" stroke="#d2b426"/>
<path d="M348.9 111.7l1.7 .7 2.6 1-1.7-.1z" fill="#d2b426" stroke="#d2b426"/>
<path d="M343.7 110.7l1.7 1.6 1.8 0 1.7-.6 2.6 1.6-1.8 1.4-1.7 .9-1.7-.5z" fill="#cfb923" stroke="#cfb923"/>
<path d="M340.2 109l1.8 .1 1.7 1.6 2.6 4.4-1.8-.5-1.7 1z" fill="#cebe21" stroke="#cebe21"/>
<path d="M335 106.1l1.8 1.8 1.7 1.3 1.7-.2 2.6 6.6-1.7 1.3-1.8-.2-1.7-.7z" fill="#cec41e" stroke="#cec41e"/>
<path d="M329.8 106.1l1.8 .3 1.7-.6 1.7 .3 2.6 9.9-1.7 .6-1.8 1.5-1.7 .2z" fill="#cec91b" stroke="#cec91b"/>
<path d="M293.4 117.8l1.8-1.2 1.7-1.4 1.7 .1 1.8 .5 1.7-1 1.7-1.9 1.8-.7 1.7 .3 1.7-.6 1.8-1.9 1.7-1.1 1.7 .3 1.8-.1 1.7-1.5 1.7-1.5 1.8 .1 1.7 .5 1.7-.8 1.8-1.3 1.7 .2 1.7 1.3 2.6 12.2-1.7-.8-1.8 0-1.7 1.5-1.7 .9-1.8-.5-1.7-.1-1.7 1.5-1.8 1.6-1.7 .1-1.7-.2-1.8 1.2-1.7 1.9-1.7 .6-1.8-.5-1.7 .6-1.7 1.8-1.8 .9-1.7-.5-1.7 0-1.8 1.4-1.7 1.2z" fill="#d0ce17" stroke="#d0ce17"/>
<path class="h" d="M293.4 117.8l2.6 13.1M295.2 116.6l2.5 13.1M296.9 115.2l2.6 13.1M298.6 115.3l2.6 13M300.4 115.8l2.5 13M302.1 114.8l2.6 13.1M303.8 112.9l2.6 13.2M305.6 112.2l2.5 13.3M307.3 112.5l2.6 13.5M309 111.9l2.6 13.5M310.8 110l2.5 13.5M312.5 108.9l2.6 13.4M314.2 109.2l2.6 13.3M316 109.1l2.5 13.3M317.7 107.6l2.6 13.2M319.4 106.1l2.6 13.2M321.2 106.2l2.5 13.2M322.9 106.7l2.6 13.2M324.6 105.9l2.6 13.1M326.4 104.6l2.5 12.9M328.1 104.8l2.6 12.7M329.8 106.1l2.6 12.2M331.6 106.4l2.5 11.7M333.3 105.8l2.6 10.8M335 106.1l2.6 9.9M336.8 107.9l2.5 8.8M338.5 109.2l2.6 7.7M340.2 109l2.6 6.6M342 109.1l2.5 5.5M343.7 110.7l2.6 4.4M345.4 112.3l2.6 3.3M347.2 112.3l2.5 2.4M348.9 111.7l2.6 1.6M350.6 112.4l2.6 1M352.4 113.8l2.5 .4M354.1 113.8l2.6 0M355.8 112.6l2.6-.3M357.6 112.3l2.5-.5M361 113.3l2.6-.9M362.8 111.9l2.5-1.2M364.5 110.8l2.6-1.3M369.7 110.6l2.6-1.6M371.4 109.3l2.6-1.6M374.9 109.9l2.6-1.5M376.6 109l2.6-1.6M378.4 107l2.5-1.6M383.6 105.8l2.6-1.8M385.3 104.1l2.6-1.9M390.5 103l2.6-1.4M392.2 101l2.6-1M394 98.9l2.6-.7M395.7 98.2l2.6-.3M397.4 97.8l2.6 .2M399.2 96.1l2.6 .6M400.9 93.6l2.6 1.2M402.6 92.4l2.6 1.7M404.4 92.1l2.6 2.2M406.1 90.6l2.6 2.9M407.8 87.7l2.6 3.6M409.6 85.6l2.6 4.2M411.3 84.8l2.6 5M413 83.7l2.6 5.7M414.8 81.3l2.6 6.2M416.5 79l2.6 6.8M418.2 78.4l2.6 7.4M420 78l2.6 7.9M421.7 76l2.6 8.6M423.4 73.4l2.6 9.3M425.2 72.2l2.6 9.9M426.9 71.8l2.6 10.6M428.6 70.2l2.6 11.2M430.4 67.5l2.6 11.8M432.1 65.9l2.6 12.3M433.8 65.7l2.6 12.7M435.6 65.2l2.6 12.9M437.3 63.4l2.6 13.2M439.1 62l2.5 13.4M440.8 62.3l2.6 13.4M442.5 62.7l2.6 13.3M444.3 61.4l2.5 13.3M446 59.7l2.6 13.2M447.7 59.4l2.6 13.1M449.5 59.9l2.5 13M451.2 59.1l2.6 13.1M452.9 57.5l2.6 13.1M454.7 57l2.5 13.1M456.4 57.6l2.6 13.3M458.1 57.4l2.6 13.3M459.9 55.6l2.5 13.4M461.6 54.3l2.6 13.4M463.3 54.4l2.6 13.4M465.1 54.3l2.5 13.5"/>
<path class="e" d="M293.4 117.8l2.6 13.1M465.1 54.3l2.5 13.5"/>
<path class="e" d="M293.4 117.8l1.8-1.2 1.7-1.4 1.7 .1 1.8 .5 1.7-1 1.7-1.9 1.8-.7 1.7 .3 1.7-.6 1.8-1.9 1.7-1.1 1.7 .3 1.8-.1 1.7-1.5 1.7-1.5 1.8 .1 1.7 .5 1.7-.8 1.8-1.3 1.7 .2 1.7 1.3 1.8 .3 1.7-.6 1.7 .3 1.8 1.8 1.7 1.3 1.7-.2 1.8 .1 1.7 1.6 1.7 1.6 1.8 0 1.7-.6 1.7 .7M352.4 113.8l1.7 0 1.7-1.2 1.8-.3M361 113.3l1.8-1.4 1.7-1.1M369.7 110.6l1.7-1.3M374.9 109.9l1.7-.9 1.8-2M383.6 105.8l1.7-1.7M390.5 103l1.7-2 1.8-2.1 1.7-.7M397.4 97.8l1.8-1.7 1.7-2.5 1.7-1.2 1.8-.3 1.7-1.5 1.7-2.9 1.8-2.1 1.7-.8 1.7-1.1 1.8-2.4 1.7-2.3 1.7-.6 1.8-.4 1.7-2 1.7-2.6 1.8-1.2 1.7-.4 1.7-1.6 1.8-2.7 1.7-1.6 1.7-.2 1.8-.5 1.7-1.8 1.8-1.4 1.7 .3 1.7 .4 1.8-1.3 1.7-1.7 1.7-.3 1.8 .5 1.7-.8 1.7-1.6 1.8-.5 1.7 .6 1.7-.2 1.8-1.8 1.7-1.3 1.7 .1 1.8-.1"/>
<path class="e" d="M296 130.9l1.7-1.2 1.8-1.4 1.7 0 1.7 .5 1.8-.9 1.7-1.8 1.7-.6 1.8 .5 1.7-.6 1.7-1.9 1.8-1.2 1.7 .2 1.7-.1 1.8-1.6 1.7-1.5 1.7 .1 1.8 .5 1.7-.9 1.7-1.5 1.8 0 1.7 .8 1.7-.2 1.8-1.5 1.7-.6 1.7 .7 1.8 .2 1.7-1.3 1.7-1 1.8 .5 1.7 .5 1.7-.9 1.8-1.4 1.7 .1M354.9 114.2l1.8-.4 1.7-1.5 1.7-.5M363.6 112.4l1.7-1.7 1.8-1.2M372.3 109l1.7-1.3M377.5 108.4l1.7-1 1.7-2M386.2 104l1.7-1.8M393.1 101.6l1.7-1.6 1.8-1.8 1.7-.3M400 98l1.8-1.3 1.7-1.9 1.7-.7 1.8 .2 1.7-.8 1.7-2.2 1.8-1.5 1.7 0 1.7-.4 1.8-1.9 1.7-1.7 1.7 0 1.8 .1 1.7-1.3 1.7-1.9 1.8-.6 1.7 .3 1.7-1 1.8-2.1 1.7-1.1 1.7 .2 1.8-.3 1.7-1.5 1.7-1.2 1.8 .3 1.7 .3 1.7-1.3 1.8-1.8 1.7-.4 1.7 .4 1.8-.7 1.7-1.6 1.7-.5 1.8 .8 1.7-.2 1.7-1.7 1.8-1.3 1.7 .1 1.7 0"/>
<path d="M415.6 89.4l1.8-1.9 1.7-1.7 1.7 0 1.8 .1 1.7-1.3 1.7-1.9 1.8-.6 1.7 .3 1.7-1 1.8-2.1 1.7-1.1 1.7 .2 1.8-.3 1.7-1.5 1.7-1.2 1.8 .3 1.7 .3 1.7-1.3 1.8-1.8 1.7-.4 1.7 .4 1.8-.7 1.7-1.6 1.7-.5 1.8 .8 1.7-.2 1.7-1.7 1.8-1.3 1.7 .1 1.7 0 2.6 35.6-1.7 .1-1.8 0-1.7 .8-1.7 1-1.8 .4-1.7 .1-1.7 .7-1.8 1.2-1.7 .8-1.7 .2-1.8 .5-1.7 1.2-1.7 1-1.8 .4-1.7 .3-1.7 1-1.8 1.3-1.7 .4-1.7 .2-1.8 .7-1.7 1.1-1.7 .3-1.8-.2-1.7 .1-1.7 .8-1.8 .8-1.7 .2-1.7 .4-1.8 1.2-1.7 1.3z" fill="#cfb923" stroke="#cfb923"/>
<path d="M386.2 104l1.7-1.8 1.7-1.1 1.8 .4 1.7 .1 1.7-1.6 1.8-1.8 1.7-.3 1.7 .1 1.8-1.3 1.7-1.9 1.7-.7 1.8 .2 1.7-.8 1.7-2.2 1.8-1.5 1.7 0 1.7-.4 2.6 32.3-1.7 .3-1.8 .1-1.7 .6-1.7 1.1-1.8 .6-1.7 .1-1.7 .7-1.8 1.4-1.7 1-1.7 .2-1.8 .4-1.7 1.1-1.7 .9-1.8 0-1.7-.1-1.7 .6-1.8 1.1z" fill="#d2b426" stroke="#d2b426"/>
<path d="M370.5 110.1l1.8-1.1 1.7-1.3 1.7 .1 1.8 .6 1.7-1 1.7-2 1.8-1 1.7 .2 1.8-.6 2.5 27.8-1.7 .7-1.7 .4-1.8 1.1-1.7 1.6-1.7 1-1.8 .2-1.7 .3-1.7 1-1.8 .9z" fill="#d4ae28" stroke="#d4ae28"/>
<path d="M344.5 114.6l1.8 .5 1.7 .5 1.7-.9 1.8-1.4 1.7 .1 1.7 .8 1.8-.4 1.7-1.5 1.7-.5 1.8 .7 1.7-.1 1.7-1.7 1.8-1.2 1.7 .3 1.7 .3 2.6 28.9-1.7 .2-1.7 .2-1.8 .9-1.7 1-1.7 .1-1.8-.3-1.7 .2-1.7 .9-1.8 .5-1.7 .2-1.7 .6-1.8 1.4-1.7 1.1-1.7 .2-1.8 .3z" fill="#d2b426" stroke="#d2b426"/>
<path d="M296 130.9l1.7-1.2 1.8-1.4 1.7 0 1.7 .5 1.8-.9 1.7-1.8 1.7-.6 1.8 .5 1.7-.6 1.7-1.9 1.8-1.2 1.7 .2 1.7-.1 1.8-1.6 1.7-1.5 1.7 .1 1.8 .5 1.7-.9 1.7-1.5 1.8 0 1.7 .8 1.7-.2 1.8-1.5 1.7-.6 1.7 .7 1.8 .2 1.7-1.3 1.7-1 2.6 31.9-1.7 1.1-1.7 1.2-1.8 .7-1.7 .5-1.7 1.2-1.8 1.5-1.7 .8-1.7 0-1.8 .3-1.7 1-1.7 .7-1.8 0-1.7 .2-1.8 1-1.7 1.1-1.7 .3-1.8 .2-1.7 .9-1.7 1.1-1.8 .4-1.7-.1-1.7 .4-1.8 1-1.7 .6-1.7 0-1.8 .4-1.7 1.1-1.7 1z" fill="#cfb923" stroke="#cfb923"/>
<path class="h" d="M296 130.9l2.6 34.2M297.7 129.7l2.6 34.4M299.5 128.3l2.5 34.7M301.2 128.3l2.6 34.3M302.9 128.8l2.6 33.8M304.7 127.9l2.5 34.1M306.4 126.1l2.6 34.9M308.1 125.5l2.6 35.1M309.9 126l2.5 34.7M311.6 125.4l2.6 34.9M313.3 123.5l2.6 35.7M315.1 122.3l2.5 36M316.8 122.5l2.6 35.6M318.5 122.4l2.6 35.4M320.3 120.8l2.5 35.9M322 119.3l2.6 36.4M323.7 119.4l2.6 36.1M325.5 119.9l2.6 35.6M327.2 119l2.6 35.8M328.9 117.5l2.6 36.3M330.7 117.5l2.6 36M332.4 118.3l2.6 35.2M334.1 118.1l2.6 34.6M335.9 116.6l2.6 34.6M337.6 116l2.6 34M339.3 116.7l2.6 32.8M341.1 116.9l2.6 31.9M342.8 115.6l2.6 32M344.5 114.6l2.6 31.9M346.3 115.1l2.6 31.1M348 115.6l2.6 30.4M349.7 114.7l2.6 30.2M351.5 113.3l2.6 30.2M353.2 113.4l2.6 29.5M354.9 114.2l2.6 28.5M356.7 113.8l2.6 28.4M358.4 112.3l2.6 29M360.1 111.8l2.6 29.3M361.9 112.5l2.6 28.9M363.6 112.4l2.6 28.9M365.3 110.7l2.6 29.6M367.1 109.5l2.6 29.9M368.8 109.8l2.6 29.4M370.5 110.1l2.6 28.9M372.3 109l2.6 29.1M374 107.7l2.6 29.4M375.7 107.8l2.6 29M377.5 108.4l2.6 28.2M379.2 107.4l2.6 28.2M380.9 105.4l2.6 28.6M382.7 104.4l2.6 28.5M384.4 104.6l2.6 27.9M386.2 104l2.5 27.8M387.9 102.2l2.6 28.5M389.6 101.1l2.6 29M391.4 101.5l2.5 28.7M393.1 101.6l2.6 28.6M394.8 100l2.6 29.3M396.6 98.2l2.5 30M398.3 97.9l2.6 29.9M400 98l2.6 29.6M401.8 96.7l2.5 29.9M403.5 94.8l2.6 30.4M405.2 94.1l2.6 30.4M407 94.3l2.5 30.1M408.7 93.5l2.6 30.3M410.4 91.3l2.6 31.4M412.2 89.8l2.5 32.3M413.9 89.8l2.6 32.2M415.6 89.4l2.6 32.3M417.4 87.5l2.5 32.9M419.1 85.8l2.6 33.4M420.8 85.8l2.6 33M422.6 85.9l2.5 32.7M424.3 84.6l2.6 33.2M426 82.7l2.6 34.3M427.8 82.1l2.5 34.8M429.5 82.4l2.6 34.7M431.2 81.4l2.6 35.4M433 79.3l2.5 36.4M434.7 78.2l2.6 36.8M436.4 78.4l2.6 36.4M438.2 78.1l2.5 36.3M439.9 76.6l2.6 36.5M441.6 75.4l2.6 36.7M443.4 75.7l2.5 36.1M445.1 76l2.6 35.4M446.8 74.7l2.6 35.7M448.6 72.9l2.5 36.3M450.3 72.5l2.6 36.2M452 72.9l2.6 35.6M453.8 72.2l2.5 35.5M455.5 70.6l2.6 35.9M457.2 70.1l2.6 35.7M459 70.9l2.5 34.8M460.7 70.7l2.6 34.6M462.4 69l2.6 35.3M464.2 67.7l2.5 35.8M465.9 67.8l2.6 35.7M467.6 67.8l2.6 35.6"/>
<path class="e" d="M296 130.9l2.6 34.2M467.6 67.8l2.6 35.6"/>
<path class="e" d="M296 130.9l1.7-1.2 1.8-1.4 1.7 0 1.7 .5 1.8-.9 1.7-1.8 1.7-.6 1.8 .5 1.7-.6 1.7-1.9 1.8-1.2 1.7 .2 1.7-.1 1.8-1.6 1.7-1.5 1.7 .1 1.8 .5 1.7-.9 1.7-1.5 1.8 0 1.7 .8 1.7-.2 1.8-1.5 1.7-.6 1.7 .7 1.8 .2 1.7-1.3 1.7-1 1.8 .5 1.7 .5 1.7-.9 1.8-1.4 1.7 .1 1.7 .8 1.8-.4 1.7-1.5 1.7-.5 1.8 .7 1.7-.1 1.7-1.7 1.8-1.2 1.7 .3 1.7 .3 1.8-1.1 1.7-1.3 1.7 .1 1.8 .6 1.7-1 1.7-2 1.8-1 1.7 .2 1.8-.6 1.7-1.8 1.7-1.1 1.8 .4 1.7 .1 1.7-1.6 1.8-1.8 1.7-.3 1.7 .1 1.8-1.3 1.7-1.9 1.7-.7 1.8 .2 1.7-.8 1.7-2.2 1.8-1.5 1.7 0 1.7-.4 1.8-1.9 1.7-1.7 1.7 0 1.8 .1 1.7-1.3 1.7-1.9 1.8-.6 1.7 .3 1.7-1 1.8-2.1 1.7-1.1 1.7 .2 1.8-.3 1.7-1.5 1.7-1.2 1.8 .3 1.7 .3 1.7-1.3 1.8-1.8 1.7-.4 1.7 .4 1.8-.7 1.7-1.6 1.7-.5 1.8 .8 1.7-.2 1.7-1.7 1.8-1.3 1.7 .1 1.7 0"/>
<path class="e" d="M298.6 165.1l1.7-1 1.7-1.1 1.8-.4 1.7 0 1.7-.6 1.8-1 1.7-.4 1.7 .1 1.8-.4 1.7-1.1 1.7-.9 1.8-.2 1.7-.3 1.7-1.1 1.8-1 1.7-.2 1.8 0 1.7-.7 1.7-1 1.8-.3 1.7 0 1.7-.8 1.8-1.5 1.7-1.2 1.7-.5 1.8-.7 1.7-1.2 1.7-1.1 1.8-.3 1.7-.2 1.7-1.1 1.8-1.4 1.7-.6 1.7-.2 1.8-.5 1.7-.9 1.7-.2 1.8 .3 1.7-.1 1.7-1 1.8-.9 1.7-.2 1.7-.2 1.8-.9 1.7-1 1.7-.3 1.8-.2 1.7-1 1.7-1.6 1.8-1.1 1.7-.4 1.7-.7 1.8-1.1 1.7-.6 1.7 .1 1.8 0 1.7-.9 1.7-1.1 1.8-.4 1.7-.2 1.7-1 1.8-1.4 1.7-.7 1.7-.1 1.8-.6 1.7-1.1 1.7-.6 1.8-.1 1.7-.3 1.7-1.3 1.8-1.2 1.7-.4 1.7-.2 1.8-.8 1.7-.8 1.7-.1 1.8 .2 1.7-.3 1.7-1.1 1.8-.7 1.7-.2 1.7-.4 1.8-1.3 1.7-1 1.7-.3 1.8-.4 1.7-1 1.7-1.2 1.8-.5 1.7-.2 1.7-.8 1.8-1.2 1.7-.7 1.7-.1 1.8-.4 1.7-1 1.7-.8 1.8 0 1.7-.1"/>
<path d="M468.5 103.5l1.7-.1 2.6 50.4-1.7-.3z" fill="#b0a121" stroke="#b0a121"/>
<path d="M449.4 110.4l1.7-1.2 1.8-.5 1.7-.2 1.7-.8 1.8-1.2 1.7-.7 1.7-.1 1.8-.4 1.7-1 1.7-.8 1.8 0 2.6 50-1.8-.3-1.7 .2-1.7 .7-1.8 .7-1.7 .8-1.7 1.2-1.8 1.5-1.7 .9-1.7 .4-1.8 .4-1.7 .9z" fill="#b99f22" stroke="#b99f22"/>
<path d="M432.1 117.1l1.7-.3 1.7-1.1 1.8-.7 1.7-.2 1.7-.4 1.8-1.3 1.7-1 1.7-.3 1.8-.4 1.7-1 2.6 50.5-1.7 .9-1.8 .8-1.7 1-1.7 1.4-1.8 1.4-1.7 .8-1.7 .5-1.8 .5-1.7 .6-1.7 0z" fill="#b0a121" stroke="#b0a121"/>
<path d="M381.8 135.6l1.7-1.6 1.8-1.1 1.7-.4 1.7-.7 1.8-1.1 1.7-.6 1.7 .1 1.8 0 1.7-.9 1.7-1.1 1.8-.4 1.7-.2 1.7-1 1.8-1.4 1.7-.7 1.7-.1 1.8-.6 1.7-1.1 1.7-.6 1.8-.1 1.7-.3 1.7-1.3 1.8-1.2 1.7-.4 1.7-.2 1.8-.8 1.7-.8 1.7-.1 1.8 .2 2.6 51.7-1.8-.3-1.7-.2-1.7 .5-1.8 .7-1.7 .8-1.7 1-1.8 1.5-1.7 1.3-1.8 .5-1.7 0-1.7 .3-1.8 .6-1.7 .7-1.7 .6-1.8 1.2-1.7 1.5-1.7 1.2-1.8 .6-1.7 .5-1.7 .8-1.8 .5-1.7 0-1.7-.2-1.8 .3-1.7 .6-1.7 .7-1.8 .7-1.7 1.2-1.7 1.5z" fill="#b99f22" stroke="#b99f22"/>
<path d="M374.9 138.1l1.7-1 1.7-.3 1.8-.2 1.7-1 2.6 52.3-1.8 1.3-1.7 .7-1.7 .8-1.8 1.1z" fill="#b0a121" stroke="#b0a121"/>
<path d="M338.5 151.2l1.7-1.2 1.7-.5 1.8-.7 1.7-1.2 1.7-1.1 1.8-.3 1.7-.2 1.7-1.1 1.8-1.4 1.7-.6 1.7-.2 1.8-.5 1.7-.9 1.7-.2 1.8 .3 1.7-.1 1.7-1 1.8-.9 1.7-.2 1.7-.2 1.8-.9 2.5 53.7-1.7 .9-1.7 .4-1.8 .3-1.7 .5-1.7 .4-1.8-.3-1.7-.5-1.7-.3-1.8 .3-1.7 .4-1.7 .4-1.8 .9-1.7 1.2-1.7 .9-1.8 .2-1.7 0-1.7 .5-1.8 .7-1.7 .9-1.7 1-1.8 1.5z" fill="#b99f22" stroke="#b99f22"/>
<path d="M331.5 153.8l1.8-.3 1.7 0 1.7-.8 1.8-1.5 2.5 50.9-1.7 1.6-1.7 1-1.8 .4-1.7 .4z" fill="#b0a121" stroke="#b0a121"/>
<path d="M298.6 165.1l1.7-1 1.7-1.1 1.8-.4 1.7 0 1.7-.6 1.8-1 1.7-.4 1.7 .1 1.8-.4 1.7-1.1 1.7-.9 1.8-.2 1.7-.3 1.7-1.1 1.8-1 1.7-.2 1.8 0 1.7-.7 1.7-1 2.6 51.7-1.7 .6-1.8 .5-1.7 .1-1.7 .4-1.8 .7-1.7 .8-1.7 .3-1.8 .1-1.7 .4-1.7 .5-1.8 0-1.7-.3-1.7 .1-1.8 .4-1.7 .4-1.7 .3-1.8 .6-1.7 1.1-1.7 1.1z" fill="#b99f22" stroke="#b99f22"/>
<path class="h" d="M298.6 165.1l2.6 48.5M300.3 164.1l2.6 48.4M302 163l2.6 48.4M303.8 162.6l2.6 48.2M305.5 162.6l2.6 47.9M307.2 162l2.6 48.1M309 161l2.6 48.7M310.7 160.6l2.6 49M312.4 160.7l2.6 49.2M314.2 160.3l2.6 49.6M315.9 159.2l2.6 50.2M317.6 158.3l2.6 50.7M319.4 158.1l2.6 50.8M321.1 157.8l2.6 50.8M322.8 156.7l2.6 51.1M324.6 155.7l2.6 51.4M326.3 155.5l2.6 51.2M328.1 155.5l2.5 51.1M329.8 154.8l2.6 51.3M331.5 153.8l2.6 51.7M333.3 153.5l2.5 51.6M335 153.5l2.6 51.2M336.7 152.7l2.6 51M338.5 151.2l2.5 50.9M340.2 150l2.6 50.6M341.9 149.5l2.6 50.1M343.7 148.8l2.5 49.9M345.4 147.6l2.6 50.4M347.1 146.5l2.6 51M348.9 146.2l2.5 51.3M350.6 146l2.6 51.3M352.3 144.9l2.6 51.5M354.1 143.5l2.5 51.7M355.8 142.9l2.6 51.4M357.5 142.7l2.6 51.2M359.3 142.2l2.5 51.3M361 141.3l2.6 51.9M362.7 141.1l2.6 52.4M364.5 141.4l2.5 52.6M366.2 141.3l2.6 53M367.9 140.3l2.6 53.6M369.7 139.4l2.5 54M371.4 139.2l2.6 53.9M373.1 139l2.6 53.7M374.9 138.1l2.5 53.7M376.6 137.1l2.6 53.6M378.3 136.8l2.6 53.1M380.1 136.6l2.5 52.6M381.8 135.6l2.6 52.3M383.5 134l2.6 52.4M385.3 132.9l2.5 52.3M387 132.5l2.6 52M388.7 131.8l2.6 52M390.5 130.7l2.5 52.5M392.2 130.1l2.6 52.8M393.9 130.2l2.6 52.9M395.7 130.2l2.5 52.9M397.4 129.3l2.6 53.3M399.1 128.2l2.6 53.6M400.9 127.8l2.5 53.5M402.6 127.6l2.6 53.1M404.3 126.6l2.6 52.9M406.1 125.2l2.5 52.8M407.8 124.5l2.6 52.3M409.5 124.4l2.6 51.8M411.3 123.8l2.5 51.7M413 122.7l2.6 52.2M414.7 122.1l2.6 52.5M416.5 122l2.5 52.6M418.2 121.7l2.6 52.4M419.9 120.4l2.6 52.4M421.7 119.2l2.6 52.1M423.4 118.8l2.6 51.5M425.1 118.6l2.6 50.9M426.9 117.8l2.6 51M428.6 117l2.6 51.3M430.3 116.9l2.6 51.6M432.1 117.1l2.6 51.7M433.8 116.8l2.6 52M435.5 115.7l2.6 52.5M437.3 115l2.6 52.7M439 114.8l2.6 52.4M440.7 114.4l2.6 52M442.5 113.1l2.6 51.9M444.2 112.1l2.6 51.5M445.9 111.8l2.6 50.8M447.7 111.4l2.6 50.4M449.4 110.4l2.6 50.5M451.1 109.2l2.6 50.8M452.9 108.7l2.6 50.9M454.6 108.5l2.6 50.7M456.3 107.7l2.6 50.6M458.1 106.5l2.6 50.3M459.8 105.8l2.6 49.8M461.5 105.7l2.6 49.1M463.3 105.3l2.6 48.8M465 104.3l2.6 49.1M466.7 103.5l2.6 49.7M468.5 103.5l2.6 50M470.2 103.4l2.6 50.4"/>
<path class="e" d="M298.6 165.1l2.6 48.5M470.2 103.4l2.6 50.4"/>
<path class="e" d="M298.6 165.1l1.7-1 1.7-1.1 1.8-.4 1.7 0 1.7-.6 1.8-1 1.7-.4 1.7 .1 1.8-.4 1.7-1.1 1.7-.9 1.8-.2 1.7-.3 1.7-1.1 1.8-1 1.7-.2 1.8 0 1.7-.7 1.7-1 1.8-.3 1.7 0 1.7-.8 1.8-1.5 1.7-1.2 1.7-.5 1.8-.7 1.7-1.2 1.7-1.1 1.8-.3 1.7-.2 1.7-1.1 1.8-1.4 1.7-.6 1.7-.2 1.8-.5 1.7-.9 1.7-.2 1.8 .3 1.7-.1 1.7-1 1.8-.9 1.7-.2 1.7-.2 1.8-.9 1.7-1 1.7-.3 1.8-.2 1.7-1 1.7-1.6 1.8-1.1 1.7-.4 1.7-.7 1.8-1.1 1.7-.6 1.7 .1 1.8 0 1.7-.9 1.7-1.1 1.8-.4 1.7-.2 1.7-1 1.8-1.4 1.7-.7 1.7-.1 1.8-.6 1.7-1.1 1.7-.6 1.8-.1 1.7-.3 1.7-1.3 1.8-1.2 1.7-.4 1.7-.2 1.8-.8 1.7-.8 1.7-.1 1.8 .2 1.7-.3 1.7-1.1 1.8-.7 1.7-.2 1.7-.4 1.8-1.3 1.7-1 1.7-.3 1.8-.4 1.7-1 1.7-1.2 1.8-.5 1.7-.2 1.7-.8 1.8-1.2 1.7-.7 1.7-.1 1.8-.4 1.7-1 1.7-.8 1.8 0 1.7-.1"/>
<path class="e" d="M301.2 213.6l1.7-1.1 1.7-1.1 1.8-.6 1.7-.3 1.7-.4 1.8-.4 1.7-.1 1.7 .3 1.8 0 1.7-.5 1.7-.4 1.8-.1 1.7-.3 1.7-.8 1.8-.7 1.7-.4 1.7-.1 1.8-.5 1.7-.6 1.7-.4 1.8-.4 1.7-1 1.7-1.6 1.8-1.5 1.7-1 1.7-.9 1.8-.7 1.7-.5 1.7 0 1.8-.2 1.7-.9 1.7-1.2 1.8-.9 1.7-.4 1.7-.4 1.8-.3 1.7 .3 1.7 .5 1.8 .3 1.7-.4 1.7-.5 1.8-.3 1.7-.4 1.7-.9 1.8-1.1 1.7-.8 1.7-.7 1.8-1.3 1.7-1.5 1.7-1.2 1.8-.7 1.7-.7 1.7-.6 1.8-.3 1.7 .2 1.7 0 1.8-.5 1.7-.8 1.7-.5 1.8-.6 1.7-1.2 1.7-1.5 1.8-1.2 1.7-.6 1.7-.7 1.8-.6 1.7-.3 1.7 0 1.8-.5 1.7-1.3 1.8-1.5 1.7-1 1.7-.8 1.8-.7 1.7-.5 1.7 .2 1.8 .3 1.7 0 1.7-.6 1.8-.5 1.7-.5 1.7-.8 1.8-1.4 1.7-1.4 1.7-1 1.8-.8 1.7-.9 1.7-.9 1.8-.4 1.7-.4 1.7-.9 1.8-1.5 1.7-1.2 1.7-.8 1.8-.7 1.7-.7 1.7-.2 1.8 .3 1.7 .3"/>
<path d="M448.5 162.6l1.8-.8 1.7-.9 1.7-.9 1.8-.4 1.7-.4 1.7-.9 1.8-1.5 1.7-1.2 1.7-.8 1.8-.7 1.7-.7 1.7-.2 1.8 .3 1.7 .3 2.6 49.3-1.8-.9-1.7-.9-1.7-.1-1.8 .6-1.7 .9-1.7 1.3-1.8 1.8-1.7 1.9-1.7 1.2-1.8 .5-1.7 .3-1.7 .7-1.8 1-1.7 1.1z" fill="#2aa686" stroke="#2aa686"/>
<path d="M434.7 168.8l1.7 0 1.7-.6 1.8-.5 1.7-.5 1.7-.8 1.8-1.4 1.7-1.4 1.7-1 2.6 49.9-1.7 1.4-1.8 1.9-1.7 1.8-1.7 1.2-1.8 .6-1.7 .6-1.7 .5-1.8-.1z" fill="#25a48c" stroke="#25a48c"/>
<path d="M424.3 171.3l1.7-1 1.7-.8 1.8-.7 1.7-.5 1.7 .2 1.8 .3 2.5 51.6-1.7-.4-1.7 0-1.8 .5-1.7 1.1-1.7 1.3-1.8 1.7z" fill="#2aa686" stroke="#2aa686"/>
<path d="M415.6 174.9l1.7-.3 1.7 0 1.8-.5 1.7-1.3 1.8-1.5 2.5 53.3-1.7 2.1-1.7 1.6-1.8 .7-1.7 0-1.7 .2z" fill="#25a48c" stroke="#25a48c"/>
<path d="M412.1 176.2l1.7-.7 1.8-.6 2.6 54.3-1.8 .5-1.7 .9z" fill="#2aa686" stroke="#2aa686"/>
<path d="M394.8 182.9l1.7 .2 1.7 0 1.8-.5 1.7-.8 1.7-.5 1.8-.6 1.7-1.2 1.7-1.5 1.8-1.2 1.7-.6 2.6 54.4-1.7 1.2-1.8 1.8-1.7 2-1.7 1.6-1.8 .8-1.7 .6-1.7 .6-1.8 .4-1.7-.1-1.7-.2z" fill="#25a48c" stroke="#25a48c"/>
<path d="M389.6 184.5l1.7-.7 1.7-.6 1.8-.3 2.6 56.4-1.8 .3-1.7 .6-1.7 .5z" fill="#2aa686" stroke="#2aa686"/>
<path d="M367 194l1.8 .3 1.7-.4 1.7-.5 1.8-.3 1.7-.4 1.7-.9 1.8-1.1 1.7-.8 1.7-.7 1.8-1.3 1.7-1.5 1.7-1.2 1.8-.7 2.6 56.2-1.8 .7-1.7 1.1-1.7 1.6-1.8 1.4-1.7 1.2-1.7 1.2-1.8 1.4-1.7 1.1-1.7 .4-1.8 0-1.7 .2-1.7-.1-1.8-.7z" fill="#25a48c" stroke="#25a48c"/>
<path d="M341 202.1l1.8-1.5 1.7-1 1.7-.9 1.8-.7 1.7-.5 1.7 0 1.8-.2 1.7-.9 1.7-1.2 1.8-.9 1.7-.4 1.7-.4 1.8-.3 1.7 .3 1.7 .5 2.6 56.2-1.7-.9-1.8-.6-1.7 0-1.7 .1-1.8 .4-1.7 .7-1.7 .9-1.8 .4-1.7-.4-1.7-.7-1.8-.2-1.7 .3-1.7 .7-1.8 1.2-1.7 1.7z" fill="#2aa686" stroke="#2aa686"/>
<path d="M332.4 206.1l1.7-.6 1.7-.4 1.8-.4 1.7-1 1.7-1.6 2.6 51.7-1.7 1.8-1.8 1-1.7 .2-1.7 .1-1.8 .3z" fill="#25a48c" stroke="#25a48c"/>
<path d="M313.3 209.6l1.7 .3 1.8 0 1.7-.5 1.7-.4 1.8-.1 1.7-.3 1.7-.8 1.8-.7 1.7-.4 1.7-.1 1.8-.5 2.5 51.1-1.7 .3-1.7 .2-1.8 .3-1.7 .8-1.7 .7-1.8 .1-1.7-.2-1.7 0-1.8 0-1.7-.4-1.7-.7z" fill="#2aa686" stroke="#2aa686"/>
<path d="M301.2 213.6l1.7-1.1 1.7-1.1 1.8-.6 1.7-.3 1.7-.4 1.8-.4 1.7-.1 2.6 48.7-1.8-.3-1.7 .1-1.7 .2-1.8 .3-1.7 .6-1.7 1.1-1.8 1.1z" fill="#2ea87f" stroke="#2ea87f"/>
<path class="h" d="M301.2 213.6l2.5 47.8M302.9 212.5l2.6 47.8M304.6 211.4l2.6 47.8M306.4 210.8l2.5 47.8M308.1 210.5l2.6 47.8M309.8 210.1l2.6 48M311.6 209.7l2.5 48.3M313.3 209.6l2.6 48.7M315 209.9l2.6 49.1M316.8 209.9l2.5 49.5M318.5 209.4l2.6 50M320.2 209l2.6 50.4M322 208.9l2.5 50.7M323.7 208.6l2.6 50.9M325.4 207.8l2.6 51M327.2 207.1l2.5 50.9M328.9 206.7l2.6 51M330.6 206.6l2.6 50.9M332.4 206.1l2.5 51.1M334.1 205.5l2.6 51.4M335.8 205.1l2.6 51.7M337.6 204.7l2.5 51.9M339.3 203.7l2.6 51.9M341 202.1l2.6 51.7M342.8 200.6l2.5 51.5M344.5 199.6l2.6 51.3M346.2 198.7l2.6 51.5M348 198l2.5 51.9M349.7 197.5l2.6 52.6M351.4 197.5l2.6 53.3M353.2 197.3l2.5 53.9M354.9 196.4l2.6 54.4M356.6 195.2l2.6 54.7M358.4 194.3l2.5 54.9M360.1 193.9l2.6 54.9M361.8 193.5l2.6 55.2M363.6 193.2l2.5 55.5M365.3 193.5l2.6 55.8M367 194l2.6 56.2M368.8 194.3l2.6 56.6M370.5 193.9l2.6 57.1M372.2 193.4l2.6 57.4M374 193.1l2.6 57.7M375.7 192.7l2.6 57.7M377.4 191.8l2.6 57.5M379.2 190.7l2.6 57.2M380.9 189.9l2.6 56.8M382.6 189.2l2.6 56.3M384.4 187.9l2.6 56.2M386.1 186.4l2.6 56.1M387.8 185.2l2.6 56.2M389.6 184.5l2.6 56.2M391.3 183.8l2.6 56.4M393 183.2l2.6 56.4M394.8 182.9l2.6 56.4M396.5 183.1l2.6 56.4M398.2 183.1l2.6 56.5M400 182.6l2.6 56.6M401.7 181.8l2.6 56.8M403.4 181.3l2.6 56.7M405.2 180.7l2.6 56.5M406.9 179.5l2.6 56.1M408.6 178l2.6 55.6M410.4 176.8l2.6 55M412.1 176.2l2.6 54.4M413.8 175.5l2.6 54.2M415.6 174.9l2.6 54.3M417.3 174.6l2.6 54.4M419 174.6l2.6 54.4M420.8 174.1l2.6 54.2M422.5 172.8l2.6 53.9M424.3 171.3l2.5 53.3M426 170.3l2.6 52.6M427.7 169.5l2.6 52.1M429.5 168.8l2.5 51.7M431.2 168.3l2.6 51.7M432.9 168.5l2.6 51.5M434.7 168.8l2.5 51.6M436.4 168.8l2.6 51.7M438.1 168.2l2.6 51.8M439.9 167.7l2.5 51.7M441.6 167.2l2.6 51.6M443.3 166.4l2.6 51.2M445.1 165l2.5 50.8M446.8 163.6l2.6 50.3M448.5 162.6l2.6 49.9M450.3 161.8l2.5 49.6M452 160.9l2.6 49.5M453.7 160l2.6 49.7M455.5 159.6l2.5 49.8M457.2 159.2l2.6 49.7M458.9 158.3l2.6 49.4M460.7 156.8l2.5 49M462.4 155.6l2.6 48.4M464.1 154.8l2.6 47.9M465.9 154.1l2.5 47.7M467.6 153.4l2.6 47.8M469.3 153.2l2.6 48.1M471.1 153.5l2.5 48.7M472.8 153.8l2.6 49.3"/>
<path class="e" d="M301.2 213.6l2.5 47.8M472.8 153.8l2.6 49.3"/>
<path class="e" d="M301.2 213.6l1.7-1.1 1.7-1.1 1.8-.6 1.7-.3 1.7-.4 1.8-.4 1.7-.1 1.7 .3 1.8 0 1.7-.5 1.7-.4 1.8-.1 1.7-.3 1.7-.8 1.8-.7 1.7-.4 1.7-.1 1.8-.5 1.7-.6 1.7-.4 1.8-.4 1.7-1 1.7-1.6 1.8-1.5 1.7-1 1.7-.9 1.8-.7 1.7-.5 1.7 0 1.8-.2 1.7-.9 1.7-1.2 1.8-.9 1.7-.4 1.7-.4 1.8-.3 1.7 .3 1.7 .5 1.8 .3 1.7-.4 1.7-.5 1.8-.3 1.7-.4 1.7-.9 1.8-1.1 1.7-.8 1.7-.7 1.8-1.3 1.7-1.5 1.7-1.2 1.8-.7 1.7-.7 1.7-.6 1.8-.3 1.7 .2 1.7 0 1.8-.5 1.7-.8 1.7-.5 1.8-.6 1.7-1.2 1.7-1.5 1.8-1.2 1.7-.6 1.7-.7 1.8-.6 1.7-.3 1.7 0 1.8-.5 1.7-1.3 1.8-1.5 1.7-1 1.7-.8 1.8-.7 1.7-.5 1.7 .2 1.8 .3 1.7 0 1.7-.6 1.8-.5 1.7-.5 1.7-.8 1.8-1.4 1.7-1.4 1.7-1 1.8-.8 1.7-.9 1.7-.9 1.8-.4 1.7-.4 1.7-.9 1.8-1.5 1.7-1.2 1.7-.8 1.8-.7 1.7-.7 1.7-.2 1.8 .3 1.7 .3"/>
<path class="e" d="M303.7 261.4l1.8-1.1 1.7-1.1 1.7-.6 1.8-.3 1.7-.2 1.7-.1 1.8 .3 1.7 .7 1.7 .4 1.8 0 1.7 0 1.7 .2 1.8-.1 1.7-.7 1.7-.8 1.8-.3 1.7-.2 1.7-.3 1.8-.3 1.7-.1 1.7-.2 1.8-1 1.7-1.8 1.7-1.7 1.8-1.2 1.7-.7 1.7-.3 1.8 .2 1.7 .7 1.7 .4 1.8-.4 1.7-.9 1.7-.7 1.8-.4 1.7-.1 1.7 0 1.8 .6 1.7 .9 1.8 .7 1.7 .1 1.7-.2 1.8 0 1.7-.4 1.7-1.1 1.8-1.4 1.7-1.2 1.7-1.2 1.8-1.4 1.7-1.6 1.7-1.1 1.8-.7 1.7-.5 1.7-.6 1.8-.3 1.7 .2 1.7 .1 1.8-.4 1.7-.6 1.7-.6 1.8-.8 1.7-1.6 1.7-2 1.8-1.8 1.7-1.2 1.7-.9 1.8-.5 1.7-.2 1.7 0 1.8-.7 1.7-1.6 1.7-2.1 1.8-1.7 1.7-1.3 1.7-1.1 1.8-.5 1.7 0 1.7 .4 1.8 .1 1.7-.5 1.7-.6 1.8-.6 1.7-1.2 1.7-1.8 1.8-1.9 1.7-1.4 1.7-1.1 1.8-1 1.7-.7 1.7-.3 1.8-.5 1.7-1.2 1.7-1.9 1.8-1.8 1.7-1.3 1.7-.9 1.8-.6 1.7 .1 1.7 .9 1.8 .9"/>
<path d="M321.1 259.4l1.7 0 1.7 .2 1.8-.1 1.7-.7 1.7-.8 1.8-.3 1.7-.2 2.6 34.8-1.7 .3-1.8 .6-1.7 1-1.7 .9-1.8 0-1.7-.4-1.7-.4z" fill="#217ec5" stroke="#217ec5"/>
<path d="M314.1 258l1.8 .3 1.7 .7 1.7 .4 1.8 0 2.6 34.9-1.8-.4-1.7-.7-1.7-.9-1.8-.6z" fill="#1f82c2" stroke="#1f82c2"/>
<path d="M303.7 261.4l1.8-1.1 1.7-1.1 1.7-.6 1.8-.3 1.7-.2 1.7-.1 2.6 33.7-1.7-.1-1.7 0-1.8 0-1.7 .3-1.8 .7-1.7 .9z" fill="#1e86c0" stroke="#1e86c0"/>
<path class="h" d="M303.7 261.4l2.6 32.1M305.5 260.3l2.5 32.3M307.2 259.2l2.6 32.7M308.9 258.6l2.6 33M310.7 258.3l2.6 33.3M312.4 258.1l2.6 33.5M314.1 258l2.6 33.7M315.9 258.3l2.6 34M317.6 259l2.6 34.2M319.3 259.4l2.6 34.5M321.1 259.4l2.6 34.9M322.8 259.4l2.6 35.3M324.5 259.6l2.6 35.5M326.3 259.5l2.6 35.6M328 258.8l2.6 35.4M329.7 258l2.6 35.2M331.5 257.7l2.6 34.9M333.2 257.5l2.6 34.8"/>
<path class="e" d="M303.7 261.4l2.6 32.1"/>
<path class="e" d="M303.7 261.4l1.8-1.1 1.7-1.1 1.7-.6 1.8-.3 1.7-.2 1.7-.1 1.8 .3 1.7 .7 1.7 .4 1.8 0 1.7 0 1.7 .2 1.8-.1 1.7-.7 1.7-.8 1.8-.3 1.7-.2"/>
<path class="e" d="M306.3 293.5l1.7-.9 1.8-.7 1.7-.3 1.8 0 1.7 0 1.7 .1 1.8 .6 1.7 .9 1.7 .7 1.8 .4 1.7 .4 1.7 .4 1.8 0 1.7-.9 1.7-1 1.8-.6 1.7-.3"/>
<path d="M315 291.6l1.7 .1 1.8 .6 1.7 .9 2.6 13.7-1.8-1-1.7-.6-1.7-.2z" fill="#3858d5" stroke="#3858d5"/>
<path d="M306.3 293.5l1.7-.9 1.8-.7 1.7-.3 1.8 0 1.7 0 2.6 13.5-1.8-.3-1.7-.5-1.7-.3-1.8 .1-1.7 .1z" fill="#345dd6" stroke="#345dd6"/>
<path class="h" d="M306.3 293.5l2.6 10.7M308 292.6l2.6 11.5M309.8 291.9l2.6 12.1M311.5 291.6l2.6 12.7M313.3 291.6l2.5 13.2M315 291.6l2.6 13.5M316.7 291.7l2.6 13.6M318.5 292.3l2.5 13.6M320.2 293.2l2.6 13.7"/>
<path class="e" d="M306.3 293.5l2.6 10.7"/>
<path class="e" d="M306.3 293.5l1.7-.9 1.8-.7 1.7-.3 1.8 0 1.7 0 1.7 .1 1.8 .6 1.7 .9"/>
<path class="e" d="M308.9 304.2l1.7-.1 1.8-.1 1.7 .3 1.7 .5 1.8 .3 1.7 .2 1.7 .6 1.8 1"/>
<path d="M393.8 297.7l1.8-.1 2.6 .9-1.8-.4z" fill="#3a2eb3" stroke="#3a2eb3"/>
<path d="M380 304.8l1.7 .6 1.7-.1 2.6-1.2-1.7-.1-1.7-.7z" fill="#392aaa" stroke="#392aaa"/>
<path d="M374.8 304l1.7 .2 1.7 .2 1.8 .4 2.6-1.5-1.8-.5-1.7 0-1.7 .4z" fill="#3a2eb3" stroke="#3a2eb3"/>
<path d="M364.4 304.4l1.7 .5 2.6 1.2-1.7-1.1z" fill="#3b32bb" stroke="#3b32bb"/>
<path d="M359.2 302l1.7 1.2 1.7 .7 1.8 .5 2.6 .6-1.8-1-1.7-1-1.7-1.2z" fill="#3c37c1" stroke="#3c37c1"/>
<path d="M357.4 301l1.8 1 2.6-.2-1.8-.6z" fill="#3c3cc6" stroke="#3c3cc6"/>
<path d="M343.6 307.6l1.7 1 2.6 1-1.8-1.4z" fill="#3c37c1" stroke="#3c37c1"/>
<path d="M340.1 305.5l1.7 .9 1.8 1.2 2.5 .6-1.7-1.8-1.7-1.3z" fill="#3c3cc6" stroke="#3c3cc6"/>
<path d="M338.4 305.2l1.7 .3 2.6-.4-1.8-.5z" fill="#3c40ca" stroke="#3c40ca"/>
<path d="M324.5 307.8l1.7 .6 1.8 .6 1.7 .5 2.6 .4-1.8-.4-1.7-.5-1.7-.6z" fill="#3c40ca" stroke="#3c40ca"/>
<path d="M321 305.9l1.8 1 1.7 .9 2.6 .6-1.8-.9-1.7-.9z" fill="#3c45cd" stroke="#3c45cd"/>
<path d="M314.1 304.3l1.7 .5 1.8 .3 1.7 .2 1.7 .6 2.6 .7-1.7-.7-1.8-.4-1.7-.5-1.7-.9z" fill="#3c4ad0" stroke="#3c4ad0"/>
<path d="M308.9 304.2l1.7-.1 1.8-.1 1.7 .3 2.6-.2-1.8-.9-1.7-.5-1.7-.6z" fill="#3b4fd3" stroke="#3b4fd3"/>
<path class="h" d="M308.9 304.2l2.6-2.1M310.6 304.1l2.6-1.4M312.4 304l2.5-.8M314.1 304.3l2.6-.2M315.8 304.8l2.6 .2M317.6 305.1l2.5 .4M319.3 305.3l2.6 .6M321 305.9l2.6 .7M322.8 306.9l2.5 .6M324.5 307.8l2.6 .6M326.2 308.4l2.6 .6M328 309l2.5 .5M329.7 309.5l2.6 .4M338.4 305.2l2.5-.6M340.1 305.5l2.6-.4M341.8 306.4l2.6 0M343.6 307.6l2.5 .6M345.3 308.6l2.6 1M357.4 301l2.6 .2M359.2 302l2.6-.2M360.9 303.2l2.6-.2M362.6 303.9l2.6 .1M364.4 304.4l2.6 .6M366.1 304.9l2.6 1.2M374.8 304l2.6-.8M376.5 304.2l2.6-1.4M378.2 304.4l2.6-1.6M380 304.8l2.6-1.5M381.7 305.4l2.6-1.4M383.4 305.3l2.6-1.2M393.8 297.7l2.6 .4M395.6 297.6l2.6 .9"/>
<path class="e" d="M308.9 304.2l2.6-2.1"/>
<path class="e" d="M308.9 304.2l1.7-.1 1.8-.1 1.7 .3 1.7 .5 1.8 .3 1.7 .2 1.7 .6 1.8 1 1.7 .9 1.7 .6 1.8 .6 1.7 .5M338.4 305.2l1.7 .3 1.7 .9 1.8 1.2 1.7 1M357.4 301l1.8 1 1.7 1.2 1.7 .7 1.8 .5 1.7 .5M374.8 304l1.7 .2 1.7 .2 1.8 .4 1.7 .6 1.7-.1M393.8 297.7l1.8-.1"/>
<path class="e" d="M311.5 302.1l1.7 .6 1.7 .5 1.8 .9 1.7 .9 1.7 .5 1.8 .4 1.7 .7 1.7 .9 1.8 .9 1.7 .6 1.7 .5 1.8 .4M340.9 304.6l1.8 .5 1.7 1.3 1.7 1.8 1.8 1.4M360 301.2l1.8 .6 1.7 1.2 1.7 1 1.8 1 1.7 1.1M377.4 303.2l1.7-.4 1.7 0 1.8 .5 1.7 .7 1.7 .1M396.4 298.1l1.8 .4"/>
<path d="M380.8 302.8l1.8 .5 1.7 .7 1.7 .1 1.8-1.1 1.7-1.8 1.7-1.6 1.8-1 1.7-.5 1.7 0 1.8 .4 1.7 .4 1.7-.7 1.8-2 2.5-3.9-1.7 2.2-1.7 .8-1.8-.4-1.7-.5-1.7-.2-1.8 .2-1.7 .7-1.7 1.2-1.8 1.5-1.7 .9-1.7-.2-1.8-.7-1.7-.3z" fill="#3a2eb3" stroke="#3a2eb3"/>
<path d="M375.6 304l1.8-.8 1.7-.4 1.7 0 2.6-5.3-1.7 .2-1.8 .6-1.7 1z" fill="#3b32bb" stroke="#3b32bb"/>
<path d="M370.4 306.8l1.8-.3 1.7-1.3 1.7-1.2 2.6-4.7-1.7 1.5-1.8 1.4-1.7 .3z" fill="#3a2eb3" stroke="#3a2eb3"/>
<path d="M367 305l1.7 1.1 1.7 .7 2.6-4.3-1.7-.8-1.8-1.2z" fill="#3b32bb" stroke="#3b32bb"/>
<path d="M363.5 303l1.7 1 1.8 1 2.5-4.5-1.7-1-1.7-.9z" fill="#3c37c1" stroke="#3c37c1"/>
<path d="M354.8 304.2l1.8-1.6 1.7-1.1 1.7-.3 1.8 .6 1.7 1.2 2.6-4.4-1.8-.8-1.7-.3-1.7 .7-1.8 1.2-1.7 1.4z" fill="#3c3cc6" stroke="#3c3cc6"/>
<path d="M346.1 308.2l1.8 1.4 1.7 0 1.7-1.5 1.8-2 1.7-1.9 2.6-3.4-1.7 1.4-1.8 1.6-1.7 1.1-1.7-.2-1.8-1.4z" fill="#3c37c1" stroke="#3c37c1"/>
<path d="M344.4 306.4l1.7 1.8 2.6-4.9-1.7-1.5z" fill="#3c3cc6" stroke="#3c3cc6"/>
<path d="M335.7 308l1.8-1.8 1.7-1.2 1.7-.4 1.8 .5 1.7 1.3 2.6-4.6-1.7-1.1-1.8-.4-1.7 .2-1.7 1-1.8 1.5z" fill="#3c40ca" stroke="#3c40ca"/>
<path d="M332.3 309.9l1.7-.4 1.7-1.5 2.6-5-1.7 1.4-1.7 .4z" fill="#3c3cc6" stroke="#3c3cc6"/>
<path d="M327.1 308.4l1.7 .6 1.7 .5 1.8 .4 2.6-5.1-1.8-.2-1.7-.2-1.7-.3z" fill="#3c40ca" stroke="#3c40ca"/>
<path d="M321.9 305.9l1.7 .7 1.7 .9 1.8 .9 2.6-4.3-1.8-.7-1.7-.9-1.7-.8z" fill="#3c45cd" stroke="#3c45cd"/>
<path d="M318.4 305l1.7 .5 1.8 .4 2.6-4.2-1.8-.4-1.7-.8z" fill="#3c4ad0" stroke="#3c4ad0"/>
<path d="M313.2 302.7l1.7 .5 1.8 .9 1.7 .9 2.6-4.5-1.7-1.1-1.8-1.1-1.7-.8z" fill="#3b4fd3" stroke="#3b4fd3"/>
<path d="M311.5 302.1l1.7 .6 2.6-5.2-1.7-.8z" fill="#3a53d4" stroke="#3a53d4"/>
<path class="h" d="M311.5 302.1l2.6-5.4M313.2 302.7l2.6-5.2M314.9 303.2l2.6-4.9M316.7 304.1l2.6-4.7M318.4 305l2.6-4.5M320.1 305.5l2.6-4.2M321.9 305.9l2.6-4.2M323.6 306.6l2.6-4.1M325.3 307.5l2.6-4.1M327.1 308.4l2.6-4.3M328.8 309l2.6-4.6M330.5 309.5l2.6-4.9M332.3 309.9l2.6-5.1M334 309.5l2.6-5.1M335.7 308l2.6-5M337.5 306.2l2.6-4.7M339.2 305l2.6-4.5M340.9 304.6l2.6-4.3M342.7 305.1l2.6-4.4M344.4 306.4l2.6-4.6M346.1 308.2l2.6-4.9M347.9 309.6l2.6-4.9M349.6 309.6l2.6-4.7M351.3 308.1l2.6-4.3M353.1 306.1l2.6-3.9M354.8 304.2l2.6-3.4M356.6 302.6l2.5-3.2M358.3 301.5l2.6-3.3M360 301.2l2.6-3.7M361.8 301.8l2.5-4M363.5 303l2.6-4.4M365.2 304l2.6-4.5M367 305l2.5-4.5M368.7 306.1l2.6-4.4M370.4 306.8l2.6-4.3M372.2 306.5l2.5-4.3M373.9 305.2l2.6-4.4M375.6 304l2.6-4.7M377.4 303.2l2.5-4.9M379.1 302.8l2.6-5.1M380.8 302.8l2.6-5.3M382.6 303.3l2.5-5.5M384.3 304l2.6-5.5M386 304.1l2.6-5.4M387.8 303l2.5-5.2M389.5 301.2l2.6-4.9M391.2 299.6l2.6-4.5M393 298.6l2.5-4.2M394.7 298.1l2.6-3.9M396.4 298.1l2.6-3.7M398.2 298.5l2.5-3.6M399.9 298.9l2.6-3.6M401.6 298.2l2.6-3.7M403.4 296.2l2.5-3.9"/>
<path class="e" d="M311.5 302.1l2.6-5.4"/>
<path class="e" d="M311.5 302.1l1.7 .6 1.7 .5 1.8 .9 1.7 .9 1.7 .5 1.8 .4 1.7 .7 1.7 .9 1.8 .9 1.7 .6 1.7 .5 1.8 .4 1.7-.4 1.7-1.5 1.8-1.8 1.7-1.2 1.7-.4 1.8 .5 1.7 1.3 1.7 1.8 1.8 1.4 1.7 0 1.7-1.5 1.8-2 1.7-1.9 1.8-1.6 1.7-1.1 1.7-.3 1.8 .6 1.7 1.2 1.7 1 1.8 1 1.7 1.1 1.7 .7 1.8-.3 1.7-1.3 1.7-1.2 1.8-.8 1.7-.4 1.7 0 1.8 .5 1.7 .7 1.7 .1 1.8-1.1 1.7-1.8 1.7-1.6 1.8-1 1.7-.5 1.7 0 1.8 .4 1.7 .4 1.7-.7 1.8-2"/>
<path class="e" d="M314.1 296.7l1.7 .8 1.7 .8 1.8 1.1 1.7 1.1 1.7 .8 1.8 .4 1.7 .8 1.7 .9 1.8 .7 1.7 .3 1.7 .2 1.8 .2 1.7-.4 1.7-1.4 1.8-1.5 1.7-1 1.7-.2 1.8 .4 1.7 1.1 1.7 1.5 1.8 1.4 1.7 .2 1.7-1.1 1.8-1.6 1.7-1.4 1.7-1.4 1.8-1.2 1.7-.7 1.7 .3 1.8 .8 1.7 .9 1.7 1 1.8 1.2 1.7 .8 1.7-.3 1.8-1.4 1.7-1.5 1.7-1 1.8-.6 1.7-.2 1.7 .3 1.8 .7 1.7 .2 1.7-.9 1.8-1.5 1.7-1.2 1.7-.7 1.8-.2 1.7 .2 1.7 .5 1.8 .4 1.7-.8 1.7-2.2"/>
<path d="M399 294.4l1.7 .5 1.8 .4 1.7-.8 2.6-1.8-1.7 .8-1.8 0-1.7 0z" fill="#3b32bb" stroke="#3b32bb"/>
<path d="M386.9 298.5l1.7 .2 1.7-.9 2.6-1.9-1.7 .6-1.8-.1z" fill="#3b32bb" stroke="#3b32bb"/>
<path d="M369.5 300.5l1.8 1.2 1.7 .8 1.7-.3 1.8-1.4 1.7-1.5 1.7-1 1.8-.6 1.7-.2 1.7 .3 1.8 .7 2.5-2.1-1.7-.4-1.7 0-1.8 .2-1.7 .4-1.7 .4-1.8 .9-1.7 .8-1.7 .2-1.8-.6-1.7-.7z" fill="#3c37c1" stroke="#3c37c1"/>
<path d="M366.1 298.6l1.7 .9 1.7 1 2.6-2.9-1.7-.4-1.8-.3z" fill="#3c3cc6" stroke="#3c3cc6"/>
<path d="M364.3 297.8l1.8 .8 2.5-1.7-1.7-.3z" fill="#3c40ca" stroke="#3c40ca"/>
<path d="M357.4 300.8l1.7-1.4 2.6-1.4-1.7 .4z" fill="#3c40ca" stroke="#3c40ca"/>
<path d="M350.5 304.7l1.7 .2 1.7-1.1 1.8-1.6 1.7-1.4 2.6-2.4-1.8 .3-1.7 .5-1.7 .5-1.8 0z" fill="#3c3cc6" stroke="#3c3cc6"/>
<path d="M347 301.8l1.7 1.5 1.8 1.4 2.5-5-1.7-.6-1.7-.4z" fill="#3c40ca" stroke="#3c40ca"/>
<path d="M331.4 304.4l1.7 .2 1.8 .2 1.7-.4 1.7-1.4 1.8-1.5 1.7-1 1.7-.2 1.8 .4 1.7 1.1 2.6-3.1-1.8-.1-1.7-.1-1.7-.1-1.8 .1-1.7 .6-1.7 .7-1.8 .3-1.7 .2-1.7 .3z" fill="#3c45cd" stroke="#3c45cd"/>
<path d="M326.2 302.5l1.7 .9 1.8 .7 1.7 .3 2.6-3.8-1.8 .2-1.7-.4-1.7-1z" fill="#3c4ad0" stroke="#3c4ad0"/>
<path d="M322.7 301.3l1.8 .4 1.7 .8 2.6-3.1-1.8-.8-1.7-.7z" fill="#3b4fd3" stroke="#3b4fd3"/>
<path d="M317.5 298.3l1.8 1.1 1.7 1.1 1.7 .8 2.6-3.4-1.7-.8-1.8-1.1-1.7-.8z" fill="#3a53d4" stroke="#3a53d4"/>
<path d="M314.1 296.7l1.7 .8 1.7 .8 2.6-3.1-1.7-.4-1.8-.5z" fill="#3858d5" stroke="#3858d5"/>
<path class="h" d="M314.1 296.7l2.5-2.4M315.8 297.5l2.6-2.7M317.5 298.3l2.6-3.1M319.3 299.4l2.5-3.4M321 300.5l2.6-3.4M322.7 301.3l2.6-3.4M324.5 301.7l2.5-3.1M326.2 302.5l2.6-3.1M327.9 303.4l2.6-3M329.7 304.1l2.5-3.3M331.4 304.4l2.6-3.8M333.1 304.6l2.6-4.3M334.9 304.8l2.5-4.7M336.6 304.4l2.6-4.6M338.3 303l2.6-3.9M340.1 301.5l2.5-3M341.8 300.5l2.6-2.1M343.5 300.3l2.6-1.8M345.3 300.7l2.5-2.1M347 301.8l2.6-3.1M348.7 303.3l2.6-4.2M350.5 304.7l2.5-5M352.2 304.9l2.6-5.2M353.9 303.8l2.6-4.6M355.7 302.2l2.5-3.5M357.4 300.8l2.6-2.4M359.1 299.4l2.6-1.4M364.3 297.8l2.6-1.2M366.1 298.6l2.5-1.7M367.8 299.5l2.6-2.3M369.5 300.5l2.6-2.9M371.3 301.7l2.5-3.4M373 302.5l2.6-3.6M374.7 302.2l2.6-3.5M376.5 300.8l2.5-2.9M378.2 299.3l2.6-2.3M379.9 298.3l2.6-1.7M381.7 297.7l2.5-1.5M383.4 297.5l2.6-1.5M385.1 297.8l2.6-1.8M386.9 298.5l2.5-2.1M388.6 298.7l2.6-2.2M390.3 297.8l2.6-1.9M399 294.4l2.6-.9M400.7 294.9l2.6-1.4M402.5 295.3l2.6-1.8M404.2 294.5l2.6-1.8"/>
<path class="e" d="M314.1 296.7l2.5-2.4"/>
<path class="e" d="M314.1 296.7l1.7 .8 1.7 .8 1.8 1.1 1.7 1.1 1.7 .8 1.8 .4 1.7 .8 1.7 .9 1.8 .7 1.7 .3 1.7 .2 1.8 .2 1.7-.4 1.7-1.4 1.8-1.5 1.7-1 1.7-.2 1.8 .4 1.7 1.1 1.7 1.5 1.8 1.4 1.7 .2 1.7-1.1 1.8-1.6 1.7-1.4 1.7-1.4M364.3 297.8l1.8 .8 1.7 .9 1.7 1 1.8 1.2 1.7 .8 1.7-.3 1.8-1.4 1.7-1.5 1.7-1 1.8-.6 1.7-.2 1.7 .3 1.8 .7 1.7 .2 1.7-.9M399 294.4l1.7 .5 1.8 .4 1.7-.8"/>
<path class="e" d="M316.6 294.3l1.8 .5 1.7 .4 1.7 .8 1.8 1.1 1.7 .8 1.7 .7 1.8 .8 1.7 1 1.7 .4 1.8-.2 1.7-.3 1.7-.2 1.8-.3 1.7-.7 1.7-.6 1.8-.1 1.7 .1 1.7 .1 1.8 .1 1.7 .4 1.7 .6 1.8 0 1.7-.5 1.7-.5 1.8-.3 1.7-.4M366.9 296.6l1.7 .3 1.8 .3 1.7 .4 1.7 .7 1.8 .6 1.7-.2 1.7-.8 1.8-.9 1.7-.4 1.7-.4 1.8-.2 1.7 0 1.7 .4 1.8 .1 1.7-.6M401.6 293.5l1.7 0 1.8 0 1.7-.8"/>
<path d="M403.3 293.5l1.8 0 2.5-1.8-1.7 .5z" fill="#3b32bb" stroke="#3b32bb"/>
<path d="M386 296l1.7 0 1.7 .4 1.8 .1 1.7-.6 2.6-1.2-1.7 .3-1.8 .1-1.7 0-1.7 .4z" fill="#3c37c1" stroke="#3c37c1"/>
<path d="M372.1 297.6l1.7 .7 1.8 .6 1.7-.2 1.7-.8 1.8-.9 1.7-.4 1.7-.4 1.8-.2 2.6-.5-1.8 .3-1.7-.2-1.7-.4-1.8-.2-1.7 .1-1.7-.1-1.8-.3-1.7 .1z" fill="#3c3cc6" stroke="#3c3cc6"/>
<path d="M366.9 296.6l1.7 .3 1.8 .3 1.7 .4 2.6-2.8-1.7 .5-1.8 .5-1.7 .2z" fill="#3c40ca" stroke="#3c40ca"/>
<path d="M360 298.4l1.7-.4 2.6-1.4-1.7-.7z" fill="#3c40ca" stroke="#3c40ca"/>
<path d="M349.6 298.7l1.7 .4 1.7 .6 1.8 0 1.7-.5 1.7-.5 1.8-.3 2.6-2.5-1.8-.9-1.7-.6-1.7-.1-1.8 .3-1.7 .6-1.7 .9z" fill="#3c45cd" stroke="#3c45cd"/>
<path d="M335.7 300.3l1.7-.2 1.8-.3 1.7-.7 1.7-.6 1.8-.1 1.7 .1 1.7 .1 1.8 .1 2.6-2.6-1.8 1.1-1.7 .5-1.7-.6-1.8-.9-1.7-.5-1.7-.1-1.8 .1-1.7 .5z" fill="#3c4ad0" stroke="#3c4ad0"/>
<path d="M328.8 299.4l1.7 1 1.7 .4 1.8-.2 1.7-.3 2.6-4.1-1.8 .9-1.7 .8-1.7-.1-1.8-.9z" fill="#3b4fd3" stroke="#3b4fd3"/>
<path d="M325.3 297.9l1.7 .7 1.8 .8 2.5-2.5-1.7-.9-1.7-.8z" fill="#3a53d4" stroke="#3a53d4"/>
<path d="M320.1 295.2l1.7 .8 1.8 1.1 1.7 .8 2.6-2.7-1.8-.7-1.7-.8-1.7-.3z" fill="#3858d5" stroke="#3858d5"/>
<path d="M316.6 294.3l1.8 .5 1.7 .4 2.6-1.8-1.8 .2-1.7 .2z" fill="#345dd6" stroke="#345dd6"/>
<path class="h" d="M316.6 294.3l2.6-.5M318.4 294.8l2.5-1.2M320.1 295.2l2.6-1.8M321.8 296l2.6-2.3M323.6 297.1l2.5-2.6M325.3 297.9l2.6-2.7M327 298.6l2.6-2.6M328.8 299.4l2.5-2.5M330.5 300.4l2.6-2.6M332.2 300.8l2.6-2.9M334 300.6l2.5-3.5M335.7 300.3l2.6-4.1M337.4 300.1l2.6-4.4M339.2 299.8l2.6-4.2M340.9 299.1l2.6-3.4M342.6 298.5l2.6-2.3M344.4 298.4l2.6-1.3M346.1 298.5l2.6-.8M347.8 298.6l2.6-1.4M349.6 298.7l2.6-2.6M351.3 299.1l2.6-3.9M353 299.7l2.6-5.1M354.8 299.7l2.6-5.4M356.5 299.2l2.6-4.8M358.2 298.7l2.6-3.7M360 298.4l2.6-2.5M361.7 298l2.6-1.4M366.9 296.6l2.6-.6M368.6 296.9l2.6-1.1M370.4 297.2l2.6-1.9M372.1 297.6l2.6-2.8M373.8 298.3l2.6-3.6M375.6 298.9l2.6-3.9M377.3 298.7l2.6-3.6M379 297.9l2.6-2.9M380.8 297l2.6-1.8M382.5 296.6l2.6-1M384.2 296.2l2.6-.4M386 296l2.6-.5M387.7 296l2.6-.9M389.4 296.4l2.6-1.3M391.2 296.5l2.6-1.5M392.9 295.9l2.6-1.2M403.3 293.5l2.6-1.3M405.1 293.5l2.5-1.8"/>
<path class="e" d="M316.6 294.3l2.6-.5"/>
<path class="e" d="M316.6 294.3l1.8 .5 1.7 .4 1.7 .8 1.8 1.1 1.7 .8 1.7 .7 1.8 .8 1.7 1 1.7 .4 1.8-.2 1.7-.3 1.7-.2 1.8-.3 1.7-.7 1.7-.6 1.8-.1 1.7 .1 1.7 .1 1.8 .1 1.7 .4 1.7 .6 1.8 0 1.7-.5 1.7-.5 1.8-.3 1.7-.4M366.9 296.6l1.7 .3 1.8 .3 1.7 .4 1.7 .7 1.8 .6 1.7-.2 1.7-.8 1.8-.9 1.7-.4 1.7-.4 1.8-.2 1.7 0 1.7 .4 1.8 .1 1.7-.6M403.3 293.5l1.8 0"/>
<path class="e" d="M319.2 293.8l1.7-.2 1.8-.2 1.7 .3 1.7 .8 1.8 .7 1.7 .8 1.7 .9 1.8 .9 1.7 .1 1.7-.8 1.8-.9 1.7-.5 1.8-.1 1.7 .1 1.7 .5 1.8 .9 1.7 .6 1.7-.5 1.8-1.1 1.7-.9 1.7-.6 1.8-.3 1.7 .1 1.7 .6 1.8 .9 1.7 .7M369.5 296l1.7-.2 1.8-.5 1.7-.5 1.7-.1 1.8 .3 1.7 .1 1.7-.1 1.8 .2 1.7 .4 1.7 .2 1.8-.3 1.7-.4 1.7 0 1.8-.1 1.7-.3M405.9 292.2l1.7-.5"/>
<path d="M393.8 295l1.7-.3 1.7-.4 1.8-.1 1.7 0 1.7-.5 1.8-.8 2.5-4.3-1.7 1.4-1.7 .7-1.8-.2-1.7-.4-1.7-.1-1.8 .2z" fill="#3c37c1" stroke="#3c37c1"/>
<path d="M383.4 295.2l1.7 .4 1.7 .2 1.8-.3 1.7-.4 1.7 0 1.8-.1 2.5-4.8-1.7 .2-1.7 .4-1.8 .8-1.7 .4-1.7-.4-1.8-1.1z" fill="#3c3cc6" stroke="#3c3cc6"/>
<path d="M371.2 295.8l1.8-.5 1.7-.5 1.7-.1 1.8 .3 1.7 .1 1.7-.1 1.8 .2 2.5-4.7-1.7-1-1.7-.5-1.8-.2-1.7 .2-1.7 .7-1.8 1.3-1.7 1.1z" fill="#3c40ca" stroke="#3c40ca"/>
<path d="M369.5 296l1.7-.2 2.6-3.7-1.7 .5z" fill="#3c45cd" stroke="#3c45cd"/>
<path d="M348.7 297.7l1.7-.5 1.8-1.1 1.7-.9 1.7-.6 1.8-.3 1.7 .1 1.7 .6 1.8 .9 2.5-4.7-1.7-1.7-1.7-1.2-1.8-.3-1.7 .7-1.7 1.4-1.8 1.9-1.7 2-1.7 .8z" fill="#3c4ad0" stroke="#3c4ad0"/>
<path d="M343.5 295.7l1.7 .5 1.8 .9 1.7 .6 2.6-2.9-1.8-.8-1.7-1.5-1.7-1.2z" fill="#3b4fd3" stroke="#3b4fd3"/>
<path d="M331.3 296.9l1.8 .9 1.7 .1 1.7-.8 1.8-.9 1.7-.5 1.8-.1 1.7 .1 2.6-4.4-1.8-.6-1.7 0-1.7 .7-1.8 1.3-1.7 1.3-1.7 .2-1.8-.7z" fill="#3a53d4" stroke="#3a53d4"/>
<path d="M326.1 294.5l1.8 .7 1.7 .8 1.7 .9 2.6-3.4-1.7-.9-1.7-.6-1.8-.5z" fill="#3858d5" stroke="#3858d5"/>
<path d="M319.2 293.8l1.7-.2 1.8-.2 1.7 .3 1.7 .8 2.6-3-1.7-.4-1.7 .1-1.8 .7-1.7 .8z" fill="#345dd6" stroke="#345dd6"/>
<path class="h" d="M319.2 293.8l2.6-1.1M320.9 293.6l2.6-1.7M322.7 293.4l2.6-2.2M324.4 293.7l2.6-2.6M326.1 294.5l2.6-3M327.9 295.2l2.6-3.2M329.6 296l2.6-3.4M331.3 296.9l2.6-3.4M333.1 297.8l2.6-3.6M334.8 297.9l2.6-3.9M336.5 297.1l2.6-4.4M338.3 296.2l2.6-4.8M340 295.7l2.6-5M341.8 295.6l2.5-4.9M343.5 295.7l2.6-4.4M345.2 296.2l2.6-3.7M347 297.1l2.5-3.1M348.7 297.7l2.6-2.9M350.4 297.2l2.6-3.2M352.2 296.1l2.5-4.1M353.9 295.2l2.6-5.1M355.6 294.6l2.6-5.9M357.4 294.3l2.5-6.3M359.1 294.4l2.6-6.1M360.8 295l2.6-5.5M362.6 295.9l2.5-4.7M369.5 296l2.6-3.4M371.2 295.8l2.6-3.7M373 295.3l2.5-4.3M374.7 294.8l2.6-5.1M376.4 294.7l2.6-5.7M378.2 295l2.5-6.2M379.9 295.1l2.6-6.1M381.6 295l2.6-5.5M383.4 295.2l2.5-4.7M385.1 295.6l2.6-4M386.8 295.8l2.6-3.8M388.6 295.5l2.5-3.9M390.3 295.1l2.6-4.3M392 295.1l2.6-4.7M393.8 295l2.5-4.8M395.5 294.7l2.6-4.7M397.2 294.3l2.6-4.2M399 294.2l2.5-3.7M400.7 294.2l2.6-3.5M402.4 293.7l2.6-3.7M404.2 292.9l2.5-4.3"/>
<path class="e" d="M319.2 293.8l2.6-1.1"/>
<path class="e" d="M319.2 293.8l1.7-.2 1.8-.2 1.7 .3 1.7 .8 1.8 .7 1.7 .8 1.7 .9 1.8 .9 1.7 .1 1.7-.8 1.8-.9 1.7-.5 1.8-.1 1.7 .1 1.7 .5 1.8 .9 1.7 .6 1.7-.5 1.8-1.1 1.7-.9 1.7-.6 1.8-.3 1.7 .1 1.7 .6 1.8 .9M369.5 296l1.7-.2 1.8-.5 1.7-.5 1.7-.1 1.8 .3 1.7 .1 1.7-.1 1.8 .2 1.7 .4 1.7 .2 1.8-.3 1.7-.4 1.7 0 1.8-.1 1.7-.3 1.7-.4 1.8-.1 1.7 0 1.7-.5 1.8-.8"/>
<path class="e" d="M321.8 292.7l1.7-.8 1.8-.7 1.7-.1 1.7 .4 1.8 .5 1.7 .6 1.7 .9 1.8 .7 1.7-.2 1.7-1.3 1.8-1.3 1.7-.7 1.7 0 1.8 .6 1.7 1.2 1.7 1.5 1.8 .8 1.7-.8 1.7-2 1.8-1.9 1.7-1.4 1.7-.7 1.8 .3 1.7 1.2 1.7 1.7M372.1 292.6l1.7-.5 1.7-1.1 1.8-1.3 1.7-.7 1.7-.2 1.8 .2 1.7 .5 1.7 1 1.8 1.1 1.7 .4 1.7-.4 1.8-.8 1.7-.4 1.7-.2 1.8-.2 1.7 .1 1.7 .4 1.8 .2 1.7-.7 1.7-1.4"/>
<path d="M387.7 291.6l1.7 .4 1.7-.4 1.8-.8 1.7-.4 2.6-11-1.7 .7-1.8 1-1.7 .7-1.7-.3z" fill="#3c40ca" stroke="#3c40ca"/>
<path d="M385.9 290.5l1.8 1.1 2.6-10.1-1.8-1.1z" fill="#3c45cd" stroke="#3c45cd"/>
<path d="M356.5 290.1l1.7-1.4 1.7-.7 1.8 .3 2.5-8.1-1.7 0-1.7 .8-1.8 1.6z" fill="#3a53d4" stroke="#3a53d4"/>
<path d="M351.3 294.8l1.7-.8 1.7-2 1.8-1.9 2.5-7.5-1.7 2.1-1.7 2-1.8 1z" fill="#3b4fd3" stroke="#3b4fd3"/>
<path d="M347.8 292.5l1.7 1.5 1.8 .8 2.5-7.1-1.7-.7-1.7-1.4z" fill="#3a53d4" stroke="#3a53d4"/>
<path d="M333.9 293.5l1.8 .7 1.7-.2 1.7-1.3 1.8-1.3 1.7-.7 1.7 0 1.8 .6 1.7 1.2 2.6-6.9-1.8-1.1-1.7-.6-1.7 .1-1.8 .8-1.7 1.5-1.7 1.4-1.8 .5-1.7-.4z" fill="#3858d5" stroke="#3858d5"/>
<path d="M328.7 291.5l1.8 .5 1.7 .6 1.7 .9 2.6-5.7-1.7-.4-1.8-.3-1.7-.1z" fill="#345dd6" stroke="#345dd6"/>
<path d="M321.8 292.7l1.7-.8 1.8-.7 1.7-.1 1.7 .4 2.6-4.5-1.7-.1-1.8 .4-1.7 .9-1.7 1z" fill="#2f63d6" stroke="#2f63d6"/>
<path class="h" d="M321.8 292.7l2.6-3.5M323.5 291.9l2.6-3.7M325.3 291.2l2.5-3.9M327 291.1l2.6-4.2M328.7 291.5l2.6-4.5M330.5 292l2.5-4.9M332.2 292.6l2.6-5.2M333.9 293.5l2.6-5.7M335.7 294.2l2.5-6M337.4 294l2.6-6.3M339.1 292.7l2.6-6.4M340.9 291.4l2.5-6.6M342.6 290.7l2.6-6.7M344.3 290.7l2.6-6.8M346.1 291.3l2.5-6.8M347.8 292.5l2.6-6.9M349.5 294l2.6-7M351.3 294.8l2.5-7.1M353 294l2.6-7.3M354.7 292l2.6-7.3M356.5 290.1l2.5-7.5M358.2 288.7l2.6-7.7M359.9 288l2.6-7.8M361.7 288.3l2.5-8.1M385.9 290.5l2.6-10.1M387.7 291.6l2.6-10.1M389.4 292l2.6-10.2M391.1 291.6l2.6-10.5M392.9 290.8l2.6-10.7M394.6 290.4l2.6-11"/>
<path class="e" d="M321.8 292.7l2.6-3.5"/>
<path class="e" d="M321.8 292.7l1.7-.8 1.8-.7 1.7-.1 1.7 .4 1.8 .5 1.7 .6 1.7 .9 1.8 .7 1.7-.2 1.7-1.3 1.8-1.3 1.7-.7 1.7 0 1.8 .6 1.7 1.2 1.7 1.5 1.8 .8 1.7-.8 1.7-2 1.8-1.9 1.7-1.4 1.7-.7 1.8 .3M385.9 290.5l1.8 1.1 1.7 .4 1.7-.4 1.8-.8 1.7-.4"/>
<path class="e" d="M324.4 289.2l1.7-1 1.7-.9 1.8-.4 1.7 .1 1.7 .1 1.8 .3 1.7 .4 1.7 .4 1.8-.5 1.7-1.4 1.7-1.5 1.8-.8 1.7-.1 1.7 .6 1.8 1.1 1.7 1.4 1.7 .7 1.8-1 1.7-2 1.7-2.1 1.8-1.6 1.7-.8 1.7 0M388.5 280.4l1.8 1.1 1.7 .3 1.7-.7 1.8-1 1.7-.7"/>
<path d="M357.3 284.7l1.7-2.1 1.8-1.6 2.6-9.5-1.8 1.2-1.7 1.5z" fill="#345dd6" stroke="#345dd6"/>
<path d="M353.8 287.7l1.8-1 1.7-2 2.6-10.5-1.7 1.6-1.8 .9z" fill="#3858d5" stroke="#3858d5"/>
<path d="M350.4 285.6l1.7 1.4 1.7 .7 2.6-11-1.7-.4-1.7-.7z" fill="#345dd6" stroke="#345dd6"/>
<path d="M334.8 287.4l1.7 .4 1.7 .4 1.8-.5 1.7-1.4 1.7-1.5 1.8-.8 1.7-.1 1.7 .6 1.8 1.1 2.6-10-1.8-.4-1.7-.1-1.7 .3-1.8 .7-1.7 1.3-1.7 1.4-1.8 .7-1.7 .1-1.7 .1z" fill="#2f63d6" stroke="#2f63d6"/>
<path d="M324.4 289.2l1.7-1 1.7-.9 1.8-.4 1.7 .1 1.7 .1 1.8 .3 2.6-7.7-1.8 .3-1.7 .2-1.7 .2-1.8 .4-1.7 .9-1.7 .9z" fill="#2a68d4" stroke="#2a68d4"/>
<path class="h" d="M324.4 289.2l2.6-6.6M326.1 288.2l2.6-6.5M327.8 287.3l2.6-6.5M329.6 286.9l2.6-6.5M331.3 287l2.6-6.8M333 287.1l2.6-7.1M334.8 287.4l2.6-7.7M336.5 287.8l2.6-8.2M338.2 288.2l2.6-8.7M340 287.7l2.6-8.9M341.7 286.3l2.6-8.9M343.4 284.8l2.6-8.7M345.2 284l2.6-8.6M346.9 283.9l2.6-8.8M348.6 284.5l2.6-9.3M350.4 285.6l2.6-10M352.1 287l2.6-10.7M353.8 287.7l2.6-11M355.6 286.7l2.6-10.9M357.3 284.7l2.6-10.5M359 282.6l2.6-9.9M360.8 281l2.6-9.5"/>
<path class="e" d="M324.4 289.2l2.6-6.6"/>
<path class="e" d="M324.4 289.2l1.7-1 1.7-.9 1.8-.4 1.7 .1 1.7 .1 1.8 .3 1.7 .4 1.7 .4 1.8-.5 1.7-1.4 1.7-1.5 1.8-.8 1.7-.1 1.7 .6 1.8 1.1 1.7 1.4 1.7 .7 1.8-1 1.7-2 1.7-2.1 1.8-1.6"/>
<path class="e" d="M327 282.6l1.7-.9 1.7-.9 1.8-.4 1.7-.2 1.7-.2 1.8-.3 1.7-.1 1.7-.1 1.8-.7 1.7-1.4 1.7-1.3 1.8-.7 1.7-.3 1.7 .1 1.8 .4 1.7 .7 1.7 .4 1.8-.9 1.7-1.6 1.7-1.5 1.8-1.2"/>
<path d="M359.9 274.2l1.7-1.5 2.6-12.2-1.7 .9z" fill="#276dd2" stroke="#276dd2"/>
<path d="M356.4 276.7l1.8-.9 1.7-1.6 2.6-12.8-1.8 1-1.7 .7z" fill="#2a68d4" stroke="#2a68d4"/>
<path d="M351.2 275.2l1.8 .4 1.7 .7 1.7 .4 2.6-13.6-1.7 0-1.8 0-1.7 .4z" fill="#276dd2" stroke="#276dd2"/>
<path d="M346 276.1l1.8-.7 1.7-.3 1.7 .1 2.6-11.7-1.7 .6-1.8 .5-1.7 .6z" fill="#2671cf" stroke="#2671cf"/>
<path d="M337.4 279.7l1.7-.1 1.7-.1 1.8-.7 1.7-1.4 1.7-1.3 2.6-10.9-1.7 1-1.8 1.2-1.7 .8-1.7 .4-1.8 .6z" fill="#276dd2" stroke="#276dd2"/>
<path d="M327 282.6l1.7-.9 1.7-.9 1.8-.4 1.7-.2 1.7-.2 1.8-.3 2.5-10.5-1.7 .8-1.7 .5-1.8 .3-1.7 .4-1.7 .8-1.8 .7z" fill="#2671cf" stroke="#2671cf"/>
<path class="h" d="M327 282.6l2.5-9.9M328.7 281.7l2.6-9.7M330.4 280.8l2.6-9.6M332.2 280.4l2.5-9.6M333.9 280.2l2.6-9.7M335.6 280l2.6-10M337.4 279.7l2.5-10.5M339.1 279.6l2.6-11M340.8 279.5l2.6-11.3M342.6 278.8l2.5-11.4M344.3 277.4l2.6-11.2M346 276.1l2.6-10.9M347.8 275.4l2.5-10.8M349.5 275.1l2.6-11M351.2 275.2l2.6-11.7M353 275.6l2.5-12.5M354.7 276.3l2.6-13.2M356.4 276.7l2.6-13.6M358.2 275.8l2.5-13.4M359.9 274.2l2.6-12.8M361.6 272.7l2.6-12.2"/>
<path class="e" d="M327 282.6l2.5-9.9"/>
<path class="e" d="M327 282.6l1.7-.9 1.7-.9 1.8-.4 1.7-.2 1.7-.2 1.8-.3 1.7-.1 1.7-.1 1.8-.7 1.7-1.4 1.7-1.3 1.8-.7 1.7-.3 1.7 .1 1.8 .4 1.7 .7 1.7 .4 1.8-.9 1.7-1.6 1.7-1.5"/>
<path class="e" d="M329.5 272.7l1.8-.7 1.7-.8 1.7-.4 1.8-.3 1.7-.5 1.7-.8 1.8-.6 1.7-.4 1.7-.8 1.8-1.2 1.7-1 1.7-.6 1.8-.5 1.7-.6 1.7-.4 1.8 0 1.7 0 1.7-.7 1.8-1 1.7-.9"/>
<path d="M357.3 263.1l1.7 0 2.6-14.7-1.8 .3z" fill="#247ac8" stroke="#247ac8"/>
<path d="M345.1 267.4l1.8-1.2 1.7-1 1.7-.6 1.8-.5 1.7-.6 1.7-.4 1.8 0 2.5-14.4-1.7 .5-1.7 .9-1.8 .9-1.7 .6-1.7 .5-1.8 .9-1.7 1z" fill="#217ec5" stroke="#217ec5"/>
<path d="M338.2 270l1.7-.8 1.8-.6 1.7-.4 1.7-.8 2.6-13.4-1.7 .7-1.8 .5-1.7 .8-1.7 1z" fill="#247ac8" stroke="#247ac8"/>
<path d="M329.5 272.7l1.8-.7 1.7-.8 1.7-.4 1.8-.3 1.7-.5 2.6-13-1.8 .7-1.7 .4-1.7 .4-1.8 .7-1.7 .7z" fill="#217ec5" stroke="#217ec5"/>
<path class="h" d="M329.5 272.7l2.6-12.8M331.3 272l2.5-12.8M333 271.2l2.6-12.7M334.7 270.8l2.6-12.7M336.5 270.5l2.5-12.8M338.2 270l2.6-13M339.9 269.2l2.6-13.2M341.7 268.6l2.5-13.4M343.4 268.2l2.6-13.5M345.1 267.4l2.6-13.4M346.9 266.2l2.5-13.2M348.6 265.2l2.6-13.1M350.3 264.6l2.6-13M352.1 264.1l2.5-13.1M353.8 263.5l2.6-13.4M355.5 263.1l2.6-13.9M357.3 263.1l2.5-14.4M359 263.1l2.6-14.7"/>
<path class="e" d="M329.5 272.7l2.6-12.8"/>
<path class="e" d="M329.5 272.7l1.8-.7 1.7-.8 1.7-.4 1.8-.3 1.7-.5 1.7-.8 1.8-.6 1.7-.4 1.7-.8 1.8-1.2 1.7-1 1.7-.6 1.8-.5 1.7-.6 1.7-.4 1.8 0 1.7 0"/>
<path class="e" d="M332.1 259.9l1.7-.7 1.8-.7 1.7-.4 1.7-.4 1.8-.7 1.7-1 1.7-.8 1.8-.5 1.7-.7 1.7-1 1.8-.9 1.7-.5 1.7-.6 1.8-.9 1.7-.9 1.7-.5 1.8-.3"/>
<path d="M332.1 259.9l1.7-.7 1.8-.7 1.7-.4 1.7-.4 1.8-.7 1.7-1 1.7-.8 2.6-12.8-1.7 .8-1.7 1.1-1.8 .8-1.7 .3-1.7 .4-1.8 .9-1.7 .9z" fill="#1b8abe" stroke="#1b8abe"/>
<path class="h" d="M332.1 259.9l2.6-12.3M333.8 259.2l2.6-12.5M335.6 258.5l2.6-12.7M337.3 258.1l2.6-12.7M339 257.7l2.6-12.6M340.8 257l2.6-12.7M342.5 256l2.6-12.8M344.2 255.2l2.6-12.8"/>
<path class="e" d="M332.1 259.9l2.6-12.3"/>
<path class="e" d="M332.1 259.9l1.7-.7 1.8-.7 1.7-.4 1.7-.4 1.8-.7 1.7-1 1.7-.8"/>
<path class="e" d="M334.7 247.6l1.7-.9 1.8-.9 1.7-.4 1.7-.3 1.8-.8 1.7-1.1 1.7-.8"/>
<path d="M334.7 247.6l1.7-.9 1.8-.9 1.7-.4 1.7-.3 2.6-6.9-1.7-.7-1.8 0-1.7 1.8-1.7 1.5z" fill="#0698af" stroke="#0698af"/>
<path class="h" d="M334.7 247.6l2.6-6.8M336.4 246.7l2.6-7.4M338.2 245.8l2.5-8.3M339.9 245.4l2.6-7.9M341.6 245.1l2.6-6.9"/>
<path class="e" d="M334.7 247.6l2.6-6.8"/>
<path class="e" d="M334.7 247.6l1.7-.9 1.8-.9 1.7-.4 1.7-.3"/>
<path class="e" d="M337.3 240.8l1.7-1.5 1.7-1.8 1.8 0 1.7 .7"/>
<path d="M337.3 240.8l1.7-1.5 1.7-1.8 1.8 0 1.7 .7 1.7-1.1 1.8-2 1.7-.6 1.7 .8 1.8-.3 1.7-1.9 1.7-1 1.8 .7 1.7 .1 1.7-1.8 1.8-1.9 1.7 0 1.7 .5 1.8-1.2 1.7-1.9 1.7-.2 1.8 .9 1.7-.5 1.7-2.2 1.8-1.2 1.7 .5 1.7-.2 1.8-2 1.7-1.7 1.7 .4 1.8 .5 1.7-1.3 1.7-1.8 1.8-.1 1.7 .9 1.7-.7 1.8-2 1.7-.8 1.7 .7 1.8-.3 1.7-2.2 1.8-1.7 1.7 .3 1.7 .2 1.8-1.5 1.7-1.8 1.7 .2 1.8 .9 1.7-.9 1.7-2.1 1.8-.6 1.7 .9 1.7-.2 1.8-1.8 1.7-1 1.7 .7 1.8 .3 1.7-1.8 1.7-2 1.8-.2 1.7 .4 1.7-1.3 1.8-2 1.7-.4 1.7 .8 1.8-.5 1.7-2 1.7-1.1 1.8 .6 1.7 .2 1.7-1.6 1.8-1.4 1.7 .5 1.7 .7 1.8-1.3 1.7-2.1 1.7-.4 1.8 .7 1.7-.8 1.7-2 1.8-.9 1.7 .8 1.7-.1 1.8-2 1.7-1.6 1.7 .3 1.8 .4 1.7-1.3 1.7-1.7 1.8 .1 1.7 1 1.7-.8 1.8-2.2 1.7-.8 1.7 .7 1.8-.3 1.7-2 1.7-1.2 1.8 .6 1.7 .4 2.6 1.5-1.7-.2-1.8-.4-1.7 1.2-1.7 1.9-1.8 .3-1.7-.4-1.8 .8-1.7 2-1.7 .9-1.8-.7-1.7 0-1.7 1.6-1.8 1.3-1.7-.3-1.7-.2-1.8 1.5-1.7 1.9-1.7 .2-1.8-.5-1.7 .9-1.7 1.9-1.8 .7-1.7-.7-1.7 .2-1.8 1.7-1.7 1.1-1.7-.5-1.8-.3-1.7 1.5-1.7 1.6-1.8 .1-1.7-.4-1.7 1.2-1.8 2-1.7 .6-1.7-.5-1.8 .5-1.7 2-1.7 1.2-1.8-.3-1.7 .2-1.7 1.8-1.8 1.6-1.7-.1-1.7-.6-1.8 1-1.7 1.6-1.7 .2-1.8-.7-1.7 .5-1.7 1.9-1.8 .9-1.7-.6-1.7 .1-1.8 1.8-1.7 1.5-1.7-.2-1.8-.2-1.7 1.4-1.7 1.8-1.8 .2-1.7-.7-1.7 .7-1.8 1.9-1.7 .7-1.7-.6-1.8 .2-1.7 1.8-1.7 1.3-1.8-.4-1.7-.3-1.7 1.4-1.8 1.6-1.7 .1-1.7-.5-1.8 1-1.7 1.9-1.7 .6-1.8-.7-1.7 .3-1.7 1.9-1.8 1.2-1.7-.3-1.7 0-1.8 1.7-1.7 1.6-1.7-.1-1.8-.7-1.7 1-1.7 1.6-1.8 .4-1.7-.6-1.7 .6-1.8 1.9-1.7 1-1.8-.5-1.7 0-1.7 1.6-1.8 1.3z" fill="#019da4" stroke="#019da4"/>
<path class="h" d="M337.3 240.8l2.5 1.7M339 239.3l2.6 1.9M340.7 237.5l2.6 2.1M342.5 237.5l2.5 2.1M344.2 238.2l2.6 1.9M345.9 237.1l2.6 2M347.7 235.1l2.6 2.1M349.4 234.5l2.6 2.1M351.1 235.3l2.6 1.9M352.9 235l2.6 1.8M354.6 233.1l2.6 2.1M356.3 232.1l2.6 2.1M358.1 232.8l2.6 2.1M359.8 232.9l2.6 2.1M361.5 231.1l2.6 2.3M363.3 229.2l2.6 2.5M365 229.2l2.6 2.5M366.7 229.7l2.6 2.3M368.5 228.5l2.6 2.3M370.2 226.6l2.6 2.3M371.9 226.4l2.6 2.2M373.7 227.3l2.6 2M375.4 226.8l2.6 1.9M377.1 224.6l2.6 2.2M378.9 223.4l2.6 2.4M380.6 223.9l2.6 2.4M382.3 223.7l2.6 2.5M384.1 221.7l2.6 2.9M385.8 220l2.6 3.2M387.5 220.4l2.6 3.1M389.3 220.9l2.6 3M391 219.6l2.6 3M392.7 217.8l2.6 3M394.5 217.7l2.6 2.9M396.2 218.6l2.6 2.6M397.9 217.9l2.6 2.6M399.7 215.9l2.6 2.7M401.4 215.1l2.6 2.8M403.1 215.8l2.6 2.8M404.9 215.5l2.6 2.9M406.6 213.3l2.6 3.3M408.4 211.6l2.5 3.6M410.1 211.9l2.6 3.5M411.8 212.1l2.6 3.5M413.6 210.6l2.5 3.5M415.3 208.8l2.6 3.5M417 209l2.6 3.2M418.8 209.9l2.5 2.9M420.5 209l2.6 2.9M422.2 206.9l2.6 3.1M424 206.3l2.5 3.2M425.7 207.2l2.6 3M427.4 207l2.6 3M429.2 205.2l2.5 3.2M430.9 204.2l2.6 3.2M432.6 204.9l2.6 3.1M434.4 205.2l2.5 2.9M436.1 203.4l2.6 3.1M437.8 201.4l2.6 3.3M439.6 201.2l2.5 3.3M441.3 201.6l2.6 3.2M443 200.3l2.6 3.3M444.8 198.3l2.5 3.3M446.5 197.9l2.6 3.2M448.2 198.7l2.6 2.9M450 198.2l2.5 2.8M451.7 196.2l2.6 2.8M453.4 195.1l2.6 2.7M455.2 195.7l2.5 2.5M456.9 195.9l2.6 2.2M458.6 194.3l2.6 2.2M460.4 192.9l2.5 2.1M462.1 193.4l2.6 1.9M463.8 194.1l2.6 1.7M465.6 192.8l2.5 1.9M467.3 190.7l2.6 2.3M469 190.3l2.6 2.5M470.8 191l2.5 2.5M472.5 190.2l2.6 2.6M474.2 188.2l2.6 2.7M476 187.3l2.5 2.7M477.7 188.1l2.6 2.4M479.4 188l2.6 2.3M481.2 186l2.5 2.4M482.9 184.4l2.6 2.5M484.6 184.7l2.6 2.4M486.4 185.1l2.5 2.3M488.1 183.8l2.6 2.3M489.8 182.1l2.6 2.4M491.6 182.2l2.5 2.3M493.3 183.2l2.6 2M495 182.4l2.6 1.9M496.8 180.2l2.5 2.1M498.5 179.4l2.6 2.1M500.2 180.1l2.6 1.8M502 179.8l2.6 1.8M503.7 177.8l2.6 1.9M505.4 176.6l2.6 1.9M507.2 177.2l2.6 1.7M508.9 177.6l2.6 1.5"/>
<path class="e" d="M337.3 240.8l2.5 1.7M508.9 177.6l2.6 1.5"/>
<path class="e" d="M337.3 240.8l1.7-1.5 1.7-1.8 1.8 0 1.7 .7 1.7-1.1 1.8-2 1.7-.6 1.7 .8 1.8-.3 1.7-1.9 1.7-1 1.8 .7 1.7 .1 1.7-1.8 1.8-1.9 1.7 0 1.7 .5 1.8-1.2 1.7-1.9 1.7-.2 1.8 .9 1.7-.5 1.7-2.2 1.8-1.2 1.7 .5 1.7-.2 1.8-2 1.7-1.7 1.7 .4 1.8 .5 1.7-1.3 1.7-1.8 1.8-.1 1.7 .9 1.7-.7 1.8-2 1.7-.8 1.7 .7 1.8-.3 1.7-2.2 1.8-1.7 1.7 .3 1.7 .2 1.8-1.5 1.7-1.8 1.7 .2 1.8 .9 1.7-.9 1.7-2.1 1.8-.6 1.7 .9 1.7-.2 1.8-1.8 1.7-1 1.7 .7 1.8 .3 1.7-1.8 1.7-2 1.8-.2 1.7 .4 1.7-1.3 1.8-2 1.7-.4 1.7 .8 1.8-.5 1.7-2 1.7-1.1 1.8 .6 1.7 .2 1.7-1.6 1.8-1.4 1.7 .5 1.7 .7 1.8-1.3 1.7-2.1 1.7-.4 1.8 .7 1.7-.8 1.7-2 1.8-.9 1.7 .8 1.7-.1 1.8-2 1.7-1.6 1.7 .3 1.8 .4 1.7-1.3 1.7-1.7 1.8 .1 1.7 1 1.7-.8 1.8-2.2 1.7-.8 1.7 .7 1.8-.3 1.7-2 1.7-1.2 1.8 .6 1.7 .4"/>
<path class="e" d="M339.8 242.5l1.8-1.3 1.7-1.6 1.7 0 1.8 .5 1.7-1 1.8-1.9 1.7-.6 1.7 .6 1.8-.4 1.7-1.6 1.7-1 1.8 .7 1.7 .1 1.7-1.6 1.8-1.7 1.7 0 1.7 .3 1.8-1.2 1.7-1.9 1.7-.3 1.8 .7 1.7-.6 1.7-1.9 1.8-1 1.7 .5 1.7-.1 1.8-1.6 1.7-1.4 1.7 .3 1.8 .4 1.7-1.3 1.7-1.8 1.8-.2 1.7 .6 1.7-.7 1.8-1.9 1.7-.7 1.7 .7 1.8-.2 1.7-1.8 1.7-1.4 1.8 .2 1.7 .2 1.7-1.5 1.8-1.8 1.7-.1 1.7 .6 1.8-.9 1.7-1.9 1.7-.5 1.8 .7 1.7-.2 1.7-1.6 1.8-1 1.7 .6 1.7 .1 1.8-1.6 1.7-1.8 1.7-.2 1.8 .3 1.7-1.2 1.7-2 1.8-.5 1.7 .5 1.7-.6 1.8-2 1.7-1.2 1.7 .4 1.8-.1 1.7-1.6 1.7-1.5 1.8 .3 1.7 .5 1.7-1.1 1.8-1.7 1.7-.2 1.7 .7 1.8-.7 1.7-1.9 1.7-.9 1.8 .5 1.7-.2 1.7-1.9 1.8-1.5 1.7 .2 1.7 .3 1.8-1.3 1.7-1.6 1.7 0 1.8 .7 1.7-.9 1.7-2 1.8-.8 1.7 .4 1.8-.3 1.7-1.9 1.7-1.2 1.8 .4 1.7 .2"/>
<path d="M499.3 182.3l1.8-.8 1.7 .4 1.8-.3 1.7-1.9 1.7-1.2 1.8 .4 1.7 .2 2.6 7.9-1.8 .5-1.7 .4-1.7 1-1.8 1.1-1.7 .7-1.7 .5-1.8 .8z" fill="#019da4" stroke="#019da4"/>
<path d="M495.9 185.2l1.7-.9 1.7-2 2.6 9.7-1.7 1.1-1.7 .8z" fill="#019aaa" stroke="#019aaa"/>
<path d="M480.3 190.5l1.7-.2 1.7-1.9 1.8-1.5 1.7 .2 1.7 .3 1.8-1.3 1.7-1.6 1.7 0 1.8 .7 2.6 8.7-1.8 .2-1.7 .4-1.7 .9-1.8 .7-1.7 .3-1.7 .3-1.8 .9-1.7 1-1.7 .6z" fill="#019da4" stroke="#019da4"/>
<path d="M473.3 193.5l1.8-.7 1.7-1.9 1.7-.9 1.8 .5 2.6 8.7-1.8 .4-1.7 .7-1.7 1.1-1.8 .5z" fill="#019aaa" stroke="#019aaa"/>
<path d="M449.1 201.1l1.7 .5 1.7-.6 1.8-2 1.7-1.2 1.7 .4 1.8-.1 1.7-1.6 1.7-1.5 1.8 .3 1.7 .5 1.7-1.1 1.8-1.7 1.7-.2 1.7 .7 2.6 8.4-1.7 .1-1.7 .3-1.8 .8-1.7 .6-1.7 .2-1.8 .4-1.7 1-1.7 1.1-1.8 .6-1.7 .6-1.7 1-1.8 1.3-1.7 .8-1.7 .4z" fill="#019da4" stroke="#019da4"/>
<path d="M424.8 210l1.7-.5 1.8 .7 1.7-.2 1.7-1.6 1.8-1 1.7 .6 1.7 .1 1.8-1.6 1.7-1.8 1.7-.2 1.8 .3 1.7-1.2 1.7-2 1.8-.5 2.6 10-1.8 .7-1.7 1.1-1.8 .8-1.7 .3-1.7 .4-1.8 .9-1.7 .9-1.7 .5-1.8 .3-1.7 .9-1.7 .9-1.8 .5-1.7 .1-1.7 .4z" fill="#019aaa" stroke="#019aaa"/>
<path d="M417.9 212.3l1.7-.1 1.7 .6 1.8-.9 1.7-1.9 2.6 9.8-1.8 .9-1.7 .7-1.7 .4-1.8 .6z" fill="#019da4" stroke="#019da4"/>
<path d="M391.9 223.9l1.7-1.3 1.7-1.8 1.8-.2 1.7 .6 1.7-.7 1.8-1.9 1.7-.7 1.7 .7 1.8-.2 1.7-1.8 1.7-1.4 1.8 .2 1.7 .2 1.7-1.5 1.8-1.8 2.5 10.1-1.7 1.2-1.7 1-1.8 .4-1.7 .4-1.7 .7-1.8 .9-1.7 .3-1.7 .1-1.8 .5-1.7 1-1.7 .8-1.8 .5-1.7 .7-1.7 1.2-1.8 .9z" fill="#019aaa" stroke="#019aaa"/>
<path d="M367.6 231.7l1.7 .3 1.8-1.2 1.7-1.9 1.7-.3 1.8 .7 1.7-.6 1.7-1.9 1.8-1 1.7 .5 1.7-.1 1.8-1.6 1.7-1.4 1.7 .3 1.8 .4 2.5 9.1-1.7 .2-1.7 .1-1.8 .5-1.7 .7-1.7 .3-1.8 .3-1.7 .7-1.7 1.1-1.8 .7-1.7 .3-1.7 .7-1.8 1-1.7 .9-1.7 .5z" fill="#019da4" stroke="#019da4"/>
<path d="M360.7 234.9l1.7 .1 1.7-1.6 1.8-1.7 1.7 0 2.6 9.3-1.8 .5-1.7 1-1.7 .9-1.8 .2z" fill="#019aaa" stroke="#019aaa"/>
<path d="M339.8 242.5l1.8-1.3 1.7-1.6 1.7 0 1.8 .5 1.7-1 1.8-1.9 1.7-.6 1.7 .6 1.8-.4 1.7-1.6 1.7-1 1.8 .7 2.5 8.7-1.7 .1-1.7 .6-1.8 .8-1.7 .6-1.7 .4-1.8 .8-1.7 1.2-1.7 .8-1.8 .2-1.7 .4-1.7 .7-1.8 .6z" fill="#019da4" stroke="#019da4"/>
<path class="h" d="M339.8 242.5l2.6 8.3M341.6 241.2l2.6 9M343.3 239.6l2.6 9.9M345 239.6l2.6 9.5M346.8 240.1l2.6 8.8M348.5 239.1l2.6 9M350.3 237.2l2.5 9.7M352 236.6l2.6 9.5M353.7 237.2l2.6 8.5M355.5 236.8l2.5 8.3M357.2 235.2l2.6 9.1M358.9 234.2l2.6 9.5M360.7 234.9l2.5 8.7M362.4 235l2.6 8.4M364.1 233.4l2.6 9.1M365.9 231.7l2.5 9.8M367.6 231.7l2.6 9.3M369.3 232l2.6 8.5M371.1 230.8l2.5 8.8M372.8 228.9l2.6 9.7M374.5 228.6l2.6 9.3M376.3 229.3l2.5 8.3M378 228.7l2.6 8.2M379.7 226.8l2.6 9M381.5 225.8l2.5 9.3M383.2 226.3l2.6 8.5M384.9 226.2l2.6 8.3M386.7 224.6l2.5 9.2M388.4 223.2l2.6 10.1M390.1 223.5l2.6 9.7M391.9 223.9l2.5 9.1M393.6 222.6l2.6 9.5M395.3 220.8l2.6 10.1M397.1 220.6l2.5 9.6M398.8 221.2l2.6 8.5M400.5 220.5l2.6 8.4M402.3 218.6l2.5 9.3M404 217.9l2.6 9.5M405.7 218.6l2.6 8.7M407.5 218.4l2.5 8.6M409.2 216.6l2.6 9.5M410.9 215.2l2.6 10.2M412.7 215.4l2.5 9.6M414.4 215.6l2.6 9M416.1 214.1l2.6 9.5M417.9 212.3l2.5 10.1M419.6 212.2l2.6 9.6M421.3 212.8l2.6 8.6M423.1 211.9l2.5 8.8M424.8 210l2.6 9.8M426.5 209.5l2.6 9.9M428.3 210.2l2.5 9.1M430 210l2.6 8.8M431.7 208.4l2.6 9.5M433.5 207.4l2.5 9.6M435.2 208l2.6 8.7M436.9 208.1l2.6 8.1M438.7 206.5l2.5 8.8M440.4 204.7l2.6 9.7M442.1 204.5l2.6 9.5M443.9 204.8l2.5 8.9M445.6 203.6l2.6 9.3M447.3 201.6l2.6 10.2M449.1 201.1l2.6 10M450.8 201.6l2.6 9.1M452.5 201l2.6 8.9M454.3 199l2.6 9.6M456 197.8l2.6 9.8M457.7 198.2l2.6 8.8M459.5 198.1l2.6 8.3M461.2 196.5l2.6 8.8M462.9 195l2.6 9.3M464.7 195.3l2.6 8.6M466.4 195.8l2.6 7.9M468.1 194.7l2.6 8.4M469.9 193l2.6 9.3M471.6 192.8l2.6 9.2M473.3 193.5l2.6 8.4M475.1 192.8l2.6 8.6M476.8 190.9l2.6 9.4M478.5 190l2.6 9.6M480.3 190.5l2.6 8.7M482 190.3l2.6 8.3M483.7 188.4l2.6 9.2M485.5 186.9l2.6 9.8M487.2 187.1l2.6 9.3M488.9 187.4l2.6 8.7M490.7 186.1l2.6 9.3M492.4 184.5l2.6 10M494.1 184.5l2.6 9.6M495.9 185.2l2.6 8.7M497.6 184.3l2.6 8.8M499.3 182.3l2.6 9.7M501.1 181.5l2.6 9.7M502.8 181.9l2.6 8.8M504.6 181.6l2.5 8.4M506.3 179.7l2.6 9.2M508 178.5l2.6 9.4M509.8 178.9l2.5 8.6M511.5 179.1l2.6 7.9"/>
<path class="e" d="M339.8 242.5l2.6 8.3M511.5 179.1l2.6 7.9"/>
<path class="e" d="M339.8 242.5l1.8-1.3 1.7-1.6 1.7 0 1.8 .5 1.7-1 1.8-1.9 1.7-.6 1.7 .6 1.8-.4 1.7-1.6 1.7-1 1.8 .7 1.7 .1 1.7-1.6 1.8-1.7 1.7 0 1.7 .3 1.8-1.2 1.7-1.9 1.7-.3 1.8 .7 1.7-.6 1.7-1.9 1.8-1 1.7 .5 1.7-.1 1.8-1.6 1.7-1.4 1.7 .3 1.8 .4 1.7-1.3 1.7-1.8 1.8-.2 1.7 .6 1.7-.7 1.8-1.9 1.7-.7 1.7 .7 1.8-.2 1.7-1.8 1.7-1.4 1.8 .2 1.7 .2 1.7-1.5 1.8-1.8 1.7-.1 1.7 .6 1.8-.9 1.7-1.9 1.7-.5 1.8 .7 1.7-.2 1.7-1.6 1.8-1 1.7 .6 1.7 .1 1.8-1.6 1.7-1.8 1.7-.2 1.8 .3 1.7-1.2 1.7-2 1.8-.5 1.7 .5 1.7-.6 1.8-2 1.7-1.2 1.7 .4 1.8-.1 1.7-1.6 1.7-1.5 1.8 .3 1.7 .5 1.7-1.1 1.8-1.7 1.7-.2 1.7 .7 1.8-.7 1.7-1.9 1.7-.9 1.8 .5 1.7-.2 1.7-1.9 1.8-1.5 1.7 .2 1.7 .3 1.8-1.3 1.7-1.6 1.7 0 1.8 .7 1.7-.9 1.7-2 1.8-.8 1.7 .4 1.8-.3 1.7-1.9 1.7-1.2 1.8 .4 1.7 .2"/>
<path class="e" d="M342.4 250.8l1.8-.6 1.7-.7 1.7-.4 1.8-.2 1.7-.8 1.7-1.2 1.8-.8 1.7-.4 1.7-.6 1.8-.8 1.7-.6 1.7-.1 1.8-.2 1.7-.9 1.7-1 1.8-.5 1.7-.5 1.7-.9 1.8-1 1.7-.7 1.7-.3 1.8-.7 1.7-1.1 1.7-.7 1.8-.3 1.7-.3 1.7-.7 1.8-.5 1.7-.1 1.7-.2 1.8-.9 1.7-1.2 1.7-.7 1.8-.5 1.7-.8 1.7-1 1.8-.5 1.7-.1 1.7-.3 1.8-.9 1.7-.7 1.7-.4 1.8-.4 1.7-1 1.7-1.2 1.8-.6 1.7-.4 1.7-.7 1.8-.9 1.7-.4 1.7-.1 1.8-.5 1.7-.9 1.7-.9 1.8-.3 1.7-.5 1.7-.9 1.8-.9 1.7-.4 1.7-.3 1.8-.8 1.7-1.1 1.8-.7 1.7-.4 1.7-.8 1.8-1.3 1.7-1 1.7-.6 1.8-.6 1.7-1.1 1.7-1 1.8-.4 1.7-.2 1.7-.6 1.8-.8 1.7-.3 1.7-.1 1.8-.5 1.7-1.1 1.7-.7 1.8-.4 1.7-.6 1.7-1 1.8-.9 1.7-.3 1.7-.3 1.8-.7 1.7-.9 1.7-.4 1.8-.2 1.7-.8 1.7-1.1 1.8-.8 1.7-.5 1.7-.7 1.8-1.1 1.7-1 1.7-.4 1.8-.5"/>
<path d="M342.4 250.8l1.8-.6 1.7-.7 1.7-.4 1.8-.2 1.7-.8 2.6 8.8-1.8 .8-1.7 .3-1.7 .3-1.8 .5-1.7 .5z" fill="#0f95b4" stroke="#0f95b4"/>
<path class="h" d="M342.4 250.8l2.6 8.5M344.2 250.2l2.5 8.6M345.9 249.5l2.6 8.8M347.6 249.1l2.6 8.9M349.4 248.9l2.5 8.8M351.1 248.1l2.6 8.8"/>
<path class="e" d="M342.4 250.8l2.6 8.5"/>
<path class="e" d="M342.4 250.8l1.8-.6 1.7-.7 1.7-.4 1.8-.2 1.7-.8"/>
<path class="e" d="M345 259.3l1.7-.5 1.8-.5 1.7-.3 1.7-.3 1.8-.8"/>
<path d="M345 259.3l1.7-.5 1.8-.5 2.6 .6-1.8 .5-1.7 .4z" fill="#188ebc" stroke="#188ebc"/>
<path class="h" d="M345 259.3l2.6 .5M346.7 258.8l2.6 .6M348.5 258.3l2.6 .6"/>
<path class="e" d="M345 259.3l2.6 .5"/>
<path class="e" d="M345 259.3l1.7-.5 1.8-.5"/>
<path class="e" d="M347.6 259.8l1.7-.4 1.8-.5"/>
<path d="M347.6 259.8l1.7-.4 1.8-.5 1.7-.3 1.7-.3 1.8-.8 1.7-1.2 2.6-8.5-1.8 1.1-1.7 .7-1.7 .3-1.8 .4-1.7 .7-1.7 .6z" fill="#188ebc" stroke="#188ebc"/>
<path class="h" d="M347.6 259.8l2.6-8.2M349.3 259.4l2.6-8.4M351.1 258.9l2.5-8.6M352.8 258.6l2.6-8.7M354.5 258.3l2.6-8.7M356.3 257.5l2.5-8.6M358 256.3l2.6-8.5"/>
<path class="e" d="M347.6 259.8l2.6-8.2"/>
<path class="e" d="M347.6 259.8l1.7-.4 1.8-.5 1.7-.3 1.7-.3 1.8-.8 1.7-1.2"/>
<path class="e" d="M350.2 251.6l1.7-.6 1.7-.7 1.8-.4 1.7-.3 1.7-.7 1.8-1.1"/>
<path d="M350.2 251.6l1.7-.6 1.7-.7 1.8-.4 1.7-.3 2.6-9.3-1.8-.1-1.7 .2-1.7 1.3-1.8 1.2z" fill="#0f95b4" stroke="#0f95b4"/>
<path class="h" d="M350.2 251.6l2.5-8.7M351.9 251l2.6-9.3M353.6 250.3l2.6-9.9M355.4 249.9l2.5-9.7M357.1 249.6l2.6-9.3"/>
<path class="e" d="M350.2 251.6l2.5-8.7"/>
<path class="e" d="M350.2 251.6l1.7-.6 1.7-.7 1.8-.4 1.7-.3"/>
<path class="e" d="M352.7 242.9l1.8-1.2 1.7-1.3 1.7-.2 1.8 .1"/>
<path d="M515.7 182l1.7-.5 1.8-1.4 1.7-1 2.6-1.4-1.7 1.4-1.8 2.3-1.7 .3z" fill="#019da4" stroke="#019da4"/>
<path d="M508.8 185.3l1.7-.8 1.7-1.6 1.8-.9 2.6-1.1-1.8 1.1-1.7 2.6-1.7 1.1z" fill="#019da4" stroke="#019da4"/>
<path d="M442.9 207.9l1.7-1.3 1.8-.7 1.7 .2 1.7 .1 1.8-1 1.7-1.2 1.7-.1 1.8 .3 1.7-.8 1.7-1.3 1.8-.3 1.7 .4 1.7-.3 1.8-1.3 1.7-.7 1.7 .2 1.8-.2 1.7-1.4 1.7-1.4 1.8-.3 1.7-.2 1.7-1.3 1.8-1.6 1.7-.6 1.7 0 1.8-.8 1.7-1.6 1.7-.9 1.8 .1 1.7-.4 1.7-1.4 1.8-1.2 1.7 0 1.7 .1 1.8-.9 1.7-1.1 2.6-.6-1.7 2.1-1.8 1.6-1.7-.6-1.7-.5-1.8 1.9-1.7 2.4-1.7 .2-1.8-.8-1.7 1.2-1.7 2.6-1.8 1-1.7-.8-1.7 .6-1.8 2.7-1.7 1.8-1.7-.4-1.8-.1-1.7 2.1-1.7 2.1-1.8-.3-1.7-1.1-1.8 1-1.7 2.1-1.7 .2-1.8-1.2-1.7 .3-1.7 2.4-1.8 1.3-1.7-.7-1.7-.2-1.8 2.1-1.7 1.9-1.7-.5-1.8-1.1-1.7 1.1-1.7 2.2z" fill="#019da4" stroke="#019da4"/>
<path d="M437.7 208.8l1.7-.7 1.8 .2 1.7-.4 2.6 5.1-1.8 .3-1.7-.9-1.7 .9z" fill="#099f9e" stroke="#099f9e"/>
<path d="M396.1 226.3l1.7-.3 1.8-1.4 1.7-1.3 1.7-.1 1.8 0 1.7-1.1 1.7-1.3 1.8-.4 1.7 .1 1.7-.7 1.8-1.5 1.7-.8 1.7 .1 1.8-.4 1.7-1.4 1.7-1.2 1.8 0 1.7-.2 1.7-1.2 1.8-1.5 1.7-.4 1.7 0 1.8-.9 1.7-1.6 2.6 4.5-1.8 2.7-1.7 1.1-1.7-1-1.8-.3-1.7 2-1.7 1.6-1.8-.8-1.7-.7-1.7 1.6-1.8 2.2-1.7 0-1.7-1.2-1.8 .8-1.7 2.1-1.7 .6-1.8-1.5-1.7-.3-1.7 1.8-1.8 1.3-1.7-1-1.7-.7-1.8 1.7-1.7 2-1.7-.2z" fill="#019da4" stroke="#019da4"/>
<path d="M389.2 229.1l1.7-.5 1.7-1.4 1.8-.9 2.5-.4-1.7 1-1.7 2.1-1.8 .2z" fill="#019da4" stroke="#019da4"/>
<path d="M382.2 231.1l1.8-.8 1.7-1.3 2.6-1.5-1.8 2-1.7 1.1z" fill="#019da4" stroke="#019da4"/>
<path d="M375.3 234.1l1.7-1.4 1.8-1.4 2.5-2.1-1.7 2-1.7 2.2z" fill="#019da4" stroke="#019da4"/>
<path d="M366.6 237.7l1.7-.6 1.8-1.5 2.6-1.6-1.8 2.4-1.7 .3z" fill="#019da4" stroke="#019da4"/>
<path d="M361.4 239.5l1.7-1.5 2.6-2.1-1.7 2.2z" fill="#019da4" stroke="#019da4"/>
<path d="M352.7 242.9l1.8-1.2 1.7-1.3 2.6-2.2-1.7 2.2-1.8 2z" fill="#019da4" stroke="#019da4"/>
<path class="h" d="M352.7 242.9l2.6-.5M354.5 241.7l2.6-1.3M356.2 240.4l2.6-2.2M361.4 239.5l2.6-1.4M363.1 238l2.6-2.1M366.6 237.7l2.6-1M368.3 237.1l2.6-.7M370.1 235.6l2.6-1.6M375.3 234.1l2.6-.7M377 232.7l2.6-1.5M378.8 231.3l2.5-2.1M382.2 231.1l2.6-.5M384 230.3l2.5-.8M385.7 229l2.6-1.5M389.2 229.1l2.5 .1M390.9 228.6l2.6 .4M392.6 227.2l2.6-.3M394.4 226.3l2.5-.4M396.1 226.3l2.6 .8M397.8 226l2.6 1.3M399.6 224.6l2.5 .7M401.3 223.3l2.6 .3M403 223.2l2.6 1.1M404.8 223.2l2.5 2.1M406.5 222.1l2.6 1.9M408.2 220.8l2.6 1.4M410 220.4l2.5 2.1M411.7 220.5l2.6 3.5M413.4 219.8l2.6 3.6M415.2 218.3l2.5 3M416.9 217.5l2.6 3M418.6 217.6l2.6 4.1M420.4 217.2l2.5 4.5M422.1 215.8l2.6 3.7M423.8 214.6l2.6 3.3M425.6 214.6l2.5 4M427.3 214.4l2.6 5M429 213.2l2.6 4.6M430.8 211.7l2.5 4.1M432.5 211.3l2.6 4.8M434.2 211.3l2.6 5.8M436 210.4l2.5 5.6M437.7 208.8l2.6 4.5M439.4 208.1l2.6 4.3M441.2 208.3l2.5 5M442.9 207.9l2.6 5.1M444.6 206.6l2.6 4.2M446.4 205.9l2.5 3.8M448.1 206.1l2.6 4.7M449.8 206.2l2.6 5.1M451.6 205.2l2.5 4.2M453.3 204l2.6 3.3M455 203.9l2.6 3.6M456.8 204.2l2.5 4M458.5 203.4l2.6 3.5M460.2 202.1l2.6 2.4M462 201.8l2.5 2.4M463.7 202.2l2.6 3.2M465.4 201.9l2.6 3.3M467.2 200.6l2.5 2.5M468.9 199.9l2.6 2.2M470.6 200.1l2.6 3.1M472.4 199.9l2.6 3.6M474.1 198.5l2.6 2.9M475.8 197.1l2.6 2.2M477.6 196.8l2.6 2.6M479.3 196.6l2.6 3.2M481 195.3l2.6 2.7M482.8 193.7l2.6 1.6M484.5 193.1l2.6 1.6M486.2 193.1l2.6 2.4M488 192.3l2.6 2.2M489.7 190.7l2.6 1.2M491.4 189.8l2.6 .9M493.2 189.9l2.6 1.6M494.9 189.5l2.6 1.8M496.6 188.1l2.6 .8M498.4 186.9l2.6 .1M500.1 186.9l2.6 .6M501.8 187l2.6 1.1M503.6 186.1l2.6 .4M505.3 185l2.6-.6M508.8 185.3l2.6 .4M510.5 184.5l2.6 .1M512.2 182.9l2.6-.9M514 182l2.6-1.1M515.7 182l2.6-.3M517.4 181.5l2.6-.1M519.2 180.1l2.6-1M520.9 179.1l2.6-1.4"/>
<path class="e" d="M352.7 242.9l2.6-.5"/>
<path class="e" d="M352.7 242.9l1.8-1.2 1.7-1.3M361.4 239.5l1.7-1.5M366.6 237.7l1.7-.6 1.8-1.5M375.3 234.1l1.7-1.4 1.8-1.4M382.2 231.1l1.8-.8 1.7-1.3M389.2 229.1l1.7-.5 1.7-1.4 1.8-.9M396.1 226.3l1.7-.3 1.8-1.4 1.7-1.3 1.7-.1 1.8 0 1.7-1.1 1.7-1.3 1.8-.4 1.7 .1 1.7-.7 1.8-1.5 1.7-.8 1.7 .1 1.8-.4 1.7-1.4 1.7-1.2 1.8 0 1.7-.2 1.7-1.2 1.8-1.5 1.7-.4 1.7 0 1.8-.9 1.7-1.6 1.7-.7 1.8 .2 1.7-.4 1.7-1.3 1.8-.7 1.7 .2 1.7 .1 1.8-1 1.7-1.2 1.7-.1 1.8 .3 1.7-.8 1.7-1.3 1.8-.3 1.7 .4 1.7-.3 1.8-1.3 1.7-.7 1.7 .2 1.8-.2 1.7-1.4 1.7-1.4 1.8-.3 1.7-.2 1.7-1.3 1.8-1.6 1.7-.6 1.7 0 1.8-.8 1.7-1.6 1.7-.9 1.8 .1 1.7-.4 1.7-1.4 1.8-1.2 1.7 0 1.7 .1 1.8-.9 1.7-1.1M508.8 185.3l1.7-.8 1.7-1.6 1.8-.9M515.7 182l1.7-.5 1.8-1.4 1.7-1"/>
<path class="e" d="M355.3 242.4l1.8-2 1.7-2.2M364 238.1l1.7-2.2M369.2 236.7l1.7-.3 1.8-2.4M377.9 233.4l1.7-2.2 1.7-2M384.8 230.6l1.7-1.1 1.8-2M391.7 229.2l1.8-.2 1.7-2.1 1.7-1M398.7 227.1l1.7 .2 1.7-2 1.8-1.7 1.7 .7 1.7 1 1.8-1.3 1.7-1.8 1.7 .3 1.8 1.5 1.7-.6 1.7-2.1 1.8-.8 1.7 1.2 1.7 0 1.8-2.2 1.7-1.6 1.7 .7 1.8 .8 1.7-1.6 1.7-2 1.8 .3 1.7 1 1.7-1.1 1.8-2.7 1.7-.9 1.7 .9 1.8-.3 1.7-2.2 1.7-1.1 1.8 1.1 1.7 .5 1.7-1.9 1.8-2.1 1.7 .2 1.7 .7 1.8-1.3 1.7-2.4 1.7-.3 1.8 1.2 1.7-.2 1.7-2.1 1.8-1 1.7 1.1 1.8 .3 1.7-2.1 1.7-2.1 1.8 .1 1.7 .4 1.7-1.8 1.8-2.7 1.7-.6 1.7 .8 1.8-1 1.7-2.6 1.7-1.2 1.8 .8 1.7-.2 1.7-2.4 1.8-1.9 1.7 .5 1.7 .6 1.8-1.6 1.7-2.1M511.4 185.7l1.7-1.1 1.7-2.6 1.8-1.1M518.3 181.7l1.7-.3 1.8-2.3 1.7-1.4"/>
<path d="M485.4 195.3l1.7-.6 1.7 .8 1.8-1 1.7-2.6 1.7-1.2 1.8 .8 1.7-.2 1.7-2.4 1.8-1.9 1.7 .5 1.7 .6 1.8-1.6 1.7-2.1 1.7 .2 1.8 1.1 1.7-1.1 1.7-2.6 1.8-1.1 1.7 .8 1.7-.3 1.8-2.3 1.7-1.4 1.7 .9 1.8 .8 2.5 11.3-1.7 0-1.7-.2-1.8 1.3-1.7 2-1.7 .7-1.8 .1-1.7 1.2-1.7 2.2-1.8 1.2-1.7-.1-1.7 .4-1.8 1.8-1.7 1.6-1.7 .1-1.8 .3-1.7 1.8-1.7 2-1.8 .7-1.7 0-1.7 1.2-1.8 2.1-1.7 1.2-1.7 0-1.8 .9z" fill="#019da4" stroke="#019da4"/>
<path d="M416 223.4l1.7-2.1 1.8-.8 1.7 1.2 1.7 0 1.8-2.2 1.7-1.6 1.7 .7 1.8 .8 1.7-1.6 1.7-2 1.8 .3 1.7 1 1.7-1.1 1.8-2.7 1.7-.9 1.7 .9 1.8-.3 1.7-2.2 1.7-1.1 1.8 1.1 1.7 .5 1.7-1.9 1.8-2.1 1.7 .2 1.7 .7 1.8-1.3 1.7-2.4 1.7-.3 1.8 1.2 1.7-.2 1.7-2.1 1.8-1 1.7 1.1 1.8 .3 1.7-2.1 1.7-2.1 1.8 .1 1.7 .4 1.7-1.8 1.8-2.7 2.5 17.9-1.7 2.2-1.7 1.7-1.8 .3-1.7 .4-1.7 1.9-1.8 1.7-1.7 .2-1.7-.3-1.8 .9-1.7 1.7-1.7 .7-1.8-.3-1.7 .8-1.7 2.1-1.8 1.4-1.7 .2-1.7 .6-1.8 1.9-1.7 1.8-1.7 .1-1.8-.2-1.7 1.2-1.7 1.8-1.8 .8-1.7 0-1.7 1.2-1.8 2-1.7 .9-1.7-.6-1.8-.4-1.7 .9-1.7 .8-1.8-.6-1.7-.6-1.7 .9-1.8 1.3-1.7-.1-1.7-.9-1.8 .2-1.7 1.1z" fill="#019aaa" stroke="#019aaa"/>
<path d="M390 227.7l1.7 1.5 1.8-.2 1.7-2.1 1.7-1 1.8 1.2 1.7 .2 1.7-2 1.8-1.7 1.7 .7 1.7 1 1.8-1.3 1.7-1.8 1.7 .3 1.8 1.5 1.7-.6 2.6 19.5-1.8 .1-1.7-1.3-1.7-.5-1.8 .8-1.7 .3-1.7-1.1-1.8-.9-1.7 .6-1.7 .8-1.8-.4-1.7-.9-1.7 .4-1.8 1.1-1.7 0-1.7-1.1z" fill="#019da4" stroke="#019da4"/>
<path d="M355.3 242.4l1.8-2 1.7-2.2 1.7 .1 1.8 .9 1.7-1.1 1.7-2.2 1.8-.4 1.7 1.2 1.7-.3 1.8-2.4 1.7-1.5 1.7 .7 1.8 .2 1.7-2.2 1.7-2 1.8 .4 1.7 1 1.7-1.1 1.8-2 1.7 .2 2.6 13.1-1.8-.3-1.7 1.1-1.7 .6-1.8-.6-1.7-.1-1.7 1.4-1.8 1.5-1.7 .2-1.7-.3-1.8 1.2-1.7 1.7-1.7 .4-1.8-.5-1.7 .4-1.7 1.6-1.8 1-1.7-.3-1.7 .3-1.8 1.8-1.7 1.6z" fill="#099f9e" stroke="#099f9e"/>
<path class="h" d="M355.3 242.4l2.6 11.1M357.1 240.4l2.5 11.5M358.8 238.2l2.6 11.9M360.5 238.3l2.6 11.5M362.3 239.2l2.5 10.9M364 238.1l2.6 11M365.7 235.9l2.6 11.6M367.5 235.5l2.5 11.6M369.2 236.7l2.6 10.9M370.9 236.4l2.6 10.8M372.7 234l2.5 11.5M374.4 232.5l2.6 11.8M376.1 233.2l2.6 11.4M377.9 233.4l2.5 11M379.6 231.2l2.6 11.7M381.3 229.2l2.6 12.3M383.1 229.6l2.5 12M384.8 230.6l2.6 11.6M386.5 229.5l2.6 12.1M388.3 227.5l2.5 13M390 227.7l2.6 13.1M391.7 229.2l2.6 12.7M393.5 229l2.5 12.9M395.2 226.9l2.6 13.9M396.9 225.9l2.6 14.5M398.7 227.1l2.5 14.2M400.4 227.3l2.6 14.4M402.1 225.3l2.6 15.6M403.9 223.6l2.5 16.7M405.6 224.3l2.6 16.9M407.3 225.3l2.6 17M409.1 224l2.5 18M410.8 222.2l2.6 19M412.5 222.5l2.6 19.2M414.3 224l2.5 19M416 223.4l2.6 19.5M417.7 221.3l2.6 20.5M419.5 220.5l2.6 21.1M421.2 221.7l2.6 20.8M422.9 221.7l2.6 20.9M424.7 219.5l2.6 21.8M426.4 217.9l2.6 22.5M428.1 218.6l2.6 22.4M429.9 219.4l2.6 22.2M431.6 217.8l2.6 23M433.3 215.8l2.6 24.1M435.1 216.1l2.6 24.2M436.8 217.1l2.6 23.8M438.5 216l2.6 24M440.3 213.3l2.6 24.7M442 212.4l2.6 24.4M443.7 213.3l2.6 23.5M445.5 213l2.6 23M447.2 210.8l2.6 23.4M448.9 209.7l2.6 23.3M450.7 210.8l2.6 22.4M452.4 211.3l2.6 21.8M454.1 209.4l2.6 21.9M455.9 207.3l2.6 22.1M457.6 207.5l2.6 21.3M459.3 208.2l2.6 20.4M461.1 206.9l2.6 20.3M462.8 204.5l2.6 20.6M464.5 204.2l2.6 20.1M466.3 205.4l2.6 19.2M468 205.2l2.6 18.7M469.7 203.1l2.6 19.1M471.5 202.1l2.6 19.2M473.2 203.2l2.6 18.4M475 203.5l2.5 17.9M476.7 201.4l2.6 18.3M478.4 199.3l2.6 18.5M480.2 199.4l2.5 18M481.9 199.8l2.6 17.3M483.6 198l2.6 17.4M485.4 195.3l2.5 17.9M487.1 194.7l2.6 17.6M488.8 195.5l2.6 16.8M490.6 194.5l2.5 16.6M492.3 191.9l2.6 17.1M494 190.7l2.6 17.1M495.8 191.5l2.5 16.3M497.5 191.3l2.6 15.8M499.2 188.9l2.6 16.2M501 187l2.5 16.3M502.7 187.5l2.6 15.5M504.4 188.1l2.6 14.8M506.2 186.5l2.5 14.8M507.9 184.4l2.6 15.1M509.6 184.6l2.6 14.5M511.4 185.7l2.5 13.5M513.1 184.6l2.6 13.4M514.8 182l2.6 13.8M516.6 180.9l2.5 13.7M518.3 181.7l2.6 12.8M520 181.4l2.6 12.4M521.8 179.1l2.5 12.7M523.5 177.7l2.6 12.8M525.2 178.6l2.6 12.1M527 179.4l2.5 11.3"/>
<path class="e" d="M355.3 242.4l2.6 11.1M527 179.4l2.5 11.3"/>
<path class="e" d="M355.3 242.4l1.8-2 1.7-2.2 1.7 .1 1.8 .9 1.7-1.1 1.7-2.2 1.8-.4 1.7 1.2 1.7-.3 1.8-2.4 1.7-1.5 1.7 .7 1.8 .2 1.7-2.2 1.7-2 1.8 .4 1.7 1 1.7-1.1 1.8-2 1.7 .2 1.7 1.5 1.8-.2 1.7-2.1 1.7-1 1.8 1.2 1.7 .2 1.7-2 1.8-1.7 1.7 .7 1.7 1 1.8-1.3 1.7-1.8 1.7 .3 1.8 1.5 1.7-.6 1.7-2.1 1.8-.8 1.7 1.2 1.7 0 1.8-2.2 1.7-1.6 1.7 .7 1.8 .8 1.7-1.6 1.7-2 1.8 .3 1.7 1 1.7-1.1 1.8-2.7 1.7-.9 1.7 .9 1.8-.3 1.7-2.2 1.7-1.1 1.8 1.1 1.7 .5 1.7-1.9 1.8-2.1 1.7 .2 1.7 .7 1.8-1.3 1.7-2.4 1.7-.3 1.8 1.2 1.7-.2 1.7-2.1 1.8-1 1.7 1.1 1.8 .3 1.7-2.1 1.7-2.1 1.8 .1 1.7 .4 1.7-1.8 1.8-2.7 1.7-.6 1.7 .8 1.8-1 1.7-2.6 1.7-1.2 1.8 .8 1.7-.2 1.7-2.4 1.8-1.9 1.7 .5 1.7 .6 1.8-1.6 1.7-2.1 1.7 .2 1.8 1.1 1.7-1.1 1.7-2.6 1.8-1.1 1.7 .8 1.7-.3 1.8-2.3 1.7-1.4 1.7 .9 1.8 .8"/>
<path class="e" d="M357.9 253.5l1.7-1.6 1.8-1.8 1.7-.3 1.7 .3 1.8-1 1.7-1.6 1.7-.4 1.8 .5 1.7-.4 1.7-1.7 1.8-1.2 1.7 .3 1.7-.2 1.8-1.5 1.7-1.4 1.7 .1 1.8 .6 1.7-.6 1.7-1.1 1.8 .3 1.7 1.1 1.7 0 1.8-1.1 1.7-.4 1.7 .9 1.8 .4 1.7-.8 1.7-.6 1.8 .9 1.7 1.1 1.7-.3 1.8-.8 1.7 .5 1.7 1.3 1.8-.1 1.7-1.1 1.8-.2 1.7 .9 1.7 .1 1.8-1.3 1.7-.9 1.7 .6 1.8 .6 1.7-.8 1.7-.9 1.8 .4 1.7 .6 1.7-.9 1.8-2 1.7-1.2 1.7 0 1.8-.8 1.7-1.8 1.7-1.2 1.8 .2 1.7-.1 1.7-1.8 1.8-1.9 1.7-.6 1.7-.2 1.8-1.4 1.7-2.1 1.7-.8 1.8 .3 1.7-.7 1.7-1.7 1.8-.9 1.7 .3 1.7-.2 1.8-1.7 1.7-1.9 1.7-.4 1.8-.3 1.7-1.7 1.7-2.2 1.8-.9 1.7 0 1.7-1.2 1.8-2.1 1.7-1.2 1.7 0 1.8-.7 1.7-2 1.7-1.8 1.8-.3 1.7-.1 1.7-1.6 1.8-1.8 1.7-.4 1.7 .1 1.8-1.2 1.7-2.2 1.7-1.2 1.8-.1 1.7-.7 1.7-2 1.8-1.3 1.7 .2 1.7 0"/>
<path d="M515.7 198l1.7-2.2 1.7-1.2 1.8-.1 1.7-.7 1.7-2 1.8-1.3 1.7 .2 1.7 0 2.6 20.4-1.7 .9-1.7 .9-1.8 1.4-1.7 1.6-1.7 1.3-1.8 1.1-1.7 1.5-1.7 1.8z" fill="#0f95b4" stroke="#0f95b4"/>
<path d="M498.3 207.8l1.8-.7 1.7-2 1.7-1.8 1.8-.3 1.7-.1 1.7-1.6 1.8-1.8 1.7-.4 1.7 .1 1.8-1.2 2.6 23.6-1.8 1.5-1.7 1-1.8 1.2-1.7 1.6-1.7 1.5-1.8 1.1-1.7 1.1-1.7 1.6-1.8 1.6-1.7 1.2z" fill="#1492b8" stroke="#1492b8"/>
<path d="M484.5 217.1l1.7-1.7 1.7-2.2 1.8-.9 1.7 0 1.7-1.2 1.8-2.1 1.7-1.2 1.7 0 2.6 27.2-1.7 .9-1.8 1.4-1.7 1.6-1.7 1.2-1.8 .9-1.7 1.2-1.7 1.7-1.8 1.5z" fill="#188ebc" stroke="#188ebc"/>
<path d="M460.2 228.8l1.7-.2 1.8-1.4 1.7-2.1 1.7-.8 1.8 .3 1.7-.7 1.7-1.7 1.8-.9 1.7 .3 1.7-.2 1.8-1.7 1.7-1.9 1.7-.4 1.8-.3 2.5 28.3-1.7 1-1.7 1.1-1.8 1.6-1.7 1.4-1.7 .9-1.8 .7-1.7 1.1-1.7 1.4-1.8 1.1-1.7 1-1.7 1.3-1.8 1.9-1.7 1.7-1.7 1.2z" fill="#1b8abe" stroke="#1b8abe"/>
<path d="M427.3 241.3l1.7-.9 1.7 .6 1.8 .6 1.7-.8 1.7-.9 1.8 .4 1.7 .6 1.7-.9 1.8-2 1.7-1.2 1.7 0 1.8-.8 1.7-1.8 1.7-1.2 1.8 .2 1.7-.1 1.7-1.8 1.8-1.9 1.7-.6 2.6 34-1.8 1.4-1.7 1.7-1.7 1.7-1.8 1-1.7 1-1.7 1.3-1.8 1.7-1.7 1.4-1.7 1.1-1.8 1.4-1.7 1.4-1.7 .6-1.8-.4-1.7-.5-1.7-.2-1.8-.3-1.7-.6-1.7-.4-1.8 0z" fill="#1e86c0" stroke="#1e86c0"/>
<path d="M416.8 243l1.8-.1 1.7-1.1 1.8-.2 1.7 .9 1.7 .1 1.8-1.3 2.5 34.8-1.7 .2-1.7-.5-1.8-.7-1.7-.5-1.7-.2-1.8-.5z" fill="#1b8abe" stroke="#1b8abe"/>
<path d="M408.2 241.2l1.7 1.1 1.7-.3 1.8-.8 1.7 .5 1.7 1.3 2.6 30.9-1.7-.9-1.7-.8-1.8-.4-1.7-.8-1.7-1.4z" fill="#188ebc" stroke="#188ebc"/>
<path d="M399.5 240.4l1.7 .9 1.8 .4 1.7-.8 1.7-.6 1.8 .9 2.6 28.4-1.8-1.5-1.7-1-1.7-.7-1.8-.8-1.7-.8z" fill="#1492b8" stroke="#1492b8"/>
<path d="M389.1 241.6l1.7-1.1 1.8 .3 1.7 1.1 1.7 0 1.8-1.1 1.7-.4 2.6 24.4-1.7-.3-1.8 .2-1.7-.3-1.7-.7-1.8-.4-1.7 .2z" fill="#0f95b4" stroke="#0f95b4"/>
<path d="M359.6 251.9l1.8-1.8 1.7-.3 1.7 .3 1.8-1 1.7-1.6 1.7-.4 1.8 .5 1.7-.4 1.7-1.7 1.8-1.2 1.7 .3 1.7-.2 1.8-1.5 1.7-1.4 1.7 .1 1.8 .6 1.7-.6 2.6 21.9-1.7 .1-1.8-.2-1.7 .1-1.7 .6-1.8 .8-1.7 .3-1.7 .2-1.8 .7-1.7 1-1.7 .5-1.8 .3-1.7 .6-1.7 1.1-1.8 .8-1.7 .5-1.7 .7-1.8 1.1z" fill="#0698af" stroke="#0698af"/>
<path d="M357.9 253.5l1.7-1.6 2.6 20.8-1.7 1.2z" fill="#0f95b4" stroke="#0f95b4"/>
<path class="h" d="M357.9 253.5l2.6 20.4M359.6 251.9l2.6 20.8M361.4 250.1l2.6 21.5M363.1 249.8l2.6 21.1M364.8 250.1l2.6 20.3M366.6 249.1l2.6 20.5M368.3 247.5l2.6 21M370 247.1l2.6 20.8M371.8 247.6l2.6 20M373.5 247.2l2.6 19.9M375.2 245.5l2.6 20.6M377 244.3l2.6 21.1M378.7 244.6l2.6 20.6M380.4 244.4l2.6 20.5M382.2 242.9l2.6 21.2M383.9 241.5l2.6 22M385.6 241.6l2.6 21.8M387.4 242.2l2.6 21.4M389.1 241.6l2.6 21.9M390.8 240.5l2.6 22.8M392.6 240.8l2.6 22.9M394.3 241.9l2.6 22.5M396 241.9l2.6 22.8M397.8 240.8l2.6 23.7M399.5 240.4l2.6 24.4M401.2 241.3l2.6 24.3M403 241.7l2.6 24.7M404.7 240.9l2.6 26.2M406.4 240.3l2.6 27.8M408.2 241.2l2.6 28.4M409.9 242.3l2.6 28.7M411.6 242l2.6 29.8M413.4 241.2l2.6 31M415.1 241.7l2.6 31.3M416.8 243l2.6 30.9M418.6 242.9l2.6 31.5M420.3 241.8l2.6 32.8M422.1 241.6l2.5 33.5M423.8 242.5l2.6 33.3M425.5 242.6l2.6 33.7M427.3 241.3l2.5 34.8M429 240.4l2.6 35.7M430.7 241l2.6 35.5M432.5 241.6l2.5 35.5M434.2 240.8l2.6 36.6M435.9 239.9l2.6 37.7M437.7 240.3l2.5 37.8M439.4 240.9l2.6 37.6M441.1 240l2.6 37.9M442.9 238l2.5 38.5M444.6 236.8l2.6 38.3M446.3 236.8l2.6 37.2M448.1 236l2.5 36.6M449.8 234.2l2.6 36.7M451.5 233l2.6 36.6M453.3 233.2l2.5 35.4M455 233.1l2.6 34.5M456.7 231.3l2.6 34.6M458.5 229.4l2.5 34.8M460.2 228.8l2.6 34M461.9 228.6l2.6 33M463.7 227.2l2.5 32.7M465.4 225.1l2.6 32.9M467.1 224.3l2.6 32.4M468.9 224.6l2.5 31.1M470.6 223.9l2.6 30.7M472.3 222.2l2.6 31M474.1 221.3l2.5 30.8M475.8 221.6l2.6 29.8M477.5 221.4l2.6 29.1M479.3 219.7l2.5 29.4M481 217.8l2.6 29.7M482.7 217.4l2.6 29M484.5 217.1l2.5 28.3M486.2 215.4l2.6 28.5M487.9 213.2l2.6 29M489.7 212.3l2.5 28.7M491.4 212.3l2.6 27.8M493.1 211.1l2.6 27.8M494.9 209l2.5 28.3M496.6 207.8l2.6 28.1M498.3 207.8l2.6 27.2M500.1 207.1l2.5 26.7M501.8 205.1l2.6 27.1M503.5 203.3l2.6 27.3M505.3 203l2.5 26.5M507 202.9l2.6 25.5M508.7 201.3l2.6 25.6M510.5 199.5l2.5 25.8M512.2 199.1l2.6 25M513.9 199.2l2.6 23.9M515.7 198l2.6 23.6M517.4 195.8l2.6 24M519.1 194.6l2.6 23.7M520.9 194.5l2.6 22.7M522.6 193.8l2.6 22.1M524.3 191.8l2.6 22.5M526.1 190.5l2.6 22.4M527.8 190.7l2.6 21.3M529.5 190.7l2.6 20.4"/>
<path class="e" d="M357.9 253.5l2.6 20.4M529.5 190.7l2.6 20.4"/>
<path class="e" d="M357.9 253.5l1.7-1.6 1.8-1.8 1.7-.3 1.7 .3 1.8-1 1.7-1.6 1.7-.4 1.8 .5 1.7-.4 1.7-1.7 1.8-1.2 1.7 .3 1.7-.2 1.8-1.5 1.7-1.4 1.7 .1 1.8 .6 1.7-.6 1.7-1.1 1.8 .3 1.7 1.1 1.7 0 1.8-1.1 1.7-.4 1.7 .9 1.8 .4 1.7-.8 1.7-.6 1.8 .9 1.7 1.1 1.7-.3 1.8-.8 1.7 .5 1.7 1.3 1.8-.1 1.7-1.1 1.8-.2 1.7 .9 1.7 .1 1.8-1.3 1.7-.9 1.7 .6 1.8 .6 1.7-.8 1.7-.9 1.8 .4 1.7 .6 1.7-.9 1.8-2 1.7-1.2 1.7 0 1.8-.8 1.7-1.8 1.7-1.2 1.8 .2 1.7-.1 1.7-1.8 1.8-1.9 1.7-.6 1.7-.2 1.8-1.4 1.7-2.1 1.7-.8 1.8 .3 1.7-.7 1.7-1.7 1.8-.9 1.7 .3 1.7-.2 1.8-1.7 1.7-1.9 1.7-.4 1.8-.3 1.7-1.7 1.7-2.2 1.8-.9 1.7 0 1.7-1.2 1.8-2.1 1.7-1.2 1.7 0 1.8-.7 1.7-2 1.7-1.8 1.8-.3 1.7-.1 1.7-1.6 1.8-1.8 1.7-.4 1.7 .1 1.8-1.2 1.7-2.2 1.7-1.2 1.8-.1 1.7-.7 1.7-2 1.8-1.3 1.7 .2 1.7 0"/>
<path class="e" d="M360.5 273.9l1.7-1.2 1.8-1.1 1.7-.7 1.7-.5 1.8-.8 1.7-1.1 1.7-.6 1.8-.3 1.7-.5 1.7-1 1.8-.7 1.7-.2 1.7-.3 1.8-.8 1.7-.6 1.7-.1 1.8 .2 1.7-.1 1.7-.2 1.8 .4 1.7 .7 1.7 .3 1.8-.2 1.7 .3 1.7 .8 1.8 .8 1.7 .7 1.7 1 1.8 1.5 1.7 1.4 1.7 .8 1.8 .4 1.7 .8 1.7 .9 1.8 .5 1.7 .2 1.7 .5 1.8 .7 1.7 .5 1.7-.2 1.8 0 1.7 .4 1.7 .6 1.8 .3 1.7 .2 1.7 .5 1.8 .4 1.7-.6 1.7-1.4 1.8-1.4 1.7-1.1 1.7-1.4 1.8-1.7 1.7-1.3 1.7-1 1.8-1 1.7-1.7 1.7-1.7 1.8-1.4 1.7-1.2 1.7-1.7 1.8-1.9 1.7-1.3 1.7-1 1.8-1.1 1.7-1.4 1.7-1.1 1.8-.7 1.7-.9 1.7-1.4 1.8-1.6 1.7-1.1 1.7-1 1.8-1.5 1.7-1.7 1.7-1.2 1.8-.9 1.7-1.2 1.7-1.6 1.8-1.4 1.7-.9 1.7-1.2 1.8-1.6 1.7-1.6 1.7-1.1 1.8-1.1 1.7-1.5 1.7-1.6 1.8-1.2 1.7-1 1.8-1.5 1.7-1.8 1.7-1.5 1.8-1.1 1.7-1.3 1.7-1.6 1.8-1.4 1.7-.9 1.7-.9"/>
<path d="M521.7 218.3l1.8-1.1 1.7-1.3 1.7-1.6 1.8-1.4 1.7-.9 1.7-.9 2.6 25.5-1.7 1.6-1.8 1.4-1.7 1.9-1.7 2-1.8 1.6-1.7 1.6z" fill="#217ec5" stroke="#217ec5"/>
<path d="M514.8 224.1l1.7-1 1.8-1.5 1.7-1.8 1.7-1.5 2.6 28.4-1.7 1.8-1.8 2.1-1.7 1.9-1.7 1.6z" fill="#247ac8" stroke="#247ac8"/>
<path d="M504.4 232.2l1.7-1.6 1.7-1.1 1.8-1.1 1.7-1.5 1.7-1.6 1.8-1.2 2.6 30-1.8 1.8-1.7 2-1.7 2-1.8 1.5-1.7 1.4-1.7 1.8z" fill="#2676cc" stroke="#2676cc"/>
<path d="M495.7 238.9l1.7-1.6 1.8-1.4 1.7-.9 1.7-1.2 1.8-1.6 2.6 32.4-1.8 1.8-1.7 1.5-1.7 1.3-1.8 1.6-1.7 1.7z" fill="#2671cf" stroke="#2671cf"/>
<path d="M485.3 246.4l1.7-1 1.8-1.5 1.7-1.7 1.7-1.2 1.8-.9 1.7-1.2 2.6 33.6-1.7 1.4-1.8 1.2-1.7 1.3-1.7 1.6-1.8 1.6-1.7 1.3z" fill="#276dd2" stroke="#276dd2"/>
<path d="M473.2 254.6l1.7-1.4 1.7-1.1 1.8-.7 1.7-.9 1.7-1.4 1.8-1.6 1.7-1.1 2.6 34.5-1.7 1.4-1.8 1.7-1.7 1.7-1.7 1.3-1.8 1.2-1.7 1.5-1.7 1.8z" fill="#2a68d4" stroke="#2a68d4"/>
<path d="M464.5 261.6l1.7-1.7 1.8-1.9 1.7-1.3 1.7-1 1.8-1.1 2.6 36.9-1.8 1.7-1.7 1.7-1.7 1.9-1.8 2.3-1.7 2.1z" fill="#2f63d6" stroke="#2f63d6"/>
<path d="M457.6 267.6l1.7-1.7 1.7-1.7 1.8-1.4 1.7-1.2 2.6 39.6-1.7 1.8-1.8 1.8-1.7 2.1-1.7 2.1z" fill="#345dd6" stroke="#345dd6"/>
<path d="M448.9 274l1.7-1.4 1.8-1.7 1.7-1.3 1.7-1 1.8-1 2.6 41.4-1.8 1.7-1.7 1.6-1.8 2-1.7 2.2-1.7 1.9z" fill="#3858d5" stroke="#3858d5"/>
<path d="M440.2 278.1l1.8 .4 1.7-.6 1.7-1.4 1.8-1.4 1.7-1.1 2.6 44.4-1.8 1.6-1.7 1.6-1.7 1.3-1.8 .5-1.7-.7z" fill="#3a53d4" stroke="#3a53d4"/>
<path d="M435 277.1l1.8 .3 1.7 .2 1.7 .5 2.6 44.6-1.7-1-1.8-.9-1.7-1z" fill="#3858d5" stroke="#3858d5"/>
<path d="M426.4 275.8l1.7 .5 1.7-.2 1.8 0 1.7 .4 1.7 .6 2.6 42.7-1.7-1.1-1.8-.9-1.7-.6-1.7-.5-1.8-1z" fill="#345dd6" stroke="#345dd6"/>
<path d="M421.2 274.4l1.7 .2 1.7 .5 1.8 .7 2.5 39.9-1.7-1.4-1.7-1.2-1.8-.9z" fill="#2f63d6" stroke="#2f63d6"/>
<path d="M416 272.2l1.7 .8 1.7 .9 1.8 .5 2.5 37.8-1.7-1-1.7-1.3-1.8-1.2z" fill="#2a68d4" stroke="#2a68d4"/>
<path d="M412.5 271l1.7 .8 1.8 .4 2.5 36.5-1.7-1.1-1.7-1.6z" fill="#276dd2" stroke="#276dd2"/>
<path d="M409 268.1l1.8 1.5 1.7 1.4 2.6 35-1.8-2.4-1.7-2.7z" fill="#2671cf" stroke="#2671cf"/>
<path d="M405.6 266.4l1.7 .7 1.7 1 2.6 32.8-1.7-2.2-1.8-1.9z" fill="#2676cc" stroke="#2676cc"/>
<path d="M398.6 264.7l1.8-.2 1.7 .3 1.7 .8 1.8 .8 2.5 30.4-1.7-1.8-1.7-1.3-1.8-.7-1.7-.4z" fill="#247ac8" stroke="#247ac8"/>
<path d="M391.7 263.5l1.7-.2 1.8 .4 1.7 .7 1.7 .3 2.6 27.9-1.7-.5-1.8-.9-1.7-.6-1.7-.2z" fill="#217ec5" stroke="#217ec5"/>
<path d="M360.5 273.9l1.7-1.2 1.8-1.1 1.7-.7 1.7-.5 1.8-.8 1.7-1.1 1.7-.6 1.8-.3 1.7-.5 1.7-1 1.8-.7 1.7-.2 1.7-.3 1.8-.8 1.7-.6 1.7-.1 1.8 .2 1.7-.1 2.6 26.9-1.8-.2-1.7-.3-1.7-.2-1.8 .4-1.7 .4-1.7 .1-1.8 .1-1.7 .5-1.7 .7-1.8 .6-1.7 .5-1.7 .8-1.8 1.2-1.7 .9-1.7 .7-1.8 .7-1.7 1.1-1.7 1z" fill="#1f82c2" stroke="#1f82c2"/>
<path class="h" d="M360.5 273.9l2.6 25.5M362.2 272.7l2.6 25.7M364 271.6l2.5 25.7M365.7 270.9l2.6 25.7M367.4 270.4l2.6 25.5M369.2 269.6l2.5 25.4M370.9 268.5l2.6 25.3M372.6 267.9l2.6 25.1M374.4 267.6l2.5 24.9M376.1 267.1l2.6 24.8M377.8 266.1l2.6 25.1M379.6 265.4l2.5 25.3M381.3 265.2l2.6 25.4M383 264.9l2.6 25.6M384.8 264.1l2.5 26M386.5 263.5l2.6 26.2M388.2 263.4l2.6 26.5M390 263.6l2.5 26.6M391.7 263.5l2.6 26.9M393.4 263.3l2.6 27.3M395.2 263.7l2.5 27.5M396.9 264.4l2.6 27.7M398.6 264.7l2.6 27.9M400.4 264.5l2.5 28.5M402.1 264.8l2.6 28.9M403.8 265.6l2.6 29.4M405.6 266.4l2.5 30.4M407.3 267.1l2.6 31.6M409 268.1l2.6 32.8M410.8 269.6l2.5 34M412.5 271l2.6 35M414.2 271.8l2.6 35.8M416 272.2l2.5 36.5M417.7 273l2.6 36.9M419.4 273.9l2.6 37.3M421.2 274.4l2.5 37.8M422.9 274.6l2.6 38.5M424.6 275.1l2.6 39.2M426.4 275.8l2.5 39.9M428.1 276.3l2.6 40.4M429.8 276.1l2.6 41.1M431.6 276.1l2.5 41.7M433.3 276.5l2.6 42.2M435 277.1l2.6 42.7M436.8 277.4l2.5 43.4M438.5 277.6l2.6 44.1M440.2 278.1l2.6 44.6M442 278.5l2.5 44.9M443.7 277.9l2.6 45M445.4 276.5l2.6 45.1M447.2 275.1l2.5 44.9M448.9 274l2.6 44.4M450.6 272.6l2.6 43.9M452.4 270.9l2.5 43.4M454.1 269.6l2.6 42.7M455.8 268.6l2.6 42.1M457.6 267.6l2.6 41.4M459.3 265.9l2.6 41M461 264.2l2.6 40.6M462.8 262.8l2.6 40.2M464.5 261.6l2.6 39.6M466.2 259.9l2.6 39.2M468 258l2.6 38.8M469.7 256.7l2.6 38.2M471.4 255.7l2.6 37.5M473.2 254.6l2.6 36.9M474.9 253.2l2.6 36.5M476.6 252.1l2.6 36.1M478.4 251.4l2.6 35.6M480.1 250.5l2.6 35.2M481.8 249.1l2.6 34.9M483.6 247.5l2.6 34.8M485.3 246.4l2.6 34.5M487 245.4l2.6 34.2M488.8 243.9l2.6 34.1M490.5 242.2l2.6 34.2M492.2 241l2.6 34.1M494 240.1l2.6 33.8M495.7 238.9l2.6 33.6M497.4 237.3l2.6 33.5M499.2 235.9l2.6 33.3M500.9 235l2.6 32.9M502.6 233.8l2.6 32.6M504.4 232.2l2.6 32.4M506.1 230.6l2.6 32.2M507.8 229.5l2.6 31.9M509.6 228.4l2.6 31.5M511.3 226.9l2.6 31M513 225.3l2.6 30.6M514.8 224.1l2.6 30M516.5 223.1l2.6 29.4M518.3 221.6l2.5 29M520 219.8l2.6 28.7M521.7 218.3l2.6 28.4M523.5 217.2l2.5 27.9M525.2 215.9l2.6 27.6M526.9 214.3l2.6 27.2M528.7 212.9l2.5 26.7M530.4 212l2.6 26.2M532.1 211.1l2.6 25.5"/>
<path class="e" d="M360.5 273.9l2.6 25.5M532.1 211.1l2.6 25.5"/>
<path class="e" d="M360.5 273.9l1.7-1.2 1.8-1.1 1.7-.7 1.7-.5 1.8-.8 1.7-1.1 1.7-.6 1.8-.3 1.7-.5 1.7-1 1.8-.7 1.7-.2 1.7-.3 1.8-.8 1.7-.6 1.7-.1 1.8 .2 1.7-.1 1.7-.2 1.8 .4 1.7 .7 1.7 .3 1.8-.2 1.7 .3 1.7 .8 1.8 .8 1.7 .7 1.7 1 1.8 1.5 1.7 1.4 1.7 .8 1.8 .4 1.7 .8 1.7 .9 1.8 .5 1.7 .2 1.7 .5 1.8 .7 1.7 .5 1.7-.2 1.8 0 1.7 .4 1.7 .6 1.8 .3 1.7 .2 1.7 .5 1.8 .4 1.7-.6 1.7-1.4 1.8-1.4 1.7-1.1 1.7-1.4 1.8-1.7 1.7-1.3 1.7-1 1.8-1 1.7-1.7 1.7-1.7 1.8-1.4 1.7-1.2 1.7-1.7 1.8-1.9 1.7-1.3 1.7-1 1.8-1.1 1.7-1.4 1.7-1.1 1.8-.7 1.7-.9 1.7-1.4 1.8-1.6 1.7-1.1 1.7-1 1.8-1.5 1.7-1.7 1.7-1.2 1.8-.9 1.7-1.2 1.7-1.6 1.8-1.4 1.7-.9 1.7-1.2 1.8-1.6 1.7-1.6 1.7-1.1 1.8-1.1 1.7-1.5 1.7-1.6 1.8-1.2 1.7-1 1.8-1.5 1.7-1.8 1.7-1.5 1.8-1.1 1.7-1.3 1.7-1.6 1.8-1.4 1.7-.9 1.7-.9"/>
<path class="e" d="M363.1 299.4l1.7-1 1.7-1.1 1.8-.7 1.7-.7 1.7-.9 1.8-1.2 1.7-.8 1.7-.5 1.8-.6 1.7-.7 1.7-.5 1.8-.1 1.7-.1 1.7-.4 1.8-.4 1.7 .2 1.7 .3 1.8 .2 1.7 .2 1.7 .6 1.8 .9 1.7 .5 1.7 .4 1.8 .7 1.7 1.3 1.7 1.8 1.8 1.9 1.7 2.2 1.7 2.7 1.8 2.4 1.7 1.6 1.7 1.1 1.8 1.2 1.7 1.3 1.7 1 1.8 .9 1.7 1.2 1.7 1.4 1.8 1 1.7 .5 1.7 .6 1.8 .9 1.7 1.1 1.7 1 1.8 .9 1.7 1 1.7 .7 1.8-.5 1.7-1.3 1.7-1.6 1.8-1.6 1.7-1.9 1.7-2.2 1.8-2 1.7-1.6 1.8-1.7 1.7-2.1 1.7-2.1 1.8-1.8 1.7-1.8 1.7-2.1 1.8-2.3 1.7-1.9 1.7-1.7 1.8-1.7 1.7-1.8 1.7-1.5 1.8-1.2 1.7-1.3 1.7-1.7 1.8-1.7 1.7-1.4 1.7-1.3 1.8-1.6 1.7-1.6 1.7-1.3 1.8-1.2 1.7-1.4 1.7-1.7 1.8-1.6 1.7-1.3 1.7-1.5 1.8-1.8 1.7-1.8 1.7-1.4 1.8-1.5 1.7-2 1.7-2 1.8-1.8 1.7-1.6 1.7-1.9 1.8-2.1 1.7-1.8 1.7-1.6 1.8-1.6 1.7-2 1.7-1.9 1.8-1.4 1.7-1.6"/>
</g>
<path d="M92 322.3L92 80.2M92 322.3L355.6 367.4M355.6 367.4L534.7 301M92 322.3L84.8 321.1M92 281.9L84.8 280.7M92 241.6L84.8 240.4M92 201.2L84.8 200M92 160.9L84.8 159.7M92 120.6L84.8 119.3M92 80.2L84.8 78.9M92 322.3L85.8 324.7M174.4 336.4L168.2 338.8M256.8 350.5L250.6 352.9M339.1 364.6L332.9 367M355.6 367.4L362.2 368.6M430.2 339.7L436.8 340.9M504.9 312L511.5 313.2" stroke="#4a4a4a" stroke-width="1" fill="none"/>
<g font-family="'Liberation Sans',Arial,sans-serif" font-size="15.6" fill="#2a2a2a">
<text x="78.3" y="326.4" text-anchor="end">-100</text>
<text x="78.3" y="286.1" text-anchor="end">0</text>
<text x="78.3" y="245.7" text-anchor="end">100</text>
<text x="78.3" y="205.3" text-anchor="end">200</text>
<text x="78.3" y="165" text-anchor="end">300</text>
<text x="78.3" y="124.7" text-anchor="end">400</text>
<text x="78.3" y="84.3" text-anchor="end">500</text>
<text x="74.6" y="343.5" text-anchor="middle">0</text>
<text x="153" y="357.5" text-anchor="middle">10</text>
<text x="235" y="372.2" text-anchor="middle">20</text>
<text x="317.6" y="386.3" text-anchor="middle">30</text>
<text x="372.7" y="386.8" text-anchor="middle">0</text>
<text x="453.2" y="359.2" text-anchor="middle">10</text>
<text x="527.1" y="331.4" text-anchor="middle">20</text>
</g>
<g font-family="'Liberation Serif','Times New Roman',serif" font-size="24" fill="#111">
<text x="208.8" y="406.3" text-anchor="middle" textLength="124.4" lengthAdjust="spacingAndGlyphs">node number</text>
<text x="489" y="382" text-anchor="middle" textLength="61" lengthAdjust="spacingAndGlyphs">time/h</text>
<text transform="translate(26.2 192) rotate(-90)" text-anchor="middle" textLength="151" lengthAdjust="spacingAndGlyphs">load power/kW</text>
</g>
</svg>
</body></html>
